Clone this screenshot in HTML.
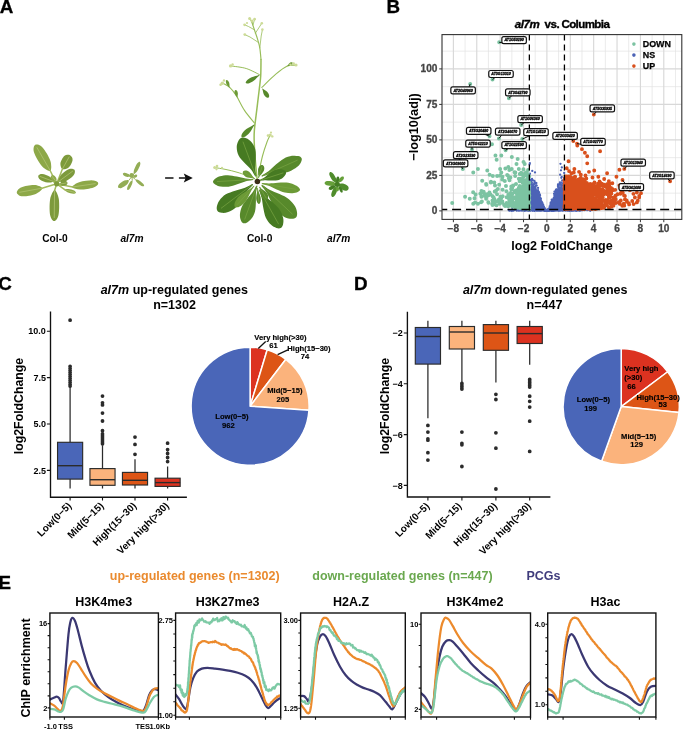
<!DOCTYPE html>
<html lang="en"><head><meta charset="utf-8"><title>Figure</title>
<style>
html,body{margin:0;padding:0;background:#fff}
svg{display:block}
svg text{font-family:'Liberation Sans',Arial,Helvetica,sans-serif;font-weight:bold}
</style></head><body>
<svg width="685" height="729" viewBox="0 0 685 729">
<rect width="685" height="729" fill="#fff"/>
<g stroke="#000" stroke-width="0.3"><text x="-0.3" y="12.7" font-size="18.8">A</text>
<text x="386.6" y="12.7" font-size="18.8">B</text>
<text x="-1.8" y="289.9" font-size="18.8">C</text>
<text x="353.9" y="290.2" font-size="18.8">D</text>
<text x="-1.6" y="588.9" font-size="18.8">E</text></g>
<g id="panelA">
<path d="M56.7 183.8L50.1 170.5M56.7 183.8L42 188.2M56.7 183.8L54.6 190.5M56.7 183.8L72.5 187M56.7 183.8L62.4 169M56.7 183.8L58.9 181.3M56.7 183.8L52.8 181.2M56.7 183.8L64.7 189.7M56.7 183.8L56 181.5M56.7 183.8L60 184" stroke="#a3ba5e" stroke-width="1.5" fill="none" stroke-linecap="round"/>
<path d="M50.88 170.05C50.94 169.45 51.33 167.96 51.24 166.42C51.15 164.87 51.07 162.92 50.33 160.77C49.59 158.62 48.12 155.75 46.82 153.52C45.52 151.3 43.89 148.86 42.53 147.41C41.18 145.95 39.92 145.25 38.71 144.8C37.51 144.35 36.14 144.22 35.3 144.7C34.46 145.18 33.88 146.43 33.66 147.7C33.44 148.97 33.41 150.41 33.99 152.31C34.56 154.21 35.84 156.85 37.1 159.1C38.37 161.34 40.1 164.06 41.58 165.78C43.07 167.51 44.71 168.56 46 169.42C47.29 170.29 48.51 170.84 49.32 170.95C50.14 171.05 50.62 170.2 50.88 170.05Z" fill="#8da848"/><path d="M50.1 170.5L36.78 147.28" stroke="#b4c777" stroke-width="0.7" fill="none"/>
<path d="M41.85 187.4C41.38 187.16 40.27 186.35 38.99 185.95C37.7 185.55 36.08 185.01 34.12 184.97C32.16 184.93 29.41 185.3 27.22 185.71C25.04 186.13 22.6 186.76 21.03 187.46C19.47 188.17 18.54 189.03 17.84 189.92C17.13 190.8 16.64 191.93 16.8 192.8C16.96 193.67 17.81 194.55 18.79 195.13C19.76 195.72 20.93 196.19 22.65 196.3C24.36 196.4 26.87 196.13 29.06 195.75C31.24 195.37 33.95 194.73 35.77 194C37.59 193.27 38.91 192.2 39.97 191.37C41.04 190.54 41.83 189.66 42.15 189C42.46 188.34 41.9 187.66 41.85 187.4Z" fill="#8da848"/><path d="M42 188.2L19.32 192.34" stroke="#b4c777" stroke-width="0.7" fill="none"/>
<path d="M53.83 190.49C53.52 190.99 52.58 192.1 51.97 193.52C51.36 194.93 50.57 196.7 50.17 198.98C49.77 201.27 49.6 204.57 49.58 207.21C49.56 209.86 49.7 212.86 50.06 214.84C50.41 216.83 51.04 218.11 51.73 219.14C52.42 220.16 53.37 220.99 54.2 221C55.03 221.01 56 220.21 56.72 219.2C57.44 218.2 58.09 216.93 58.5 214.96C58.91 212.98 59.13 209.98 59.18 207.34C59.23 204.69 59.15 201.39 58.81 199.1C58.47 196.8 57.73 195.02 57.15 193.58C56.58 192.15 55.92 191.03 55.37 190.51C54.81 189.99 54.09 190.49 53.83 190.49Z" fill="#7d9a3c"/><path d="M54.6 190.5L54.24 217.95" stroke="#b4c777" stroke-width="0.7" fill="none"/>
<path d="M72.6 187.65C73.06 187.84 74.12 188.49 75.39 188.81C76.67 189.13 78.26 189.56 80.24 189.59C82.21 189.61 85.01 189.31 87.23 188.97C89.46 188.62 91.97 188.1 93.59 187.53C95.21 186.96 96.2 186.26 96.97 185.54C97.74 184.82 98.3 183.9 98.2 183.2C98.1 182.5 97.29 181.79 96.35 181.32C95.4 180.85 94.25 180.47 92.53 180.39C90.81 180.31 88.26 180.54 86.04 180.85C83.81 181.17 81.04 181.69 79.16 182.29C77.27 182.88 75.87 183.75 74.75 184.43C73.62 185.11 72.76 185.81 72.4 186.35C72.05 186.89 72.56 187.43 72.6 187.65Z" fill="#8da848"/><path d="M72.5 187L95.63 183.58" stroke="#b4c777" stroke-width="0.7" fill="none"/>
<path d="M63.13 169.41C63.54 169.34 64.7 169.32 65.62 168.99C66.54 168.66 67.72 168.26 68.64 167.42C69.57 166.58 70.52 165.15 71.18 163.94C71.83 162.74 72.42 161.29 72.56 160.19C72.69 159.09 72.41 158.18 72 157.35C71.59 156.51 70.89 155.64 70.1 155.2C69.31 154.76 68.2 154.62 67.28 154.71C66.35 154.8 65.43 155.04 64.56 155.73C63.7 156.42 62.78 157.69 62.09 158.88C61.41 160.06 60.7 161.63 60.47 162.86C60.24 164.08 60.52 165.3 60.72 166.25C60.92 167.21 61.27 168.07 61.67 168.59C62.07 169.12 62.88 169.27 63.13 169.41Z" fill="#7d9a3c"/><path d="M62.4 169L69.33 156.58" stroke="#b4c777" stroke-width="0.7" fill="none"/>
<path d="M59.31 181.85C59.73 181.88 60.8 182.13 61.84 182.02C62.88 181.91 64.2 181.79 65.56 181.2C66.93 180.6 68.69 179.44 70.03 178.44C71.38 177.43 72.82 176.17 73.63 175.15C74.44 174.12 74.75 173.18 74.89 172.29C75.04 171.4 74.94 170.4 74.5 169.8C74.06 169.2 73.13 168.81 72.24 168.69C71.34 168.57 70.35 168.58 69.13 169.05C67.92 169.52 66.29 170.53 64.93 171.51C63.57 172.5 61.95 173.84 60.97 174.96C60 176.09 59.5 177.32 59.08 178.28C58.67 179.24 58.45 180.15 58.49 180.75C58.53 181.34 59.17 181.67 59.31 181.85Z" fill="#7d9a3c"/><path d="M58.9 181.3L72.94 170.95" stroke="#b4c777" stroke-width="0.7" fill="none"/>
<path d="M52.99 180.69C52.82 180.4 52.52 179.58 51.99 178.94C51.46 178.29 50.8 177.47 49.81 176.82C48.81 176.17 47.27 175.5 46.01 175.04C44.75 174.59 43.28 174.17 42.24 174.08C41.21 173.98 40.44 174.18 39.79 174.47C39.13 174.75 38.51 175.25 38.3 175.8C38.09 176.35 38.24 177.13 38.55 177.78C38.86 178.43 39.31 179.08 40.16 179.68C41 180.29 42.39 180.94 43.64 181.42C44.89 181.89 46.49 182.39 47.67 182.56C48.85 182.72 49.89 182.52 50.71 182.38C51.53 182.24 52.23 181.99 52.61 181.71C52.99 181.43 52.93 180.86 52.99 180.69Z" fill="#7d9a3c"/><path d="M52.8 181.2L39.75 176.34" stroke="#b4c777" stroke-width="0.7" fill="none"/>
<path d="M64.62 189.99C64.77 190.16 65.09 190.63 65.55 191C66.01 191.37 66.58 191.84 67.38 192.22C68.18 192.59 69.38 192.97 70.35 193.24C71.33 193.5 72.45 193.74 73.21 193.79C73.98 193.85 74.52 193.73 74.96 193.57C75.41 193.4 75.81 193.12 75.9 192.8C75.99 192.48 75.79 192.03 75.49 191.66C75.19 191.29 74.79 190.92 74.11 190.57C73.42 190.22 72.34 189.85 71.37 189.57C70.4 189.3 69.17 189.01 68.29 188.92C67.41 188.83 66.68 188.94 66.09 189.02C65.51 189.1 65.03 189.25 64.78 189.41C64.54 189.57 64.65 189.9 64.62 189.99Z" fill="#8da848"/><path d="M64.7 189.7L74.78 192.49" stroke="#b4c777" stroke-width="0.7" fill="none"/>
<path d="M56.29 181.28C56.34 181.09 56.53 180.6 56.54 180.15C56.56 179.7 56.59 179.13 56.4 178.58C56.2 178.02 55.76 177.34 55.36 176.82C54.97 176.3 54.46 175.77 54.02 175.49C53.58 175.21 53.15 175.14 52.73 175.14C52.31 175.14 51.82 175.26 51.5 175.5C51.18 175.74 50.93 176.18 50.81 176.58C50.69 176.98 50.64 177.41 50.78 177.91C50.93 178.41 51.3 179.06 51.69 179.58C52.07 180.1 52.61 180.72 53.08 181.06C53.56 181.41 54.12 181.54 54.56 181.65C54.99 181.76 55.42 181.78 55.71 181.72C56 181.66 56.2 181.35 56.29 181.28Z" fill="#8da848"/><path d="M56 181.5L51.95 176.1" stroke="#b4c777" stroke-width="0.7" fill="none"/>
<path d="M60.06 184.36C60.21 184.49 60.55 184.88 60.95 185.11C61.34 185.33 61.84 185.62 62.43 185.71C63.02 185.79 63.84 185.72 64.49 185.61C65.14 185.5 65.86 185.3 66.32 185.04C66.78 184.78 67.04 184.43 67.24 184.05C67.44 183.68 67.56 183.19 67.5 182.8C67.44 182.41 67.16 181.98 66.86 181.69C66.56 181.4 66.2 181.15 65.68 181.04C65.16 180.94 64.41 180.97 63.76 181.07C63.11 181.17 62.31 181.36 61.77 181.62C61.24 181.88 60.86 182.32 60.55 182.65C60.25 182.99 60.02 183.35 59.94 183.64C59.86 183.92 60.04 184.24 60.06 184.36Z" fill="#7d9a3c"/><path d="M60 184L66.75 182.92" stroke="#b4c777" stroke-width="0.7" fill="none"/>
<circle cx="56.7" cy="183.8" r="2.6" fill="#7d9a3c"/>
<path d="M131.9 176.5L134 173.8" stroke="#a3ba5e" stroke-width="1" fill="none"/>
<path d="M134.27 173.93C134.48 173.79 135.02 173.51 135.5 173.06C135.98 172.6 136.59 172.04 137.15 171.21C137.72 170.39 138.39 169.12 138.89 168.08C139.39 167.05 139.9 165.85 140.14 165.01C140.38 164.17 140.39 163.56 140.34 163.05C140.28 162.53 140.09 162.04 139.8 161.9C139.51 161.76 139.01 161.91 138.57 162.18C138.12 162.46 137.66 162.84 137.14 163.55C136.63 164.26 136 165.4 135.49 166.43C134.98 167.45 134.4 168.77 134.09 169.72C133.79 170.68 133.72 171.5 133.66 172.16C133.6 172.82 133.63 173.37 133.73 173.67C133.83 173.96 134.18 173.89 134.27 173.93Z" fill="#93ad55"/>
<path d="M131.9 176.5L128.6 180.6" stroke="#a3ba5e" stroke-width="1" fill="none"/>
<path d="M128.38 180.26C128.11 180.24 127.46 180.07 126.81 180.13C126.15 180.18 125.32 180.24 124.43 180.58C123.54 180.93 122.38 181.61 121.48 182.2C120.59 182.8 119.62 183.55 119.05 184.16C118.49 184.77 118.24 185.34 118.1 185.88C117.96 186.42 117.96 187.03 118.2 187.4C118.44 187.77 119 188.02 119.55 188.1C120.1 188.19 120.72 188.19 121.51 187.92C122.3 187.65 123.37 187.06 124.28 186.48C125.18 185.89 126.27 185.1 126.94 184.43C127.62 183.75 128 183.01 128.31 182.43C128.63 181.85 128.81 181.3 128.82 180.94C128.83 180.58 128.45 180.37 128.38 180.26Z" fill="#93ad55"/>
<path d="M131.9 176.5L135.6 179.6" stroke="#a3ba5e" stroke-width="1" fill="none"/>
<path d="M135.44 179.8C135.52 179.99 135.64 180.47 135.92 180.93C136.19 181.38 136.52 181.96 137.08 182.55C137.64 183.13 138.52 183.87 139.25 184.43C139.98 184.99 140.84 185.58 141.47 185.9C142.09 186.22 142.57 186.33 142.99 186.36C143.41 186.39 143.83 186.32 144 186.1C144.17 185.88 144.14 185.46 144 185.06C143.86 184.66 143.64 184.22 143.17 183.7C142.7 183.17 141.91 182.49 141.19 181.92C140.46 181.35 139.53 180.68 138.82 180.29C138.12 179.9 137.48 179.72 136.96 179.57C136.45 179.42 136.01 179.36 135.76 179.4C135.5 179.44 135.5 179.73 135.44 179.8Z" fill="#93ad55"/>
<path d="M131.9 176.5L132.3 180.5" stroke="#a3ba5e" stroke-width="1" fill="none"/>
<path d="M132.09 180.39C131.92 180.51 131.49 180.73 131.1 181.09C130.71 181.45 130.22 181.89 129.75 182.55C129.29 183.21 128.74 184.22 128.32 185.05C127.91 185.88 127.49 186.83 127.28 187.51C127.08 188.18 127.06 188.66 127.09 189.08C127.13 189.49 127.27 189.88 127.5 190C127.73 190.12 128.13 190 128.48 189.78C128.84 189.56 129.22 189.26 129.64 188.69C130.05 188.13 130.57 187.22 131 186.4C131.42 185.58 131.9 184.53 132.16 183.77C132.42 183 132.48 182.34 132.54 181.81C132.6 181.29 132.59 180.84 132.51 180.61C132.44 180.37 132.16 180.43 132.09 180.39Z" fill="#93ad55"/>
<path d="M131.9 176.5L130 176.2" stroke="#a3ba5e" stroke-width="1" fill="none"/>
<path d="M130.09 175.94C130.01 175.8 129.87 175.39 129.61 175.07C129.35 174.75 129.03 174.34 128.54 174.02C128.06 173.7 127.3 173.38 126.69 173.16C126.07 172.94 125.35 172.74 124.84 172.7C124.33 172.66 123.96 172.77 123.63 172.92C123.31 173.07 123 173.32 122.9 173.6C122.8 173.88 122.87 174.27 123.02 174.59C123.17 174.92 123.39 175.24 123.8 175.54C124.22 175.84 124.89 176.15 125.5 176.38C126.12 176.61 126.9 176.85 127.48 176.92C128.06 176.99 128.57 176.89 128.97 176.81C129.38 176.73 129.72 176.6 129.91 176.46C130.09 176.31 130.06 176.03 130.09 175.94Z" fill="#93ad55"/>
<path d="M131.9 176.5L133.5 177.5" stroke="#a3ba5e" stroke-width="1" fill="none"/>
<path d="M133.62 177.67C133.73 177.7 134.01 177.81 134.26 177.83C134.52 177.85 134.85 177.87 135.17 177.77C135.49 177.66 135.89 177.42 136.19 177.2C136.49 176.98 136.81 176.69 136.98 176.45C137.14 176.2 137.18 175.95 137.19 175.71C137.19 175.47 137.13 175.19 137 175C136.87 174.81 136.62 174.67 136.39 174.59C136.16 174.52 135.91 174.48 135.62 174.55C135.34 174.63 134.96 174.84 134.66 175.05C134.35 175.26 133.99 175.56 133.79 175.83C133.59 176.1 133.5 176.42 133.44 176.67C133.37 176.92 133.35 177.16 133.38 177.33C133.41 177.5 133.58 177.61 133.62 177.67Z" fill="#93ad55"/>
<circle cx="131.7" cy="175.4" r="2.3" fill="#93ad55"/>
<path d="M165.1 177.95H173.5M178.9 177.95H186.5" stroke="#111" stroke-width="1.5" fill="none"/>
<path d="M192.8 177.95L183.8 173.6L185.6 177.95L183.8 182.5Z" fill="#111"/>
<g fill="none" stroke="#97bd58" stroke-linecap="round">
<path d="M257.2 180C256.88 176.67 255.8 166.4 255.3 160C254.8 153.6 254.35 146.6 254.2 141.6C254.05 136.6 253.95 135.47 254.4 130C254.85 124.53 256.08 115.63 256.9 108.8C257.72 101.97 258.67 94.48 259.3 89C259.93 83.52 260.42 80.83 260.7 75.9C260.98 70.97 260.95 62.15 261 59.4" stroke-width="1.5"/>
<path d="M261 59.4C260.8 57.48 260.35 51.2 259.8 47.9C259.25 44.6 258.6 42.62 257.7 39.6C256.8 36.58 255.37 32.68 254.4 29.8C253.43 26.92 252.32 23.55 251.9 22.3" stroke-width="1.15"/>
<path d="M254.4 123C252.75 120.9 247.52 114.97 244.5 110.4C241.48 105.83 238.77 99.43 236.3 95.6C233.83 91.77 231.9 89.45 229.7 87.4C227.5 85.35 224.2 83.98 223.1 83.3" stroke-width="1.1"/>
<path d="M261.8 87.4C264.13 85.2 271.55 77.77 275.8 74.2C280.05 70.63 284 67.5 287.3 66C290.6 64.5 294.22 65.33 295.6 65.2" stroke-width="1.1"/>
<path d="M260.2 75C257.87 73.92 251.02 70 246.2 68.5C241.38 67 233.78 66.42 231.3 66" stroke-width="1.0"/>
<path d="M258.5 174.5C259.17 171.42 261.08 161.42 262.5 156C263.92 150.58 265.75 145.42 267 142C268.25 138.58 269.5 136.58 270 135.5" stroke-width="1.1"/>
<path d="M252.5 177.6C250.08 176.75 242.42 173.85 238 172.5C233.58 171.15 229.83 170.32 226 169.5C222.17 168.68 216.83 167.92 215 167.6" stroke-width="1.0"/>
<path d="M259.8 47.9L261.2 36L262.4 29.8M257.7 42L250 37L244.8 34.6M254.4 29.8L248.5 26.5L244.6 24.8M255.5 33L260 26L261.8 23.2M251.9 22.3L249.6 18.6M253 25L254.6 19.2" stroke-width="0.8"/>
</g>
<path d="M254.12 124.61C253.73 124.84 252.8 125.44 251.78 125.99C250.77 126.55 249.18 127.23 248.03 127.94C246.88 128.64 245.83 129.37 244.88 130.24C243.93 131.12 242.92 132.31 242.34 133.19C241.76 134.07 241.53 134.89 241.41 135.53C241.28 136.16 241.32 136.71 241.6 137C241.88 137.29 242.42 137.35 243.06 137.25C243.7 137.16 244.53 136.96 245.44 136.42C246.34 135.87 247.57 134.91 248.48 134C249.39 133.08 250.16 132.06 250.91 130.94C251.67 129.81 252.41 128.26 253.01 127.27C253.6 126.28 254.29 125.43 254.48 124.99C254.67 124.55 254.18 124.67 254.12 124.61Z" fill="#57892b"/>
<path d="M259.19 75.11C258.81 75.22 257.89 75.54 256.9 75.81C255.92 76.07 254.43 76.33 253.3 76.7C252.17 77.06 251.11 77.46 250.11 78.01C249.11 78.55 247.98 79.35 247.29 79.97C246.6 80.59 246.22 81.23 245.97 81.74C245.72 82.24 245.63 82.71 245.8 83C245.97 83.29 246.42 83.45 246.98 83.49C247.54 83.54 248.28 83.53 249.17 83.26C250.05 82.98 251.31 82.41 252.29 81.83C253.27 81.25 254.15 80.54 255.04 79.75C255.93 78.97 256.92 77.82 257.65 77.1C258.37 76.39 259.15 75.82 259.41 75.49C259.67 75.16 259.23 75.17 259.19 75.11Z" fill="#57892b"/>
<path d="M262.22 88.72C262.3 89 262.53 89.66 262.71 90.37C262.9 91.09 263.04 92.21 263.31 93.02C263.57 93.83 263.87 94.58 264.31 95.25C264.74 95.92 265.4 96.64 265.93 97.05C266.45 97.47 267.01 97.63 267.46 97.72C267.9 97.82 268.32 97.79 268.6 97.6C268.88 97.41 269.05 97.02 269.12 96.58C269.2 96.13 269.24 95.54 269.04 94.91C268.84 94.27 268.4 93.4 267.93 92.75C267.46 92.1 266.87 91.56 266.21 91.02C265.54 90.48 264.55 89.95 263.95 89.53C263.34 89.1 262.87 88.61 262.58 88.48C262.29 88.34 262.28 88.68 262.22 88.72Z" fill="#57892b"/>
<path d="M237.46 97.46C237.47 97.26 237.49 96.77 237.56 96.25C237.63 95.73 237.82 94.95 237.86 94.35C237.9 93.75 237.89 93.18 237.78 92.63C237.66 92.07 237.41 91.43 237.16 91.03C236.92 90.62 236.58 90.37 236.31 90.2C236.03 90.03 235.74 89.94 235.5 90C235.26 90.06 235.04 90.27 234.87 90.55C234.71 90.83 234.52 91.2 234.49 91.67C234.45 92.14 234.52 92.83 234.66 93.37C234.81 93.92 235.07 94.43 235.37 94.95C235.68 95.47 236.21 96.07 236.5 96.5C236.8 96.93 236.99 97.38 237.14 97.54C237.3 97.7 237.4 97.48 237.46 97.46Z" fill="#6c9a36"/>
<path d="M229.64 87.75C229.62 87.53 229.55 87 229.53 86.45C229.5 85.89 229.55 85.05 229.48 84.41C229.41 83.76 229.31 83.16 229.1 82.58C228.89 82 228.55 81.35 228.24 80.94C227.94 80.53 227.58 80.3 227.29 80.14C227 79.99 226.71 79.92 226.5 80C226.29 80.08 226.12 80.33 226.01 80.64C225.9 80.95 225.79 81.36 225.84 81.87C225.88 82.37 226.07 83.09 226.3 83.66C226.53 84.23 226.86 84.74 227.24 85.27C227.62 85.79 228.22 86.38 228.57 86.81C228.93 87.24 229.18 87.7 229.36 87.85C229.54 88.01 229.59 87.76 229.64 87.75Z" fill="#6c9a36"/>
<path d="M287.37 66.31C287.53 66.26 287.92 66.13 288.33 66.02C288.75 65.92 289.4 65.84 289.87 65.69C290.34 65.53 290.77 65.36 291.16 65.11C291.55 64.86 291.96 64.47 292.2 64.17C292.44 63.86 292.53 63.53 292.58 63.27C292.63 63.01 292.61 62.76 292.5 62.6C292.39 62.44 292.16 62.33 291.9 62.29C291.64 62.24 291.3 62.21 290.93 62.33C290.56 62.44 290.05 62.7 289.68 62.97C289.31 63.25 288.99 63.59 288.68 63.98C288.38 64.36 288.07 64.94 287.83 65.3C287.59 65.65 287.3 65.92 287.23 66.09C287.15 66.26 287.35 66.27 287.37 66.31Z" fill="#6c9a36"/>
<circle cx="262.4" cy="29.6" r="1.3" fill="#cddb96"/>
<circle cx="244.8" cy="34.6" r="1.4" fill="#cddb96"/>
<circle cx="244.6" cy="24.8" r="1.4" fill="#cddb96"/>
<circle cx="261.8" cy="23.2" r="1.3" fill="#cddb96"/>
<circle cx="249.6" cy="18.6" r="1.5" fill="#cddb96"/>
<circle cx="254.6" cy="19.2" r="1.4" fill="#cddb96"/>
<circle cx="252" cy="21" r="1.4" fill="#cddb96"/>
<circle cx="247" cy="23" r="1.1" fill="#cddb96"/>
<circle cx="222.3" cy="83.2" r="1.7" fill="#cddb96"/>
<circle cx="220.6" cy="84.8" r="1.3" fill="#cddb96"/>
<circle cx="224" cy="80.5" r="1.2" fill="#cddb96"/>
<circle cx="296" cy="65" r="1.6" fill="#cddb96"/>
<circle cx="293.6" cy="63.6" r="1.3" fill="#cddb96"/>
<circle cx="290.5" cy="64.8" r="1.2" fill="#cddb96"/>
<circle cx="230.6" cy="65.9" r="1.7" fill="#cddb96"/>
<circle cx="232.6" cy="64.4" r="1.2" fill="#cddb96"/>
<circle cx="270.2" cy="135" r="1.6" fill="#cddb96"/>
<circle cx="272.3" cy="136.4" r="1.2" fill="#cddb96"/>
<circle cx="268" cy="135.6" r="1.3" fill="#cddb96"/>
<circle cx="271" cy="132.6" r="1.1" fill="#cddb96"/>
<circle cx="214.7" cy="167.5" r="1.5" fill="#cddb96"/>
<circle cx="217" cy="166" r="1.3" fill="#cddb96"/>
<circle cx="216.5" cy="169.3" r="1.1" fill="#cddb96"/>
<circle cx="222" cy="167.8" r="1.1" fill="#cddb96"/>
<path d="M256.47 175.75C256.26 174.52 255.35 171.23 255.23 168.38C255.11 165.52 255.74 161.79 255.75 158.6C255.75 155.4 255.99 151.97 255.27 149.2C254.55 146.42 252.92 143.76 251.41 141.93C249.9 140.1 247.87 138.9 246.22 138.21C244.56 137.52 242.83 137.3 241.5 137.8C240.17 138.3 239.01 139.6 238.21 141.21C237.42 142.81 236.67 145.05 236.74 147.42C236.8 149.79 237.32 152.87 238.6 155.44C239.88 158.01 242.31 160.44 244.41 162.84C246.52 165.25 249.44 167.64 251.23 169.87C253.01 172.11 254.26 175.27 255.13 176.25C256.01 177.23 256.24 175.83 256.47 175.75Z" fill="#467a22"/><path d="M255.8 176L242.93 141.62" stroke="#7aa544" stroke-width="0.7" fill="none"/>
<path d="M262.23 176.51C263.49 176.15 266.89 174.89 269.81 174.35C272.74 173.81 276.52 173.75 279.78 173.27C283.05 172.78 286.54 172.44 289.41 171.42C292.28 170.39 295.06 168.64 296.99 167.11C298.92 165.58 300.22 163.72 300.99 162.25C301.76 160.78 302.06 159.32 301.6 158.3C301.14 157.28 299.86 156.52 298.25 156.12C296.64 155.71 294.38 155.44 291.96 155.86C289.53 156.28 286.37 157.18 283.7 158.64C281.02 160.09 278.44 162.47 275.9 164.57C273.36 166.68 270.8 169.46 268.44 171.28C266.09 173.1 262.81 174.62 261.77 175.49C260.74 176.36 262.15 176.34 262.23 176.51Z" fill="#57892b"/><path d="M262 176L297.64 160.07" stroke="#7aa544" stroke-width="0.7" fill="none"/>
<path d="M252.97 179.04C251.76 178.96 248.42 178.96 245.72 178.54C243.02 178.12 239.75 177.07 236.78 176.52C233.8 175.96 230.68 175.22 227.87 175.19C225.06 175.16 222.08 175.71 219.91 176.33C217.74 176.96 215.99 178.02 214.84 178.93C213.69 179.84 212.95 180.88 213 181.8C213.05 182.72 213.91 183.67 215.16 184.44C216.41 185.21 218.26 186.07 220.49 186.44C222.72 186.81 225.74 187.02 228.53 186.67C231.32 186.31 234.33 185.22 237.22 184.32C240.12 183.43 243.25 182.02 245.88 181.29C248.51 180.56 251.84 180.33 253.03 179.96C254.21 179.58 252.98 179.19 252.97 179.04Z" fill="#57892b"/><path d="M253 179.5L217 181.57" stroke="#7aa544" stroke-width="0.7" fill="none"/>
<path d="M259.63 180.9C260.47 180.78 262.73 180.24 264.65 180.17C266.58 180.1 269.04 180.49 271.19 180.5C273.34 180.51 275.63 180.66 277.53 180.23C279.44 179.8 281.32 178.83 282.64 177.93C283.96 177.03 284.88 175.81 285.44 174.82C286 173.84 286.26 172.8 286 172C285.74 171.2 284.94 170.5 283.91 170.03C282.88 169.55 281.42 169.1 279.82 169.13C278.22 169.17 276.13 169.47 274.33 170.23C272.52 170.99 270.75 172.44 269.01 173.7C267.27 174.96 265.49 176.7 263.89 177.77C262.28 178.84 260.08 179.58 259.37 180.1C258.66 180.62 259.59 180.77 259.63 180.9Z" fill="#467a22"/><path d="M259.5 180.5L283.35 172.85" stroke="#7aa544" stroke-width="0.7" fill="none"/>
<path d="M261.93 183.89C263.05 184.22 266.19 184.93 268.64 185.85C271.09 186.78 273.95 188.35 276.63 189.45C279.31 190.55 282.09 191.84 284.72 192.46C287.35 193.08 290.26 193.24 292.42 193.17C294.58 193.1 296.43 192.57 297.7 192.04C298.96 191.51 299.87 190.79 300 190C300.13 189.21 299.52 188.23 298.5 187.31C297.49 186.39 295.92 185.28 293.9 184.49C291.88 183.71 289.09 182.89 286.4 182.6C283.71 182.31 280.67 182.6 277.77 182.75C274.88 182.9 271.66 183.43 269.04 183.49C266.42 183.55 263.25 183.04 262.07 183.11C260.88 183.17 261.96 183.76 261.93 183.89Z" fill="#6c9a36"/><path d="M262 183.5L296.2 189.35" stroke="#7aa544" stroke-width="0.7" fill="none"/>
<path d="M252.1 183.97C250.92 184.59 247.84 186.58 245 187.69C242.17 188.8 238.31 189.52 235.11 190.63C231.92 191.74 228.44 192.72 225.82 194.35C223.2 195.99 220.91 198.41 219.42 200.44C217.92 202.47 217.18 204.76 216.86 206.52C216.54 208.28 216.7 209.95 217.5 211C218.3 212.05 219.86 212.66 221.64 212.83C223.42 213 225.83 212.91 228.18 212.02C230.54 211.13 233.5 209.58 235.78 207.51C238.06 205.43 239.95 202.35 241.89 199.57C243.82 196.8 245.56 193.27 247.4 190.85C249.23 188.42 252.11 186.17 252.9 185.03C253.68 183.88 252.23 184.15 252.1 183.97Z" fill="#467a22"/><path d="M252.5 184.5L221 208.35" stroke="#7aa544" stroke-width="0.7" fill="none"/>
<path d="M261.53 186C262.4 187.12 265.04 189.99 266.72 192.75C268.41 195.5 269.88 199.38 271.64 202.51C273.39 205.64 275.07 209.08 277.25 211.53C279.44 213.98 282.38 215.96 284.75 217.19C287.13 218.41 289.63 218.82 291.5 218.87C293.38 218.92 295.07 218.49 296 217.5C296.93 216.51 297.26 214.8 297.1 212.93C296.93 211.06 296.37 208.59 295.01 206.29C293.64 204 291.48 201.18 288.91 199.15C286.33 197.12 282.79 195.65 279.56 194.09C276.33 192.53 272.37 191.29 269.52 189.77C266.67 188.26 263.8 185.63 262.47 185C261.14 184.37 261.69 185.83 261.53 186Z" fill="#57892b"/><path d="M262 185.5L292.6 214.3" stroke="#7aa544" stroke-width="0.7" fill="none"/>
<path d="M256.27 185.81C255.69 186.86 254.35 189.88 252.79 192.12C251.23 194.36 248.75 196.83 246.93 199.26C245.1 201.68 243.01 204.15 241.85 206.68C240.69 209.2 240.11 212.15 239.94 214.4C239.77 216.66 240.26 218.73 240.82 220.19C241.38 221.66 242.25 222.82 243.3 223.2C244.35 223.58 245.76 223.25 247.13 222.49C248.5 221.72 250.21 220.44 251.52 218.61C252.83 216.77 254.28 214.14 255.01 211.45C255.74 208.77 255.72 205.53 255.87 202.5C256.03 199.47 255.71 195.99 255.95 193.27C256.19 190.55 257.27 187.43 257.33 186.19C257.38 184.95 256.45 185.87 256.27 185.81Z" fill="#57892b"/><path d="M256.8 186L244.65 219.48" stroke="#7aa544" stroke-width="0.7" fill="none"/>
<path d="M258.94 190.31C259.39 191.56 260.94 194.85 261.66 197.78C262.38 200.7 262.6 204.58 263.27 207.86C263.95 211.14 264.47 214.68 265.73 217.47C266.99 220.26 269.05 222.85 270.82 224.6C272.6 226.35 274.72 227.41 276.39 227.98C278.05 228.54 279.68 228.63 280.8 228C281.92 227.37 282.7 225.94 283.08 224.22C283.47 222.51 283.67 220.15 283.11 217.72C282.54 215.29 281.41 212.18 279.68 209.65C277.96 207.12 275.21 204.83 272.77 202.54C270.32 200.25 267.13 198.04 265.01 195.9C262.89 193.76 261.07 190.62 260.06 189.69C259.05 188.76 259.13 190.21 258.94 190.31Z" fill="#467a22"/><path d="M259.5 190L278.67 224.2" stroke="#7aa544" stroke-width="0.7" fill="none"/>
<path d="M253.75 185.77C253.09 186.33 251.41 187.98 249.82 189.1C248.24 190.21 246.05 191.28 244.26 192.46C242.46 193.64 240.5 194.79 239.07 196.17C237.63 197.54 236.42 199.31 235.65 200.71C234.87 202.11 234.55 203.53 234.44 204.58C234.33 205.63 234.5 206.54 235 207C235.5 207.46 236.43 207.53 237.46 207.32C238.49 207.11 239.88 206.64 241.19 205.73C242.51 204.82 244.15 203.44 245.37 201.87C246.6 200.31 247.55 198.24 248.54 196.34C249.54 194.44 250.38 192.15 251.34 190.46C252.29 188.78 253.85 187.01 254.25 186.23C254.65 185.45 253.83 185.85 253.75 185.77Z" fill="#6c9a36"/><path d="M254 186L236.9 204.9" stroke="#7aa544" stroke-width="0.7" fill="none"/>
<path d="M259.28 187.13C259.43 187.55 259.96 188.65 260.18 189.65C260.4 190.65 260.41 192.01 260.6 193.14C260.8 194.27 260.93 195.49 261.36 196.42C261.8 197.35 262.54 198.18 263.2 198.72C263.85 199.26 264.65 199.55 265.29 199.68C265.92 199.81 266.55 199.77 267 199.5C267.45 199.23 267.78 198.69 267.96 198.07C268.15 197.45 268.27 196.61 268.1 195.78C267.93 194.95 267.55 193.9 266.94 193.08C266.32 192.26 265.3 191.57 264.4 190.86C263.49 190.16 262.3 189.51 261.52 188.85C260.74 188.18 260.1 187.15 259.72 186.87C259.35 186.58 259.35 187.09 259.28 187.13Z" fill="#57892b"/><path d="M259.5 187L266.25 198.25" stroke="#7aa544" stroke-width="0.7" fill="none"/>
<path d="M257.32 188.02C257.31 188.5 257.36 189.84 257.23 190.93C257.11 192.02 256.75 193.34 256.58 194.54C256.4 195.74 256.16 197 256.19 198.13C256.22 199.26 256.48 200.44 256.76 201.3C257.04 202.17 257.48 202.85 257.85 203.3C258.22 203.75 258.64 204.03 259 204C259.36 203.97 259.72 203.61 260 203.1C260.28 202.59 260.59 201.83 260.7 200.94C260.81 200.04 260.85 198.82 260.67 197.71C260.49 196.6 260.02 195.4 259.62 194.26C259.23 193.11 258.63 191.88 258.31 190.83C257.98 189.78 257.84 188.45 257.68 187.98C257.51 187.51 257.38 188.01 257.32 188.02Z" fill="#57892b"/><path d="M257.5 188L258.85 202.4" stroke="#7aa544" stroke-width="0.7" fill="none"/>
<path d="M255.13 178.8C254.81 178.5 253.86 177.79 253.22 177.04C252.58 176.29 251.96 175.14 251.28 174.27C250.6 173.4 249.94 172.42 249.15 171.81C248.36 171.2 247.36 170.8 246.56 170.61C245.76 170.42 244.96 170.51 244.36 170.65C243.77 170.8 243.25 171.09 243 171.5C242.75 171.91 242.71 172.5 242.84 173.1C242.96 173.69 243.24 174.46 243.76 175.09C244.28 175.72 245.08 176.45 245.97 176.89C246.86 177.33 248.04 177.5 249.12 177.73C250.2 177.96 251.5 178.01 252.46 178.26C253.42 178.51 254.43 179.11 254.87 179.2C255.32 179.29 255.08 178.86 255.13 178.8Z" fill="#6c9a36"/><path d="M255 179L244.2 172.25" stroke="#7aa544" stroke-width="0.7" fill="none"/>
<path d="M258.73 178.07C258.93 177.7 259.35 176.65 259.91 175.87C260.46 175.09 261.39 174.24 262.05 173.4C262.71 172.56 263.47 171.7 263.85 170.82C264.22 169.94 264.33 168.91 264.3 168.12C264.27 167.32 263.98 166.59 263.68 166.07C263.38 165.55 262.96 165.14 262.5 165C262.04 164.86 261.46 164.97 260.92 165.23C260.38 165.49 259.73 165.93 259.26 166.56C258.79 167.2 258.3 168.12 258.11 169.06C257.93 170 258.08 171.13 258.15 172.2C258.22 173.27 258.51 174.49 258.53 175.45C258.55 176.4 258.24 177.49 258.27 177.93C258.3 178.37 258.65 178.05 258.73 178.07Z" fill="#57892b"/><path d="M258.5 178L262.1 166.3" stroke="#7aa544" stroke-width="0.7" fill="none"/>
<circle cx="257.4" cy="181.5" r="2.8" fill="#3a2e18"/>
<path d="M336.5 182.32C336.51 182.07 336.65 181.47 336.58 180.85C336.52 180.23 336.45 179.44 336.13 178.58C335.8 177.72 335.16 176.58 334.61 175.69C334.06 174.8 333.37 173.83 332.81 173.25C332.25 172.67 331.74 172.4 331.25 172.22C330.77 172.05 330.23 172 329.9 172.2C329.57 172.4 329.37 172.9 329.3 173.41C329.24 173.93 329.25 174.51 329.51 175.27C329.77 176.03 330.32 177.09 330.86 177.98C331.4 178.88 332.13 179.96 332.75 180.65C333.36 181.33 334.03 181.75 334.56 182.09C335.08 182.43 335.58 182.65 335.9 182.68C336.22 182.72 336.4 182.38 336.5 182.32Z" fill="#4f8c2c"/>
<path d="M338.7 182.39C338.86 182.37 339.29 182.4 339.68 182.29C340.07 182.18 340.56 182.05 341.04 181.74C341.52 181.42 342.1 180.87 342.54 180.4C342.98 179.93 343.43 179.35 343.67 178.91C343.9 178.46 343.95 178.08 343.94 177.73C343.93 177.38 343.81 177 343.6 176.8C343.39 176.6 343 176.51 342.65 176.52C342.3 176.53 341.92 176.6 341.49 176.85C341.06 177.11 340.52 177.6 340.07 178.06C339.62 178.53 339.1 179.14 338.82 179.64C338.53 180.13 338.43 180.63 338.34 181.03C338.26 181.43 338.24 181.79 338.3 182.01C338.36 182.24 338.63 182.32 338.7 182.39Z" fill="#66a03a"/>
<path d="M338.97 185.04C339.04 185.29 339.1 186 339.36 186.56C339.61 187.12 339.92 187.84 340.51 188.4C341.09 188.96 342.05 189.55 342.85 189.95C343.65 190.34 344.61 190.7 345.32 190.79C346.03 190.87 346.6 190.7 347.11 190.45C347.63 190.21 348.16 189.78 348.4 189.3C348.64 188.82 348.68 188.14 348.58 187.58C348.48 187.02 348.29 186.46 347.8 185.93C347.32 185.4 346.46 184.84 345.67 184.42C344.88 184.01 343.84 183.57 343.05 183.43C342.25 183.29 341.48 183.46 340.88 183.58C340.28 183.7 339.74 183.91 339.43 184.16C339.11 184.4 339.05 184.89 338.97 185.04Z" fill="#4f8c2c"/>
<path d="M335.64 183.62C335.47 183.45 335.11 182.95 334.63 182.6C334.15 182.25 333.54 181.81 332.73 181.54C331.93 181.28 330.74 181.09 329.79 181.01C328.83 180.92 327.74 180.9 327.01 181.02C326.28 181.14 325.79 181.41 325.38 181.72C324.98 182.04 324.64 182.49 324.6 182.9C324.56 183.31 324.8 183.82 325.14 184.21C325.47 184.59 325.89 184.96 326.59 185.22C327.29 185.48 328.36 185.68 329.31 185.78C330.26 185.89 331.46 185.94 332.31 185.84C333.15 185.74 333.83 185.42 334.37 185.18C334.91 184.94 335.35 184.64 335.56 184.38C335.77 184.12 335.63 183.75 335.64 183.62Z" fill="#66a03a"/>
<path d="M335.47 185.54C335.31 185.5 334.9 185.31 334.49 185.27C334.07 185.23 333.54 185.17 332.97 185.3C332.4 185.43 331.64 185.76 331.06 186.06C330.47 186.36 329.83 186.75 329.45 187.1C329.07 187.45 328.9 187.81 328.79 188.16C328.68 188.51 328.66 188.92 328.8 189.2C328.94 189.48 329.28 189.71 329.63 189.83C329.97 189.96 330.36 190.03 330.87 189.94C331.37 189.84 332.07 189.57 332.66 189.28C333.26 188.99 333.97 188.58 334.42 188.2C334.87 187.82 335.14 187.37 335.35 187.01C335.57 186.65 335.71 186.3 335.73 186.06C335.75 185.81 335.51 185.63 335.47 185.54Z" fill="#437d24"/>
<path d="M336.07 186.66C335.88 186.78 335.33 186.99 334.88 187.35C334.44 187.72 333.87 188.18 333.4 188.87C332.93 189.56 332.42 190.63 332.06 191.51C331.7 192.39 331.36 193.41 331.25 194.14C331.14 194.86 331.24 195.39 331.4 195.85C331.55 196.32 331.85 196.75 332.2 196.9C332.55 197.05 333.07 196.95 333.51 196.73C333.95 196.52 334.39 196.21 334.83 195.62C335.26 195.03 335.75 194.07 336.12 193.2C336.49 192.33 336.89 191.21 337.05 190.39C337.21 189.57 337.13 188.84 337.08 188.27C337.02 187.69 336.89 187.2 336.73 186.94C336.56 186.67 336.18 186.71 336.07 186.66Z" fill="#4f8c2c"/>
<path d="M339.19 186.49C339.16 186.63 339.01 186.96 338.98 187.32C338.94 187.68 338.9 188.13 339 188.64C339.1 189.15 339.36 189.83 339.6 190.37C339.84 190.9 340.15 191.49 340.43 191.85C340.71 192.21 340.99 192.39 341.27 192.52C341.55 192.64 341.88 192.7 342.1 192.6C342.32 192.5 342.51 192.23 342.61 191.94C342.7 191.65 342.76 191.32 342.69 190.87C342.62 190.42 342.4 189.79 342.17 189.25C341.94 188.71 341.61 188.06 341.31 187.63C341.01 187.21 340.65 186.94 340.36 186.72C340.08 186.5 339.8 186.35 339.61 186.31C339.41 186.27 339.26 186.46 339.19 186.49Z" fill="#437d24"/>
<path d="M337.24 183.04C337.35 182.95 337.68 182.77 337.92 182.5C338.15 182.23 338.46 181.89 338.66 181.43C338.87 180.96 339.04 180.26 339.14 179.7C339.23 179.13 339.3 178.48 339.26 178.04C339.22 177.6 339.07 177.29 338.9 177.03C338.72 176.77 338.46 176.55 338.2 176.5C337.94 176.45 337.62 176.57 337.36 176.75C337.1 176.93 336.86 177.16 336.66 177.56C336.47 177.96 336.29 178.59 336.18 179.15C336.08 179.72 335.99 180.43 336.01 180.93C336.03 181.44 336.2 181.87 336.32 182.2C336.45 182.54 336.61 182.82 336.76 182.96C336.92 183.1 337.16 183.03 337.24 183.04Z" fill="#437d24"/>
<path d="M337.76 186.45C337.65 186.52 337.33 186.64 337.11 186.84C336.88 187.04 336.58 187.28 336.4 187.64C336.21 187.99 336.06 188.52 335.98 188.96C335.9 189.39 335.85 189.89 335.91 190.24C335.96 190.59 336.11 190.84 336.3 191.05C336.48 191.26 336.75 191.45 337 191.5C337.25 191.55 337.58 191.48 337.82 191.35C338.07 191.23 338.31 191.06 338.49 190.76C338.68 190.46 338.83 189.98 338.92 189.54C339.01 189.11 339.08 188.56 339.04 188.16C339.01 187.77 338.83 187.43 338.69 187.16C338.56 186.89 338.39 186.66 338.24 186.55C338.08 186.43 337.84 186.47 337.76 186.45Z" fill="#66a03a"/>
<circle cx="337.3" cy="184.3" r="2.6" fill="#437d24"/>
<text x="55" y="241.5" font-size="10.2" text-anchor="middle">Col-0</text>
<text x="132" y="241.5" font-size="10.2" text-anchor="middle" font-style="italic">al7m</text>
<text x="259.7" y="241.5" font-size="10.2" text-anchor="middle">Col-0</text>
<text x="338.7" y="241.5" font-size="10.2" text-anchor="middle" font-style="italic">al7m</text>
</g>
<g id="panelB">
<g font-size="11.6" stroke="#000" stroke-width="0.35" letter-spacing="-0.45"><text x="514.7" y="28" font-style="italic">al7m</text><text x="544.4" y="28">vs.</text><text x="561.4" y="28" letter-spacing="-0.62">Columbia</text></g>
<clipPath id="cb"><rect x="442" y="34.6" width="239.8" height="184.8"/></clipPath>
<g clip-path="url(#cb)">
<path d="M441.69 34.6V219.4M465.07 34.6V219.4M488.45 34.6V219.4M511.83 34.6V219.4M535.21 34.6V219.4M558.59 34.6V219.4M581.97 34.6V219.4M605.35 34.6V219.4M628.73 34.6V219.4M652.11 34.6V219.4M675.49 34.6V219.4M442 193.15H681.8M442 157.65H681.8M442 122.15H681.8M442 86.65H681.8M442 51.15H681.8" stroke="#e3e3e3" stroke-width="0.7" fill="none"/>
<path d="M453.38 34.6V219.4M476.76 34.6V219.4M500.14 34.6V219.4M523.52 34.6V219.4M546.9 34.6V219.4M570.28 34.6V219.4M593.66 34.6V219.4M617.04 34.6V219.4M640.42 34.6V219.4M663.8 34.6V219.4M442 210.9H681.8M442 175.4H681.8M442 139.9H681.8M442 104.4H681.8M442 68.9H681.8" stroke="#d8d8d8" stroke-width="1.15" fill="none"/>
<path d="M534.52 199.48h0M553.26 203.22h0M538.33 197h0M529.55 194.75h0M545.49 210.84h0M544.76 209.7h0M560.32 195.85h0M529.39 190.04h0M539.65 209.9h0M531.03 189.6h0M540.03 204.63h0M543.25 206.15h0M537.84 197.06h0M542.47 204.64h0M557.72 195.24h0M551.73 209.04h0M562.28 191.53h0M530.95 208.56h0M539.12 205.84h0M542.76 209.15h0M535.99 200.06h0M553.23 199.9h0M540.43 199.2h0M563.16 201.14h0M529.76 195.68h0M559.76 207.07h0M539.67 198.84h0M530.25 210.54h0M543.64 208.98h0M537.37 191.96h0M559.6 183.93h0M564.04 197.74h0M555.73 209.56h0M563.36 194.2h0M556.27 193.83h0M531.67 197h0M534.22 209.04h0M563.14 201.7h0M557.62 209.06h0M533.98 205.69h0M533.81 184.18h0M553.63 199.11h0M530.53 196.26h0M531.49 189.35h0M555.69 202.13h0M561.19 204.08h0M538.82 204.25h0M538.13 193.6h0M544.7 210.78h0M555.57 210.57h0M545 210.38h0M533.62 196.73h0M563.99 206.21h0M544.95 210.49h0M532.78 196.89h0M531.66 208.77h0M552.05 204.97h0M534.4 191.51h0M533.34 195.41h0M561.27 191.55h0M558.97 203.22h0M556.22 202.6h0M558.29 194.14h0M553.02 201.72h0M535.1 191.02h0M558.37 208.86h0M555.25 200.26h0M559.28 202.54h0M553.74 198.05h0M553.6 204.39h0M529.69 201.77h0M558.34 209.35h0M529.82 204.3h0M536.28 191.3h0M540.4 199.32h0M548.71 210.45h0M537.47 208.9h0M535.19 206.62h0M537.15 200.42h0M533.59 198.55h0M562.88 194.91h0M555.68 194.63h0M563.22 205.84h0M542.57 207.69h0M536.74 210.53h0M563.49 208.05h0M558.51 206.46h0M544.46 209.16h0M540.54 200.65h0M551.18 203.75h0M555.86 201.6h0M549.12 210.38h0M557.1 207.46h0M530.51 193.98h0M557.09 200.41h0M554.68 199.44h0M557.1 192.57h0M561.83 194.77h0M535.77 203.56h0M554.2 201.37h0M559.41 201.99h0M561.07 182.66h0M554.65 210.13h0M542.54 203.92h0M564.09 188h0M550.64 202.83h0M535.73 200.34h0M529.95 199.11h0M538.63 201.66h0M555.35 193.23h0M556.87 195.71h0M563.84 191.97h0M529.65 199.58h0M558.02 192.2h0M533.68 206.31h0M551.92 204.77h0M534.22 193.49h0M563.93 205.25h0M562.06 202.55h0M559.35 196.27h0M539.29 197.16h0M543.63 208.67h0M534.76 209.09h0M560.2 200.29h0M532.21 209.1h0M560.11 205.81h0M531.45 196.41h0M534.67 189.01h0M542.57 210.3h0M558.26 203.9h0M539.96 209.8h0M560.98 207.79h0M556.5 197.09h0M563.8 200.18h0M538.09 194.36h0M537.37 203.89h0M540.33 200.8h0M559.32 194.7h0M545.11 209.86h0M560.46 209.36h0M550.87 205.88h0M533.56 195.09h0M539.82 203.7h0M537.76 198.5h0M561.31 189.3h0M560.65 191.38h0M563.99 198.68h0M557.34 207.78h0M556.64 206.86h0M529.69 204.47h0M561.96 209.57h0M563.46 208.65h0M539.54 202.31h0M538.71 198.55h0M562.43 205.01h0M556.11 193.1h0M544 207.37h0M558.69 189.35h0M544.94 209.07h0M552.68 207.4h0M558.69 187.76h0M552.53 210.89h0M562.49 205.25h0M535.61 189.32h0M555.48 203.74h0M531.26 199.23h0M531.2 204.09h0M535.79 202.68h0M536.87 191.14h0M548.74 210.42h0M544.34 210.14h0M537.15 204.99h0M533.15 206.56h0M529.95 194.26h0M551.1 210.21h0M553.16 200.88h0M539.7 209.15h0M530.21 199.44h0M562.48 203.53h0M536.77 190.61h0M559.92 204.06h0M551.47 206.74h0M559.95 194.6h0M556.28 208.21h0M558.69 191.15h0M560.15 209.12h0M561.02 190.47h0M541.89 209.66h0M559.29 204.83h0M562.44 208.06h0M530.47 198.5h0M534.68 210.23h0M563.79 203.7h0M556.74 189.7h0M541.44 205.11h0M554.78 205.72h0M533.1 190.56h0M536.61 196.41h0M558.27 191.24h0M536.27 191.19h0M557.5 203.93h0M563.36 196.73h0M534.08 208.3h0M556.97 196.64h0M538.28 206.83h0M564.08 190.6h0M554 203.04h0M531.65 199.55h0M539.38 206.09h0M562.41 202.96h0M544.71 210.03h0M564.19 206.23h0M563.33 192.95h0M540.8 199.36h0M553.4 210.27h0M555.63 195.66h0M532.79 199.96h0M538.26 207.5h0M533.18 201.98h0M559.68 204.41h0M555.01 209.45h0M534.94 209.86h0M539.25 209.58h0M554.46 202.74h0M564.31 201.33h0M530.12 206.81h0M556.39 195.84h0M562.75 198.67h0M531.8 197.95h0M531.87 191.96h0M539.81 194.58h0M559.45 206.52h0M535.39 200.99h0M550.53 207.45h0M554.31 194.98h0M558.82 198.11h0M552.99 209.05h0M562.08 202.34h0M529.68 200.73h0M552.39 199.91h0M552.33 207.89h0M544.58 208.53h0M539.21 207.23h0M556.46 191.88h0M536.73 209.69h0M562.97 190.42h0M531.07 193.54h0M540.56 208.91h0M535.79 201.11h0M562.95 202.68h0M556.44 210.54h0M536.89 196.31h0M541.2 207.05h0M563.44 204.24h0M530.63 193.96h0M536.87 210.07h0M549.11 209.68h0M532.66 195.16h0M540.13 201.55h0M530.82 204.6h0M544.33 208.59h0M564.18 196.24h0M532.87 188.52h0M533.58 201.93h0M537.04 200.93h0M536.74 207.45h0M542.68 207.78h0M561.07 185.26h0M543.56 210.61h0M558.03 186.63h0M559.36 196.4h0M533.8 201.96h0M561.91 196.46h0M538.8 196.73h0M549.37 209.15h0M529.61 206.81h0M554.25 203.07h0M535.42 198.1h0M562.59 202.66h0M555.64 198.7h0M562.52 197.68h0M556.55 196.23h0M539.28 208.23h0M543.55 210.35h0M536.02 200.15h0M563.03 205.61h0M556.9 205.77h0M537.82 195.48h0M557.33 197.61h0M551.94 204.72h0M544.81 208.39h0M557.31 202.45h0M549.76 206.2h0M564.37 186.36h0M537.19 195.11h0M536.91 195.32h0M532.82 192.56h0M542.31 208.84h0M537.99 200.76h0M554.96 203.17h0M543.95 206.86h0M540.58 198.84h0M558.25 192.86h0M534.64 196.33h0M562.97 199.9h0M553.08 208.91h0M537.42 204.95h0M540.02 210.75h0M562.15 201.43h0M561.86 208.4h0M532.68 185.5h0M536.96 197.6h0M533.51 204.73h0M542.65 205.38h0M559.1 206.74h0M537.55 210.72h0M538.02 193.91h0M555.77 208.97h0M529.76 202.11h0M538.85 195.74h0M537.45 208.06h0M533.44 197.65h0M560.17 197.99h0M560.93 195.91h0M539.64 202.76h0M533.64 197.55h0M552.56 200.36h0M532.3 200.93h0M529.47 205.59h0M563.77 191.66h0M550.3 206.96h0M557.82 191.48h0M533.44 199.3h0M539.42 198.32h0M563.42 207.26h0M544.48 208.02h0M540.6 200.66h0M550.51 209.66h0M561.39 196.58h0M537.73 199.24h0M560.99 208.17h0M541.77 202.02h0M540.3 202.1h0M538.21 208.35h0M531.33 200.7h0M556.18 206.49h0M530.74 192.26h0M530.07 194.37h0M543.52 209.36h0M555.29 199.63h0M541.69 208.48h0M531.33 196.6h0M530.48 203.28h0M560.68 191.1h0M533.57 202.73h0M533.1 188.42h0M556.95 197.59h0M550.35 208.63h0M529.47 202.95h0M532.24 207.41h0M561.56 193.32h0M551.81 210.76h0M563.31 203.63h0M551.59 208.35h0M534.41 209.03h0M531.82 201.94h0M536.02 200.63h0M530.99 190.28h0M533.84 187.51h0M541.2 203.03h0M534.91 208.62h0M560.35 209.78h0M539.07 196.67h0M533.31 187.84h0M563.4 204.23h0M537.28 201.59h0M536.03 193.52h0M559.12 205.94h0M538.14 206.85h0M545.02 210.89h0M556.49 203.73h0M559.67 199.99h0M549.91 209.72h0M557.4 202.25h0M550.91 205.16h0M531.34 195.52h0M549.73 208.54h0M548.69 209.45h0M532.3 195.69h0M550.61 208.16h0M536.07 208.28h0M550.5 205.91h0M551.65 208.24h0M563.6 201.99h0M551.9 200.59h0M533.06 198.78h0M531.81 195.28h0M553.62 208.77h0M558.74 198.13h0M534.2 188.7h0M554.23 200.41h0M543.52 208.83h0M533.77 188.48h0M535.52 194.65h0M531.02 196.41h0M555.97 193.53h0M551.24 209.23h0M559.93 194.76h0M563.62 202.34h0M555.26 198.77h0M545.21 210.47h0M541.71 208.29h0M535.2 207.03h0M559.93 194.09h0M563.57 204.69h0M556.44 206.39h0M532.39 198.46h0M539.6 209.32h0M550.51 210.29h0M529.48 191.79h0M550.39 207.62h0M562.87 198.43h0M553.26 206.58h0M532.68 200.03h0M534.55 197.01h0M537.79 193.66h0M563.64 183.09h0M560.88 196.67h0M535.07 210.12h0M563.98 210.24h0M558.74 193.43h0M543.41 205.3h0M537.79 210.63h0M534.18 203.24h0M539.56 208.37h0M535.63 203.17h0M554.72 206.96h0M539.6 206.18h0M562.13 209.1h0M539.87 197.35h0M530.32 201.29h0M562.03 193.49h0M534.08 199.6h0M535.35 209.45h0M540.11 198.27h0M530.1 195.76h0M541.61 202.26h0M557.81 208.24h0M550.51 204.34h0M541.92 205.99h0M558.84 208.89h0M538.23 194.83h0M537.88 205.55h0M557.9 191.76h0M529.96 210.3h0M543.93 210.11h0M545.24 209.6h0M557.98 210.58h0M539.08 205.18h0M555.7 195.27h0M534.78 203.4h0M530.05 189.54h0M564.27 207.17h0M534.21 190.76h0M532.9 198.56h0M558.66 210.86h0M534.33 200.14h0M535.59 188.27h0M542.92 209.29h0M554.62 203.22h0M563.86 199.97h0M558.51 206.57h0M562.28 188.19h0M561.2 191.64h0M555.47 191.11h0M531.66 189.77h0M550.29 210.3h0M555.59 198.79h0M560.1 195.55h0M561.87 189.99h0M560.3 202.18h0M541.04 208.37h0M560.99 203.7h0M533.39 188.75h0M563.49 190.12h0M561.94 204.75h0M544.54 209.18h0M554.53 202.16h0M543.34 208.81h0M560.31 201.81h0M529.8 201.76h0M559.22 189.02h0M534.77 197.79h0M550.04 208.17h0M561.38 194.07h0M557.86 208.51h0M563.23 209.42h0M557.58 201.91h0M557.06 196.77h0M532.62 209.74h0M543.26 208.05h0M562.83 197.58h0M551.81 208.93h0M557.18 192.28h0M561.15 202.67h0M538.12 203.65h0M557.83 191.14h0M530.46 191.45h0M561.55 195.08h0M560.67 196.24h0M559 202.44h0M536.54 205.4h0M536.81 206.85h0M534.21 190.73h0M561.2 193.1h0M532.68 198.39h0M531.79 194.93h0M534.42 199.59h0M563.29 204.13h0M541.39 206.17h0M559.41 202.21h0M538.38 199.13h0M538.84 193.1h0M552.49 201.78h0M540.68 209.88h0M554.79 191.42h0M553.8 201.53h0M553.94 206.6h0M559.41 188.02h0M533.74 190.43h0M536.31 191.05h0M537.48 206.78h0M554.09 207.68h0M532.8 193.36h0M551.18 208.25h0M562.94 185.68h0M538.86 199.79h0M538.57 204.99h0M538.52 210.63h0M554.87 197.53h0M555.62 197.72h0M560.96 201.51h0M558.03 198.72h0M554.05 193.61h0M555.17 196.59h0M560.96 200.1h0M563.15 188.15h0M539.32 202.79h0M530.86 188.33h0M548.48 209.98h0M563.79 193.79h0M553.02 200.4h0M536.08 203.42h0M548.47 209.97h0M532 189.82h0M533.52 193.22h0M550.05 206.93h0M544.76 209.62h0M539.1 208.05h0M563.75 199.2h0M554.57 208.09h0M554.35 197.47h0M540.5 207.34h0M564.22 196.18h0M558.38 200.65h0M549.76 206.64h0M541.32 201.35h0M558.46 197.42h0M532.45 188.79h0M531.06 193.58h0M549.86 210.23h0M544.83 209.93h0M531.03 186.97h0M540.41 208.39h0M540.87 206.6h0M558.58 184.55h0M537.79 194.59h0M534.76 207.65h0M556.59 189.55h0M532.14 194.16h0M536.88 195.27h0M561.54 202.11h0M563.34 190.39h0M560.51 207.35h0M552.09 210.31h0M538 207.47h0M564.3 202.96h0M531 198.97h0M545.49 210.61h0M550.31 209.61h0M562.88 200.56h0M538.17 202.79h0M531.76 205.88h0M544.54 210.31h0M560.75 209.46h0M535.9 195.44h0M556.59 189.87h0M541.03 205h0M562.51 208.25h0M563.18 197.54h0M564.17 194.01h0M544.94 209.52h0M550.1 207.81h0M562.15 200.95h0M556.94 201h0M537.44 210.01h0M533.01 207.73h0M561.82 204.27h0M553.84 198.95h0M541.6 203.56h0M553.85 202.72h0M556 196.58h0M533.33 190.55h0M544.17 209h0M553.74 209.92h0M560.04 195.01h0M549.47 210.39h0M562.97 198.95h0M532.22 202.88h0M561.39 208.23h0M531.26 196.27h0M540.72 203.76h0M559.78 193.04h0M564.11 196.43h0M537.3 204.04h0M562.23 191.1h0M554.56 209.38h0M555.46 208.89h0M563.27 205.57h0M530.69 200.44h0M536.41 185.32h0M555.85 208.74h0M559.85 201.54h0M544.56 209.78h0M530.19 196.95h0M551.04 210.2h0M541.14 204.64h0M561.75 199.86h0M552.7 206.38h0M560.92 192.74h0M541.39 209.25h0M536.2 198.51h0M555.94 189.69h0M530.62 205.32h0M560.65 199.27h0M539.14 209.26h0M534.88 210.83h0M556.71 194.43h0M532.07 188.34h0M540.96 200.78h0M541.8 208.65h0M561.96 200.64h0M535.97 194.92h0M552.41 206.93h0M543.06 204.75h0M538.1 205.4h0M562.68 206.98h0M531.96 195.28h0M540.45 201.37h0M536.01 200.47h0M531.44 196.17h0M552.98 208.58h0M538.34 196.52h0M530.46 198.52h0M538.51 195.12h0M550.5 206.53h0M543.56 208.67h0M534.45 210.53h0M535.45 204.91h0M538.42 210.4h0M530.67 201.08h0M542.46 206.51h0M532.13 192.89h0M561.37 200.07h0M558.82 190.24h0M560.01 184.46h0M529.91 198.91h0M558.32 203.67h0M539.74 198.61h0M543.02 206.06h0M558.85 200.96h0M530.6 207.85h0M533.08 203.88h0M536.26 190.39h0M562.57 205.63h0M559.89 189h0M542.74 205.61h0M539.51 199.49h0M542.43 203.19h0M532.18 198.75h0M560.59 196.85h0M553.8 198.02h0M562.71 191.02h0M532.36 186.31h0M558.3 187.6h0M560.63 202.24h0M530.44 191.9h0M536.02 198.65h0M536.81 206.24h0M532.8 180.05h0M561.44 202.68h0M533.18 196.72h0M559.89 187.84h0M557.9 198.21h0M559.96 210.8h0M564.28 191.19h0M557.94 185.98h0M529.45 204.78h0M538.29 208.76h0M531.54 189.36h0M554.09 206.66h0M535.49 204.83h0M537.57 195.52h0M559.74 192.91h0M532.17 186.99h0M534.42 196.84h0M558.61 189.58h0M533.12 206.17h0M555.75 194.8h0M563.6 193.04h0M550.62 204.96h0M558.84 194.56h0M562.45 183.43h0M534.97 194.27h0M561.08 193.93h0M534.98 204.65h0M531.9 182.34h0M564.24 209.46h0M533.84 188.69h0M539.81 210.5h0M537.27 204.77h0M551.38 206.05h0M532.72 196.07h0M554.43 196.56h0M559.03 203.23h0M538.47 196.06h0M537.46 202.62h0M551.21 210.47h0M554.76 207.1h0M548.95 209.11h0M554.04 204.19h0M551.02 203.47h0M562.8 201.41h0M532.43 185.36h0M531.52 199.86h0M552.22 205.05h0M562.54 204.46h0M544.83 209.17h0M530.31 190.88h0M537.63 196.59h0M555.24 196.49h0M563.17 204.24h0M533.03 198.43h0M550.32 210.45h0M561.53 199.82h0M531.69 201.51h0M543.57 210.47h0M531.25 190.8h0M538.79 201.47h0M549.74 209.06h0M559.69 209.89h0M530.1 189.25h0M563.04 210.57h0M533.81 192.61h0M555.24 206.61h0M563.27 189.85h0M533.4 184.97h0M542.49 209.79h0M537.35 194.85h0M559.85 195.6h0M537.1 205.98h0M561.3 210.3h0M531.03 199.03h0M560.79 198.21h0M536.19 190.11h0M558.72 206.89h0M539.68 208.03h0M535.01 197.2h0M558.19 204.04h0M553.88 202.95h0M559.13 204.02h0M532.33 206.52h0M558.41 196.14h0M545.36 209.92h0M557.56 197.7h0M560.65 208.82h0M557.44 200.52h0M556.37 193.86h0M552.96 199.43h0M549.45 209.28h0M540.98 205.96h0M534.8 198.41h0M555.81 200.17h0M563 197.43h0M541.07 206.09h0M554.9 203.38h0M554.29 202.97h0M532.59 195.55h0M554.79 204.04h0M558.78 198.05h0M551.1 210.79h0M554.99 208.07h0M548.57 210.88h0M535.46 195.59h0M563.47 205.27h0M542.24 206.86h0M531.5 198.12h0M540.48 202.42h0M559.63 187.22h0M557.84 206.91h0M551.38 210.23h0M539.03 203.94h0M564.38 200.56h0M562.67 204.96h0M541.78 209.17h0M529.97 192.6h0M531.93 201.84h0M563.6 203.45h0M536.91 210.76h0M552.45 208.27h0M534.03 195.57h0M559.16 200.55h0M529.92 194.18h0M551.77 199.65h0M556.52 196.57h0M531.95 206.03h0M554.24 199.38h0M553.27 208.61h0M557.91 198.13h0M531.08 190.78h0M561.91 197.91h0M533.22 197.64h0M557.46 204.34h0M555.73 202.95h0M561.72 191.6h0M557.74 196.4h0M557.29 199.86h0M538.76 195.5h0M564.15 180.61h0M538.41 199.47h0M553.13 209.78h0M531.37 196.36h0M543.7 207.92h0M530.04 197.45h0M538.52 200.87h0M549.68 208.96h0M560.17 197.54h0M535.81 198.07h0M542.02 206.25h0M530.42 195.64h0M556.21 206.31h0M553.13 209.05h0M537.81 207.96h0M531.61 195.16h0M563.14 191.06h0M557.22 209.44h0M533.71 195.35h0M535.54 196.09h0M554.26 204.93h0M538.88 195.65h0M534.85 188.85h0M532.47 195.21h0M543.98 209.55h0M542.13 206.38h0M542.65 210.31h0M538.43 202.33h0M544.86 209.93h0M536.3 207.54h0M563.78 197.37h0M558.15 197.21h0M549.52 210.47h0M538.62 202.31h0M545.43 209.74h0M563.81 195.3h0M533.85 196.32h0M553.74 205.22h0M539.41 208.45h0M559.93 192.62h0M536.85 210.38h0M534.56 190.48h0M550.73 204.85h0M535.18 206.9h0M558.69 198.14h0M553.17 208.72h0M540.93 208.79h0M533.41 205.01h0M535.95 196.29h0M561.54 209.37h0M559.81 195.2h0M560.09 209.15h0M551.59 207.41h0M554.16 199.01h0M553.71 210.77h0M529.82 207.56h0M554.86 197.42h0M559.36 195.39h0M561.77 188.7h0M533.52 196.83h0M530.48 182.18h0M564.01 194.27h0M533.15 206.04h0M532.33 203.54h0M561.7 191.91h0M535.86 192.89h0M536.02 210.31h0M559.05 199.19h0M539.77 204.17h0M560.74 197.68h0M553.66 201.27h0M563.49 191.25h0M533.66 207.16h0M556.82 194.61h0M538.04 208.93h0M544.35 208.09h0M550.77 202.5h0M533.01 209.26h0M563.82 197.9h0M558.57 195.73h0M541.44 206.51h0M549.76 210.38h0M553.96 202.85h0M541.5 207.17h0M550.63 208.68h0M553.52 210.71h0M541.56 205.57h0M555.61 209.99h0M540.78 203.59h0M553.99 209.9h0M553.31 204.17h0M539.85 194.29h0M562.31 205.75h0M560.01 198.04h0M542.92 206.92h0M564 190.41h0M537.04 204.7h0M545.36 210.25h0M563.2 192.69h0M561.98 194.55h0M536.49 195.77h0M531.46 189.87h0M561.55 189.28h0M559.15 189.38h0M535.32 195.25h0M540.05 205.63h0M542.2 202.67h0M559.98 199.17h0M563.05 192.65h0M564.41 206.47h0M563.62 200.44h0M559.64 188.36h0M555.27 198.32h0M530.38 187.5h0M561.53 193.01h0M540.78 204.25h0M542.86 205.21h0M564.23 199.07h0M530.74 193.31h0M530 209.19h0M552.5 206.08h0M560.56 206.75h0M551.07 208.61h0M540.84 203.47h0M563.57 197.89h0M559.79 189.68h0M536.22 199.16h0M556.33 193.95h0M535.05 194.81h0M533.73 199.69h0M536.04 196.31h0M537.56 196.97h0M540.38 200.4h0M558.07 205.02h0M550.87 209.17h0M540.26 210.38h0M540.61 202.64h0M540.47 204.62h0M562.92 210.34h0M545.09 209.18h0M540.74 209.58h0M539.34 200.26h0M529.6 195.2h0M534.72 191.35h0M554.39 195.26h0M562.19 180.48h0M531.89 199.73h0M562.64 191.92h0M538.03 187.9h0M558.18 205.41h0M542.64 206.58h0M534.56 201.23h0M532.14 191.75h0M531.39 207.74h0M556.33 197.15h0M538.17 197.18h0M534.38 180.98h0M561.21 201.26h0M532.47 199.97h0M563.18 202.16h0M532.1 188.31h0M561.46 208.74h0M542.36 207.88h0M534.83 190.02h0M541.11 203.4h0M535.24 190.65h0M531.63 203.62h0M532.03 199.23h0M532.39 197.14h0M534.51 183.95h0M554.92 201.01h0M543.22 205.45h0M563.08 204.4h0M563.82 196.21h0M537.89 199.44h0M563.48 206.66h0M530.29 192.85h0M531.58 194.95h0M549 208.33h0M529.37 194.82h0M556.86 204.99h0M550.97 207.33h0M560.68 206h0M535.05 208.51h0M535.68 209.23h0M564.28 207.56h0M548.34 210.16h0M562.74 194.8h0M564.12 192.15h0M534.35 183.05h0M561.17 189.75h0M532.73 210.74h0M531.02 204.3h0M533.26 195.32h0M538.61 197.8h0M563.06 194h0M560.8 190.75h0M532.66 206.34h0M552.83 203.51h0M530.35 192.98h0M532.73 189.91h0M539.58 206.31h0M530.56 195.94h0M534.11 209.44h0M531.54 207.52h0M548.74 210.13h0M562.9 194.86h0M560.56 201.09h0M534.58 201.43h0M560.82 207.95h0M556.82 191.41h0M532.2 189.25h0M560.87 206.75h0M532.98 205.97h0M529.77 200.7h0M562.91 208.02h0M536.78 201h0M552.87 203.21h0M535.42 195.76h0M535.39 198.28h0M564.06 196.23h0M532.38 202.77h0M530.85 184.79h0M534.32 197.1h0M537.24 200.03h0M554.08 203.35h0M562.42 199.05h0M536.14 198.67h0M559.06 201.25h0M553.13 202.84h0M557.34 200.12h0M563.26 202.13h0M551.18 208.8h0M538.42 206.15h0M560.33 193.12h0M533.34 194.73h0M550.31 209.66h0M556.19 199.49h0M558.63 192.85h0M562.55 196.45h0M536 205.64h0M535.45 188.97h0M533.56 203.3h0M557.65 205.49h0M532.77 199.81h0M557.6 210.26h0M556.55 205.82h0M556.74 201.41h0M535.08 197.68h0M539.97 209.31h0M536.59 192.76h0M559.93 201.78h0M561.42 188.14h0M533.16 189.95h0M550.37 206.94h0M530.9 201.05h0M551.63 203.7h0M531.83 200.53h0M556.76 202.2h0M555.03 207.06h0M535.27 187.47h0M535.08 186.61h0M556.76 190.21h0M532.29 202.5h0M539.67 203.36h0M530.42 194.85h0M534.47 210.53h0M539.18 201.01h0M563.12 210.5h0M559.15 201.65h0M559.78 199.83h0M558.59 204.33h0M550.49 208.35h0M530.39 192.14h0M559.1 200.94h0M558.94 200.77h0M539.02 192.19h0M530.38 204.94h0M532.46 188.64h0M560.92 196.94h0M554.98 200.49h0M534.39 190.79h0M563.63 201.84h0M558.89 196.45h0M554.75 210.77h0M561.49 192.21h0M530.2 192.42h0M540.04 195.46h0M530.9 210.6h0M530.37 179.67h0M533.35 197.57h0M532.37 202.95h0M541.23 207.18h0M531.23 206.61h0M541.92 207.79h0M529.89 193.96h0M558.03 205.96h0M559.86 193.33h0M555.46 203.52h0M537.06 210.12h0M536.42 183.1h0M531.22 205.47h0M545.42 210.07h0M554.59 205.7h0M536.6 205.61h0M557.79 198.96h0M560.48 188.73h0M561.31 199.71h0M533.11 200.99h0M558.49 199.34h0M561.69 201.07h0M530.85 202.88h0M555.2 203.93h0M561.27 194.71h0M541.4 210.7h0M530.24 205.67h0M534.63 197.78h0M531.22 206.79h0M563.02 203.55h0M563.46 189.79h0M529.98 195.15h0M533.26 191.65h0M557.56 205.04h0M561.91 206.83h0M538.04 190.23h0M538.16 202.79h0M557.46 205.41h0M561.89 198.9h0M529.91 191.88h0M558.04 200.73h0M535.11 198.27h0M553.2 204.56h0M530.34 192.94h0M538.03 209.36h0M536.58 208.14h0M554.21 205.7h0M532.21 195.47h0M558.98 195.14h0M536.01 182.98h0M535.07 204.49h0M561.19 198.58h0M542.9 209.69h0M530.99 200.29h0M535.32 200.83h0M555.45 202.3h0M561.19 187.08h0M560.85 206.24h0M557.55 195.5h0M530.21 193.21h0M556.73 197.23h0M533.1 205.69h0M536.57 198.62h0M529.59 186.64h0M533.74 207.14h0M560.47 204.03h0M559.41 207.66h0M533.16 208.81h0M558.97 203.54h0M531.2 200.06h0M529.5 207.9h0M532.96 186.29h0M562.77 190.72h0M530.6 204.2h0M535.33 190.83h0M556.27 200.28h0M559.31 207h0M557.96 200.34h0M537.41 205.93h0M560.38 204.49h0M557.89 196.11h0M540.59 203.2h0M540.89 209.04h0M532.93 207.24h0M553.08 204.24h0M560.16 199.95h0M543.17 206.78h0M529.44 194.9h0M561.28 208.35h0M540.02 209.42h0M529.71 202.04h0M534.48 204.22h0M557.59 203.7h0M538.12 204.68h0M531.71 204.98h0M559.16 193.44h0M538.6 203.02h0M553.82 201.56h0M548.57 210.55h0M551.7 199.86h0M537.18 200.17h0M533.71 193.41h0M560.38 190.38h0M544.33 210.74h0M557.69 210.49h0M537.58 194.34h0M553.5 208.81h0M555.67 207.03h0M560.18 208.36h0M554.34 199.82h0M540.13 201.81h0M552.84 207.83h0M563.91 194.14h0M532.78 193.29h0M532.66 188.07h0M530.68 191.06h0M531.16 206.51h0M557.02 197.36h0M537.08 198.4h0M549.59 210.27h0M556.34 206.88h0M562.31 210.72h0M534.62 190.65h0M557.89 207.49h0M538.72 206.7h0M543.37 208.34h0M529.54 188.47h0M535.96 198.08h0M538.5 202.83h0M541.78 210.38h0M559.72 197.81h0M531.52 187.61h0M558.18 199.51h0M535.2 186.45h0M535.63 190.08h0M557.69 192.39h0M543.6 206.94h0M531.15 198.07h0M558.09 189.58h0M557.46 192.42h0M538.09 199.14h0M560.71 201.04h0M562.41 190.93h0M562.48 206.87h0M563.29 190.29h0M544.78 209.57h0M555.48 196.01h0M533.22 191.51h0M560.92 206.93h0M558.94 205.87h0M538.31 194.71h0M532.25 205.11h0M543.63 208.01h0M531.5 198.13h0M563.59 208.13h0M542.01 209.75h0M531.42 198.9h0M559.69 201.28h0M529.6 203.99h0M555.51 202.3h0M530.55 189.86h0M548.74 209.59h0M564.25 195.53h0M529.51 210.37h0M540.1 209.94h0M555.18 201.13h0M557.84 193.68h0M532.69 184.03h0M533.17 194.17h0M561.42 192.59h0M533.62 199.16h0M532.33 189.86h0M559.77 200.95h0M531.58 200.93h0M562.65 193.84h0M541.97 206.35h0M532.07 191.28h0M539 201.85h0M538.55 194.6h0M529.69 192.53h0M554.48 191.62h0M554.2 206.59h0M542.88 208.61h0M552.06 206.68h0M560.98 192.16h0M561.91 204.2h0M563.88 195.56h0M557.63 189.42h0M530.98 206.8h0M537.02 197.45h0M542.45 209.18h0M534.44 190.88h0M530.79 200.67h0M540.88 198.5h0M539.12 204.51h0M561.19 197.12h0M550.64 203.19h0M563.87 200.36h0M561.89 201.2h0M557.87 198.23h0M538.7 193.5h0M531.38 203.67h0M561.61 194.23h0M531.62 206.83h0M564.19 190.61h0M562.5 191.34h0M563.34 207.34h0M537.59 195.27h0M532.79 195.31h0M540.48 202.03h0M559.86 198.78h0M534.81 190.12h0M552.75 206.32h0M551.04 210.55h0M533.69 197.87h0M532.34 208.44h0M563.75 185.42h0M558.91 210.16h0M532.09 200.69h0M562.2 203.76h0M558.39 200.61h0M560.4 187.96h0M535.28 192.96h0M544.48 209.77h0M537.03 197h0M535.41 188.71h0M564.1 194.92h0M533.61 198.79h0M534.8 207.51h0M560.28 192.46h0M557.03 204.24h0M550.76 205.3h0M548.65 210.08h0M563.32 206.43h0M535.8 210.37h0M564.12 188.85h0M533.96 204.93h0M537.52 204.81h0M542.57 210.28h0M537.28 195.06h0M537.23 192.88h0M550.55 206.3h0M552.74 207.74h0M534.74 210.56h0M557.72 196.24h0M536.66 195.6h0M554.62 201.14h0M534.27 198.33h0M531.74 199.59h0M530.59 207h0M560.9 193.97h0M534.73 210.78h0M558 184.3h0M560.49 191.12h0M562.79 200.11h0M530.96 189.99h0M533.88 197.58h0M551.44 203.94h0M553.31 210.14h0M553.79 209.69h0M550.14 206.35h0M554.95 209.56h0M530.89 209.04h0M541.71 208.01h0M534.22 210.84h0M532.46 196.4h0M539.99 197.66h0M533.56 203.06h0M556.77 209.17h0M531.23 187h0M556.42 196.55h0M564.08 209.92h0M562.17 208.44h0M558.27 206.62h0M563.33 188.9h0M534.99 209.12h0M556.65 193.24h0M564.19 198.71h0M537.35 193.84h0M559.77 198.28h0M537.79 199.03h0M533.49 201.1h0M539.81 204.85h0M532.5 193.11h0M531.88 187.52h0M558.39 197.66h0M530.86 203.47h0M536.09 192h0M553.78 204.04h0M558.01 205.15h0M563.26 203.2h0M535.16 205.23h0M558.31 208.29h0M556.74 194.32h0M561.85 204.23h0M533.12 191.67h0M538.91 200.82h0M543.64 210.65h0M544.46 210.68h0M560.86 190.19h0M557.35 190.46h0M559.69 196.04h0M534.6 203.43h0M540.13 204.29h0M532.05 188.67h0M537.22 201.66h0M552.5 202.26h0M539.22 209.08h0M532.88 197.99h0M543.64 208.5h0M538.8 204.66h0M555.8 206.02h0M529.45 180.77h0M533.12 201.53h0M532.14 209.99h0M553.51 200.64h0M553.45 210.77h0M529.79 206.59h0M552.69 208.82h0M529.63 199.22h0M562.63 190.34h0M534.28 203.4h0M560.7 202.6h0M529.68 198.26h0M532.72 192.51h0M534.21 200.27h0M552.36 209.62h0M530.11 201.29h0M543.05 206.29h0M552.64 205.56h0M542.41 204.91h0M560.09 202.8h0M535.72 192.71h0M530.36 194.86h0M540.68 207.31h0M534.22 206.2h0M563.35 203.94h0M537.04 210.57h0M559.94 195.03h0M530.32 195.78h0M532.07 202.62h0M535.07 198.04h0M533.38 194.81h0M561.77 196.86h0M553.13 210.73h0M554.45 206.25h0M562.9 194.57h0M552.55 201.47h0M553.35 208.48h0M563.7 194.81h0M552.46 203.15h0M535.63 205.3h0M542.44 208.22h0M536.73 185.55h0M535.77 196.45h0M550.91 209.76h0M531.99 190.99h0M537.53 201.74h0M531.08 204.64h0M530.26 202.55h0M551.39 209.84h0M543.23 210.52h0M563.68 198.24h0M555.92 200.27h0M563.45 206.16h0M530.89 201.94h0M557.56 196.92h0M530.93 206.79h0M537.83 193.9h0M531.2 180.43h0M561.2 195.3h0M562.17 199.38h0M533.66 210.72h0M558.87 185.26h0M529.63 164.42h0M564.05 178.09h0M561.3 177.81h0M563.81 185.06h0M531.69 184.26h0M563.42 185.32h0M560.96 170.3h0M535 172.43h0M559.88 182.3h0M529.97 173.76h0M531.38 180.49h0M532.28 170.89h0M529.66 174.26h0M561.82 167.47h0M560.15 174.71h0M561.72 176.92h0M530.54 180.55h0M530.29 183.74h0M532.03 178.94h0M560.47 163.87h0M564.2 172.98h0M564.28 184.32h0M529.85 163.22h0M564.09 185.34h0M534.54 181.38h0M571.42 209.73h0M572.93 210.78h0M568.61 209.74h0M511.34 210.85h0M508.61 209.81h0M572.66 210.19h0M576.16 209.71h0M566.67 210.43h0M574.23 209.19h0M569.41 210.18h0M517.22 209.64h0M576.98 209.15h0M526.22 209.18h0M578.76 209.32h0M579.29 210.45h0M566.52 209.45h0M568.12 210.61h0M573.89 209.6h0M580.83 210.06h0M524.2 209.14h0M577.95 210.52h0M528.98 210.8h0M567.6 210.54h0M572 210.38h0M564.58 210.15h0M572.59 209.58h0M527.18 209.67h0M567.07 210.59h0M527.37 209.55h0M567.12 209.69h0M527.83 209.87h0M588.16 209.79h0M579.77 210h0M526.82 210h0M569.63 210.45h0M518.4 209.52h0M565.29 210.08h0M522.53 210.58h0M525.35 210.71h0M590.18 210.73h0M580.94 210.32h0M516.82 210.72h0M578.48 209.92h0M522.52 209.7h0M585.77 209.28h0M573.7 209.2h0M521.66 209.21h0M572.53 210.7h0M568.6 209.7h0M575.36 210.12h0M581.13 209.34h0M521.49 210.55h0M569.52 210.9h0M571.67 209.06h0M566.64 209.79h0M519.45 210.59h0M575.1 210.66h0M517.16 209.22h0M573.3 210.54h0M518.15 210.08h0M576.49 210.75h0M567.32 210.46h0M520.71 210.22h0M588.39 209.35h0M569.84 210.28h0M524.37 210.78h0M574.37 210.34h0M512.29 209.17h0M520.24 209.53h0M568.53 209.06h0M582.84 209.8h0M514.74 209.96h0M513.43 210.71h0M574.64 209.71h0M572.87 210.7h0M575.48 210.23h0M518.75 210.7h0M571.32 210.76h0M576.23 210.89h0M567.15 209.16h0M575.71 209.51h0M526.15 210.24h0M569.85 210.25h0M519.05 209.81h0M573.6 210.48h0M573.67 210.31h0M565.07 210.28h0M564.88 210.28h0M579.94 209.51h0M582.74 210.01h0M527.12 209.43h0M572.32 209.74h0M578.05 210.24h0M522.99 209.93h0M587.14 210.19h0M529 210.61h0M566.3 210.32h0M569.16 209.46h0M565.61 210.29h0M576.7 210.38h0M565.34 210.49h0M572.92 209.84h0M568.93 209.99h0M575.25 209.84h0M525.53 209.66h0M567.97 209.73h0M527.73 209.64h0M565.54 210.53h0M570.04 209.19h0M527.57 209.7h0M565.64 210.11h0M575.98 210.61h0M582.16 210.02h0M527.1 210.42h0M527 210.19h0M576.61 210.23h0M527.91 210.44h0M572.8 210.13h0M569.44 209.78h0M572.84 209.15h0M573.47 210.54h0M525.17 209.39h0M524.23 210.78h0M584.2 210.17h0M509.72 210.51h0M522.41 209.88h0M520.53 210.32h0M526.24 210h0M575.85 209.95h0M576.12 209.2h0M573.44 209.72h0M568.07 210.06h0M526.46 209.73h0M568.38 209.09h0M528.12 210.71h0M568.72 210.26h0M523.91 210.55h0M579.84 210.86h0M574.04 209.97h0M523.25 209.21h0M584.93 209.68h0M570.34 210.68h0M526.42 210.42h0M576.69 210.51h0M521.76 209.59h0M569.61 209.43h0M519.07 210.16h0M581.52 209.19h0M509.15 210.48h0M571.15 210.34h0M582.57 209.28h0M511.76 210.88h0M572.49 209.21h0M568.01 209.92h0M527.82 210.63h0M577.37 210.39h0M527.49 209.41h0M575.26 209.88h0M568.86 210.69h0M568.91 210.62h0M548.62 210.51h0M546.06 210.8h0M545.58 210.49h0M545.53 210.66h0M545.62 210.08h0M544.69 210.33h0M547.77 210.88h0M548.76 210.04h0M545.41 210.83h0M544.4 209.91h0M544.22 210.21h0M547.4 210.15h0M546.6 210.39h0M546.69 210.04h0M544.57 210.59h0M546.86 210.43h0M547.55 210.45h0M549.63 210.66h0M549.36 210.88h0M548.73 210.78h0M545.66 210.42h0M549.3 210.75h0M546.95 210h0M546.83 210.08h0M549.82 209.99h0M545.44 210.53h0M547.19 210.05h0M549.71 209.94h0M548.54 210.21h0M548.14 209.91h0M548.65 210.71h0M545.3 210.44h0M549.61 210.54h0M548.73 210.57h0M548.12 209.91h0M549.76 210.25h0M547.46 210.71h0M548.95 210.66h0M544.72 209.92h0M547.03 210.38h0M545.09 209.85h0M547.99 209.92h0M546.26 210.35h0M546.97 210.8h0M544.09 210.22h0M546.07 209.94h0M548.44 210.14h0M547.34 210.63h0M547.38 210.14h0M545.48 210.37h0M544.38 210.14h0M546.51 210.65h0M548.13 209.99h0M545.25 210.89h0M547.39 209.82h0M544.49 209.99h0M547.52 210.1h0M544.05 210.45h0M544.23 209.82h0M549.75 210.09h0M547.45 210.02h0M544.74 209.78h0M546.24 210.41h0M544.05 210.81h0M549.39 210.68h0M546.92 210.08h0M548.24 210.4h0M548.02 209.95h0M545.17 210.46h0M547.35 210.11h0M547.3 210.86h0M545.4 210.49h0M549.04 210.2h0M545.56 210.26h0M545.71 209.8h0M548.04 209.9h0M546.26 210.75h0M548.59 210.69h0M548.96 210.03h0M549.03 210.25h0M547.74 210.87h0M545.61 210.76h0M544.35 210.29h0M544.34 210.34h0M544.89 210.69h0M548.66 209.78h0M547.67 210.2h0M545.02 210.42h0M549.18 210.82h0M546.19 210.62h0M545.28 210.73h0M548.26 210.52h0M549.74 210.53h0M548.11 210.49h0M548.48 210.83h0M549.73 210.62h0M548.3 210.53h0M544.08 210.29h0M544.71 210.01h0M545.23 210.84h0M547.13 210.23h0M547.73 210.09h0M544.27 209.87h0M548.7 210.05h0M544.01 210.57h0M545.18 209.9h0M545.55 210.45h0M545.2 210.07h0M544.68 210.37h0M548.38 210.49h0M545.3 210.32h0M545.09 210.07h0M548.73 210.63h0M544.27 210.48h0M544.04 209.94h0M549.55 210.23h0M547.04 210.23h0M546.09 210.29h0M547.57 209.94h0M545.71 210.73h0" stroke="#4c63b6" stroke-width="2.3" stroke-linecap="round" fill="none"/>
<path d="M528.9 196.9h0M511.73 169.05h0M521.44 205.16h0M502.65 196.3h0M508.8 178.28h0M512.26 202.01h0M523.29 177h0M494.13 204.23h0M521.93 200.68h0M481.09 202.21h0M515.25 207.33h0M525.35 207.61h0M494.58 204.18h0M502.58 189.68h0M474.51 198.22h0M490.93 181.85h0M512.26 187.86h0M488.3 202.24h0M522.99 203.36h0M522.56 198.27h0M522.03 187.01h0M517.3 196.54h0M525.48 200.69h0M528.75 190.02h0M519.11 206.4h0M526.21 186.12h0M525.66 184.26h0M521.25 172.63h0M528.1 206.08h0M475.16 202.52h0M511.13 188.95h0M525.5 207.63h0M523.74 175.5h0M519.65 181.36h0M522.67 196.49h0M524.18 190.57h0M525.51 192h0M521.56 201.8h0M512.21 206.42h0M527.07 206.68h0M524.15 193.61h0M526.11 202.66h0M521.15 195.88h0M514.79 203.04h0M521.97 207.45h0M522.29 207.36h0M515.88 192.53h0M507.2 174.89h0M528.54 201.79h0M484.13 195.81h0M528.37 191.22h0M505.91 204.19h0M510.51 195.32h0M527.9 175.93h0M526.77 207.38h0M522.04 179.88h0M526.6 182.57h0M527.41 196.92h0M523.79 197.23h0M502.21 179.38h0M523.15 192.09h0M529.22 176.41h0M529.05 194.25h0M497.05 194.18h0M485.45 194.23h0M519.47 189.77h0M527.69 191.91h0M517.15 207.43h0M520.98 202.09h0M527.93 198.59h0M504.14 205.06h0M513.87 197.37h0M523.62 208.36h0M525.64 206.63h0M517.41 198.3h0M525.54 200.65h0M480.32 193.65h0M492.41 203.87h0M529.11 182.8h0M524.23 195.01h0M524.45 195.19h0M527.74 192.75h0M524.79 199.28h0M518.87 191.15h0M527.15 193.21h0M489.03 193.68h0M525.25 205.81h0M518.36 194.67h0M522.63 188.94h0M525.28 204.7h0M528.71 192.41h0M521.06 187.96h0M518.48 203.13h0M497.65 201.17h0M522.66 194.08h0M521.3 179.3h0M523.78 203.97h0M511.12 195.62h0M522.98 207.77h0M514.95 190.93h0M527.1 193.98h0M523.78 189.02h0M515.7 204.58h0M525.38 189.65h0M513.38 206.25h0M502.36 201.52h0M519.65 207.15h0M522.41 189.58h0M519.52 207.3h0M527.19 202.64h0M523.46 169.31h0M526.1 205.42h0M525.56 186.9h0M526.21 183.58h0M528.24 199.85h0M473.14 192.35h0M524.93 199.42h0M528.74 193.69h0M520.34 188.67h0M508.11 203.17h0M518.6 195.14h0M528.34 190.21h0M518.08 189.59h0M509.79 199.37h0M520.09 196.68h0M498.92 199.94h0M524.43 204.36h0M525.28 206.69h0M492.51 204.99h0M516.97 193.69h0M527.94 201.44h0M522.71 182.99h0M529.28 195.57h0M513.1 197.49h0M520.63 187.72h0M495 185.51h0M520.99 192.12h0M507.99 204.55h0M522.27 199.43h0M518.27 196.83h0M526.93 199.99h0M517.14 201.15h0M481.88 201.52h0M521.07 207.68h0M514.49 172.25h0M528.97 191.78h0M519.32 195.46h0M517.86 200.9h0M527.17 207.97h0M496.11 190.6h0M523.6 187.76h0M525.23 204.74h0M519.7 185.88h0M525.53 183.73h0M528.59 192.99h0M519.24 195.65h0M528.27 203.65h0M522.11 202.96h0M522.29 208.18h0M524.4 195.38h0M523.94 207.02h0M482.2 180.79h0M510.49 193.16h0M525.78 195.18h0M520.47 203.12h0M517.98 203.22h0M520.03 192.85h0M517.34 191.13h0M516.88 190.4h0M516.98 191.56h0M524.92 207h0M527.31 203.41h0M521.76 192.03h0M511.29 186.4h0M510.72 199.19h0M516.62 202.04h0M529.21 209.01h0M508.1 206.32h0M524.39 204.21h0M492.47 200.62h0M520.16 195.51h0M528.09 169.95h0M522.03 194.82h0M527.49 201.96h0M528.69 205.19h0M528 196.24h0M510.56 203.75h0M512.38 196.78h0M511.45 189.51h0M518.2 192.22h0M529.12 186.25h0M528.17 195.36h0M525.16 201.67h0M516.03 183.99h0M526.73 181.27h0M528.9 204.66h0M516.09 193.04h0M521.79 207.89h0M510.08 198.1h0M528.39 204.95h0M529.15 192.18h0M519.42 191.37h0M521.16 204.63h0M526.23 192.67h0M483.66 191.64h0M508.58 205.92h0M526.84 203.49h0M516.65 196.81h0M518.59 200.41h0M521.23 199.68h0M515.99 190.43h0M510.03 193.22h0M525.47 198.04h0M529.17 208.77h0M524.54 198.36h0M523.16 186.57h0M527.79 174.1h0M527.18 178.73h0M492.82 176.01h0M519.9 187.22h0M509.2 199.76h0M518.86 206.57h0M520.14 179.91h0M499.14 184.67h0M522.74 190.53h0M523.95 205.4h0M513.32 185.53h0M523.82 174.8h0M525.24 204.55h0M526.15 208.09h0M528.35 206.82h0M528.31 196.41h0M518.6 195.88h0M524.13 206.57h0M523.43 208.4h0M528.82 204.2h0M525 201.69h0M519.82 174.11h0M486.49 196.48h0M521.25 205.94h0M494.73 191.45h0M505.53 204.67h0M526.09 188.67h0M512.33 186.52h0M523.79 192.16h0M497.12 175.97h0M523.48 202.44h0M510.38 197.44h0M500.21 175.5h0M528.37 194.01h0M520.77 206.07h0M528.11 193.25h0M516.15 203.87h0M515.31 191.03h0M528.02 195.64h0M527.08 186.98h0M524.25 188.92h0M498.94 199.45h0M522.84 201.37h0M526.8 204.23h0M527.54 202.32h0M520.76 204.84h0M518.81 191.85h0M515.58 206.14h0M527.81 201.68h0M523.76 191.39h0M527 206.32h0M508.33 194.73h0M519.87 198.35h0M501.99 202.44h0M516.32 201.76h0M518.96 207.64h0M507.84 175.56h0M519.34 201.32h0M521.86 173.51h0M523.66 189.84h0M529.28 205.78h0M493.63 197.53h0M525.6 175.03h0M525.73 206.46h0M510.22 194.95h0M528.09 200.75h0M523.64 192.48h0M490.44 194.53h0M488.47 202.84h0M527.71 186.13h0M528.83 188.47h0M519.72 207.94h0M505.11 206.09h0M525.14 191.38h0M518.63 199.81h0M528.49 201.19h0M512.4 193.38h0M526.99 204.63h0M525.94 192.03h0M494.44 199.16h0M523.82 175.37h0M522.2 196.13h0M500.4 197.11h0M487.95 194.03h0M523.54 196.31h0M525 200.11h0M519.33 188.59h0M526.53 205.75h0M515.67 202.93h0M525.22 196.31h0M526.82 188.02h0M508.97 202.89h0M528.07 198.22h0M526.34 196.77h0M521.5 193.25h0M510.34 177.49h0M528.54 202.87h0M516.53 199.43h0M528.87 206.1h0M492.66 196.32h0M524.7 184.05h0M520.89 192.6h0M524.15 196.29h0M527.51 187.86h0M518.76 203.12h0M528.19 184.57h0M506.69 197.19h0M516.44 201.49h0M520.06 202.53h0M518.86 187.78h0M486.27 184.76h0M514.43 203.51h0M507.58 206.03h0M525.35 204.49h0M512.03 200.57h0M496.5 205.3h0M527.35 190.54h0M529.21 199.99h0M506.42 191.34h0M523.47 189.96h0M526.92 200.29h0M511.44 197.3h0M523.41 205.9h0M506.64 202.97h0M520.84 194h0M500.61 197.4h0M528.33 197.83h0M528.13 207.52h0M523.81 205.22h0M515.32 198.39h0M526.55 198.59h0M526.93 204.52h0M529.31 182.81h0M528.38 200.53h0M524 207.27h0M527.93 199.79h0M527.89 193.84h0M517.94 203.37h0M512.61 205.17h0M528.91 188h0M522.89 200.44h0M481.45 196.27h0M513.28 197.41h0M527.02 187.6h0M518.81 178.64h0M520.01 178.75h0M521.11 173.21h0M527.08 184.93h0M522.36 193.53h0M520.39 173.47h0M520.63 207.5h0M525.86 190.16h0M528.68 208.89h0M502.35 202.6h0M523.94 204.05h0M524.29 196.05h0M528.79 193.87h0M499.69 203.83h0M500.53 196.75h0M522.1 195.89h0M520.81 193.84h0M523.93 180.28h0M489.49 192.49h0M524.83 200.76h0M505.34 168.48h0M522.66 182.78h0M509.42 199.01h0M528.34 196.88h0M527.26 207.69h0M526.47 196.97h0M528.79 206.64h0M526.74 196.06h0M515.15 176.09h0M512.26 201.13h0M524.94 184.82h0M519.03 201.94h0M509.33 169.96h0M527.86 174.6h0M525.8 203.42h0M527.14 201.99h0M492.21 204.36h0M527.13 183.65h0M528.97 191.28h0M521.1 174.35h0M452.21 203.09h0M465.07 196.7h0M469.75 198.83h0M473.25 203.8h0M477.93 203.8h0M475.59 194.57h0M481.44 196.7h0M486.11 198.83h0M488.45 195.28h0M491.96 144.16h0M495.46 155.52h0M496.63 159.78h0M501.31 155.52h0M511.83 156.94h0M517.67 159.07h0M516.51 164.04h0M523.52 161.91h0M524.69 164.04h0M473.25 172.56h0M477.93 169.01h0M487.28 170.43h0M489.62 174.69h0M500.14 169.01h0M501.31 172.56h0M502.48 176.82h0M508.32 166.88h0M515.34 172.56h0M518.84 169.01h0M521.18 173.98h0M525.86 172.56h0M486.11 183.92h0M490.79 182.5h0M494.29 182.5h0M481.44 191.02h0M483.77 192.44h0M509.49 180.37h0M504.82 181.08h0M497.8 188.89h0M505.98 186.05h0M501.31 198.12h0M495.46 200.96h0M493.13 203.8h0M499.2 42.3h0M492.5 79.6h0M470.2 84h0M508.9 98.2h0M521.2 125h0M489.5 136.2h0M498.9 138.4h0M522.3 139.1h0M472 149.6h0M505.6 150.3h0M459.8 160.7h0M462.8 168.9h0" stroke="#7cc3a2" stroke-width="4" stroke-linecap="round" fill="none"/>
<path d="M573.08 186.57h0M588.54 199.54h0M567.52 183.15h0M600.03 208.41h0M575.72 191.74h0M582.03 192.93h0M582.4 197.48h0M615.24 189.83h0M570.31 208.73h0M566.39 196.54h0M564.86 189.76h0M581.86 198.98h0M573.67 179.21h0M591.1 187.85h0M564.77 195.83h0M565.18 186.06h0M571.7 188.8h0M567.68 196.35h0M569.62 201.18h0M567.06 199.54h0M569.09 208.21h0M579.88 187.05h0M596.17 193.37h0M613.75 197.37h0M565.76 190.38h0M564.8 190.29h0M595.77 200.44h0M579.8 197.21h0M579.12 180.26h0M570.27 198.96h0M571.09 186.14h0M565.28 182.37h0M575.77 188.86h0M591.35 207.55h0M574.62 196.97h0M602.46 189.38h0M572.91 188.35h0M589.32 201.55h0M582.34 184.86h0M566.67 205.72h0M564.99 198.95h0M579.96 207.18h0M566.72 195.02h0M570.13 198.92h0M598.5 203.18h0M591.12 192.94h0M607.69 201.96h0M571.68 207.83h0M572.06 179.19h0M597.42 202.95h0M565.44 180.64h0M565.04 198.38h0M590.51 186.47h0M591.12 194.29h0M596.82 208.05h0M594.66 208.42h0M578.34 191.21h0M575.84 183.02h0M568.15 204.24h0M566.46 195.92h0M602.6 185.87h0M575.31 201.07h0M564.6 186.28h0M565.05 208.94h0M608.88 197.86h0M608.85 207.51h0M582.84 196.2h0M573.21 186.75h0M582.25 194.89h0M570.7 199.26h0M587.17 202.77h0M572 185.15h0M568.18 188.76h0M584.86 196.36h0M584.78 185.42h0M573.34 188.06h0M578.91 189.51h0M576.85 207.62h0M601.88 199.21h0M567.48 199.28h0M575.41 204.6h0M568.59 206.94h0M579.3 181.15h0M581.25 187.47h0M579.45 203.19h0M565.47 208.24h0M577.52 185.18h0M581.71 208.55h0M603.97 207.77h0M580.15 206.91h0M583.33 209.05h0M569.42 197.7h0M575.32 191.37h0M595.25 200.89h0M568.97 198.12h0M585.82 204.64h0M589.26 199.27h0M590.12 205.14h0M573.63 196.11h0M564.69 189.05h0M579.27 185.42h0M566.59 201.92h0M588.16 208.06h0M571.19 206.14h0M573.2 197.59h0M579.81 195.29h0M594.39 205.68h0M568.77 201.11h0M568.72 194.07h0M572.02 203.36h0M571.51 189h0M569.82 205.51h0M578.53 192.16h0M572.9 193.52h0M608.34 191.67h0M567.96 189.2h0M564.79 198.02h0M567.3 205.19h0M573.72 191.93h0M584.55 192.9h0M580.21 195.39h0M600.99 199.76h0M586.04 208.2h0M572.45 194.75h0M571.16 190.33h0M565.23 199.64h0M575.6 183.89h0M589.29 205.6h0M599.28 201.35h0M573.17 186.93h0M588.79 189.77h0M591.98 204.19h0M576.78 192.82h0M571.6 185.4h0M568.85 188.39h0M564.63 189.41h0M565.33 200.09h0M571.81 205.89h0M571.54 192.68h0M578.99 187.55h0M581.59 205.23h0M567.09 189.16h0M565.4 179.36h0M572.15 192.33h0M578.86 198.69h0M566.44 201.42h0M597.63 196.47h0M572.43 194.79h0M567.23 206.52h0M570.66 185.29h0M574.9 208.26h0M570.93 189.35h0M619.86 203.92h0M577.74 196.31h0M605.99 192.06h0M612.14 201.24h0M629.12 204.38h0M570.28 183.34h0M564.77 208.34h0M567.85 201.92h0M566.53 204.38h0M624.28 188.22h0M606.07 201.03h0M564.58 208.94h0M571.86 189.7h0M573.05 199.48h0M583.61 208.2h0M573.69 203.37h0M571.85 182.74h0M570.12 203.41h0M589.3 204.5h0M571.33 195.52h0M571.63 199.98h0M577.76 208.96h0M592.07 203.54h0M591.72 204.45h0M574.67 189.92h0M564.96 205.87h0M564.89 206.21h0M566.65 182.65h0M572.92 191.05h0M575.47 196.18h0M568.57 204.92h0M572.79 207.97h0M573.69 192.04h0M611.61 206.64h0M578.85 196.91h0M578.48 201.17h0M572.08 206.74h0M584.12 202.19h0M592.24 196.59h0M587.33 195.04h0M578.43 181.34h0M576.96 204.46h0M578.48 188.65h0M584.36 194.69h0M583.05 191.56h0M597.31 192.35h0M568.62 198.48h0M588.86 202.86h0M590.83 208.11h0M573.26 188.48h0M568.05 206.93h0M575.61 202.28h0M585.52 203.65h0M569.57 198.48h0M574.03 194.44h0M604.85 205.46h0M576.22 194.81h0M569.43 199.97h0M579.4 194.04h0M571.78 205.61h0M569.25 190.58h0M572.74 178.27h0M571.95 192.14h0M568.93 197.19h0M583.56 191.99h0M585.97 200.82h0M581.68 204.8h0M582.35 185.53h0M577.74 182.83h0M577.4 201.96h0M569.68 186.22h0M594.29 204.88h0M614.18 203.07h0M605.87 200.88h0M573.9 190.13h0M577.99 191.24h0M564.84 179.31h0M574.99 194.72h0M578.78 185.21h0M571.72 186.35h0M567.41 192.16h0M569.44 205.18h0M579.32 206.2h0M577.9 187.52h0M597.29 194.33h0M573.88 194.26h0M617.51 194.32h0M589.83 207.28h0M567 181.07h0M567.77 185.35h0M583.81 185.03h0M589.84 196.32h0M576.89 192.9h0M591.21 205.73h0M603.67 190.71h0M568.56 197.11h0M573.58 189.43h0M581.22 196.41h0M564.77 201.23h0M572.63 199.83h0M598.27 201.96h0M578.3 192.51h0M587.58 191.67h0M570.49 187.06h0M566.33 194.3h0M588.83 193.6h0M577.76 181.41h0M592.96 201.22h0M593.69 200.77h0M571.41 204.15h0M598.19 188.36h0M581.72 207.7h0M576.66 199.86h0M605.81 200.21h0M567.43 185.06h0M567.48 193.64h0M598.95 190.19h0M570.78 198.26h0M608.09 193.46h0M584.25 182.18h0M578.83 188.49h0M599.5 199.69h0M565.02 181.62h0M568.28 201.81h0M600.36 182.59h0M583.28 193.05h0M577.22 185.57h0M566.82 193.37h0M590.38 202.63h0M565.46 208.46h0M578.93 199.43h0M582.91 185.59h0M573 188.34h0M592.19 208.41h0M598.52 195.44h0M588.4 194.31h0M576.92 198.22h0M566.45 202.19h0M566.27 192.02h0M575.43 191.19h0M583.88 208.98h0M569.89 198.91h0M565.52 198.03h0M581.23 195.59h0M582.37 206.82h0M573.93 204.17h0M576.29 197.22h0M615.11 200.14h0M566 193.92h0M572.42 201.21h0M571.47 191.21h0M605.87 199.95h0M566.61 176.52h0M573.05 189.02h0M574.1 190.74h0M588.19 198.65h0M590.99 195.6h0M565.08 208.13h0M610.46 196.38h0M634.91 197.51h0M574.2 180.51h0M587.7 206.92h0M598.13 194.01h0M572.19 200.99h0M589.5 186.68h0M573.59 199.66h0M565.02 198.23h0M568.23 196.62h0M565.32 198.45h0M580.19 204.2h0M570.99 206.18h0M604.86 193.02h0M583.88 190.36h0M574.72 203.28h0M599.63 197.7h0M574.46 194.65h0M577.86 200.7h0M593.16 193.85h0M568.81 186.5h0M597.14 203.41h0M624.08 195.45h0M568.21 181.39h0M570.77 192.78h0M584.21 190.96h0M576.09 182.21h0M566.95 204.06h0M615.89 202.98h0M568.6 207.89h0M590.7 202.1h0M573.3 182.51h0M581.82 205.64h0M580.33 182.56h0M570.42 204h0M609.17 185.87h0M582.88 195.38h0M583.87 183.89h0M569.22 185.68h0M572.17 189.24h0M569.7 189.84h0M600.85 202.07h0M572.13 204.65h0M565.26 189.07h0M584.4 193.37h0M609.28 189.41h0M567.96 198.87h0M591.06 203.71h0M601.14 192.93h0M577.43 193.46h0M604.73 205.1h0M592.64 207.71h0M570.55 206.24h0M568.78 202.15h0M573.23 190.82h0M576.98 206.18h0M574.69 200.16h0M566.07 192.02h0M576.83 188.07h0M582.17 204.57h0M590.26 183.9h0M570.91 190.15h0M583.32 193.3h0M570.52 187.51h0M579.59 203.73h0M564.94 189.83h0M610.4 189.82h0M567.89 188.5h0M584.24 196.21h0M582.28 191.79h0M601.81 204.91h0M565 201.91h0M590.37 191.33h0M575.63 200.16h0M567.33 197.05h0M568.94 178.2h0M586.83 207.15h0M578.73 205.3h0M573.18 190.04h0M565.43 189.67h0M580.78 177.91h0M611.28 191.43h0M595.58 208.75h0M587.58 187.37h0M566.67 193.25h0M575.28 202.4h0M575.72 186.24h0M565.3 203.15h0M597.26 196.81h0M571.72 189.36h0M598.07 183.74h0M572.16 191.38h0M577.95 189.29h0M576.89 188.96h0M567.68 206.87h0M566.56 192.45h0M574.32 204.35h0M590.62 193.28h0M571.04 183.9h0M566.17 196.92h0M569.72 196.32h0M566.47 199.94h0M572.07 195.02h0M564.93 187.56h0M612.34 201.45h0M570.76 200.48h0M594.15 201.25h0M575.38 194.95h0M573.63 190.65h0M590.83 191.4h0M610.92 190.63h0M568.47 188.59h0M579.61 193.48h0M569.97 179.62h0M582.58 182.76h0M582.45 192.14h0M568.56 199.34h0M620.05 187.66h0M568.83 181.25h0M595.53 186.03h0M591.73 184.54h0M572.52 185.09h0M567.9 187.37h0M582.75 190.53h0M576.01 194.97h0M603.42 205.58h0M590.02 207.37h0M571.45 194.63h0M567.56 205.78h0M566.39 208.91h0M574.71 185.35h0M585.79 179.01h0M571.18 190h0M568.42 196.33h0M568.11 183.88h0M573.31 187.69h0M570.08 186.79h0M564.61 184.47h0M576.61 193.17h0M579.8 191h0M569.64 179.51h0M565.89 207.3h0M566.84 184.93h0M582.12 189.45h0M568.92 182.9h0M573.04 201.53h0M568.79 198.53h0M565.07 191.86h0M579.67 203.01h0M586.33 178.42h0M569.43 197.21h0M576.2 205.95h0M591.97 208.94h0M568.44 206.04h0M579.83 198.95h0M579.21 203.19h0M571.36 194.78h0M579.78 193.24h0M566.37 193.17h0M572.34 195.12h0M575.93 200.35h0M577.78 194.23h0M589.32 196.67h0M579.38 198.28h0M589.27 195.86h0M565.42 192.28h0M600.68 190.8h0M580.13 188.89h0M594.49 182.56h0M580.34 198.14h0M583.86 181.16h0M573.49 195.24h0M576.57 193.22h0M573.45 187.34h0M565.82 179.12h0M603.93 194.36h0M587.38 206.18h0M607.74 184.59h0M580.59 192.9h0M600.78 195.31h0M571.12 182.32h0M566.67 193.37h0M565.2 193.35h0M572.37 204.61h0M600.05 184.26h0M566.41 205.4h0M571.71 188.79h0M567.07 195.41h0M603.71 200.72h0M569.31 192.08h0M579.64 193.31h0M586.72 198.98h0M577.36 190.9h0M573.25 194.92h0M567.6 187.65h0M590.68 197.56h0M584.83 191.82h0M569.52 178.28h0M577.11 191.07h0M585.28 189.2h0M573.58 185.87h0M573.26 193.55h0M573.44 205.34h0M565.86 186.71h0M564.45 188.34h0M566.34 197.68h0M570.1 176.38h0M592.97 188.58h0M566.86 205.89h0M580.81 186.77h0M568.76 207.85h0M569.41 204.77h0M566.17 190.14h0M564.77 199.62h0M566.11 193.11h0M571.82 188.8h0M568.73 201.28h0M623.75 203.6h0M584.86 184.16h0M585.6 207.32h0M570.45 192.85h0M589.64 207.61h0M573.47 186.69h0M587.77 205.59h0M598.87 194.76h0M564.94 197.29h0M584.84 193.22h0M570.25 199.29h0M565.45 193.12h0M572.83 178.08h0M601.94 202.15h0M599.54 181.42h0M589.54 207.53h0M603.14 200.53h0M586.98 199.51h0M572.97 183.71h0M566.99 196.06h0M598.97 187.95h0M574.44 202.33h0M622.27 205.85h0M569.09 185.22h0M585.17 183.02h0M566.37 190.7h0M577.23 198.93h0M566.52 193.75h0M601.5 199.13h0M581.51 202.21h0M572.47 182.98h0M567.47 183.9h0M569.57 196.92h0M565.93 206.52h0M582.44 206.44h0M573.08 189.48h0M602.79 197.37h0M618.73 202.18h0M589.7 195.63h0M585.15 185.18h0M574.53 199.49h0M581.14 193.05h0M564.65 189.86h0M575.11 194.82h0M564.91 198.4h0M570.79 206.76h0M575.26 190.65h0M606.86 205.4h0M575.77 201.13h0M581.44 206.2h0M571.44 208.43h0M569.32 191.21h0M568.35 187.79h0M588.27 191.12h0M619.71 203.23h0M586.5 190.37h0M627.03 201.71h0M601.72 183.6h0M564.53 207.08h0M575.17 195.18h0M568.56 200.06h0M566.88 201.83h0M594.59 205.62h0M573.76 177.95h0M566.26 188.1h0M576.87 184.46h0M565.23 208.15h0M609.53 186.38h0M574.09 196.12h0M576.57 199.28h0M593.08 202.34h0M569.6 196.86h0M580.93 184.31h0M580.21 185.19h0M579.8 200.6h0M570.84 192.2h0M570.59 201.95h0M576.92 181.61h0M592.16 189.36h0M581.63 208.76h0M602.54 195.99h0M569.85 179.23h0M566.66 205.45h0M572.35 185.67h0M569.34 208.47h0M572.99 195.71h0M580.88 198.93h0M565.2 203.63h0M568.64 190.89h0M575.46 191.84h0M568.3 192.07h0M579.32 190.36h0M566.93 208.68h0M572.1 193.76h0M589.89 196.61h0M578.49 192.13h0M568.98 185.67h0M565 202.32h0M576.27 188.86h0M596.26 191.88h0M572.5 188.29h0M585.1 195.36h0M586.62 184.01h0M595.15 191.97h0M583.38 203.61h0M570.01 197.8h0M570.18 187.61h0M572.14 195.4h0M583.55 190.32h0M565.75 197.16h0M599.57 203.09h0M588.53 208.66h0M565.03 180.93h0M588.76 205.54h0M567.47 183.11h0M572.04 205.62h0M566.9 197.23h0M570.59 202.32h0M568.95 190.55h0M572.31 185.94h0M578.76 199.61h0M564.47 207.09h0M590.66 199.6h0M586.62 197.17h0M583.01 198.32h0M578.6 179.48h0M570.76 205.82h0M574.84 199.12h0M576.8 204.74h0M580.65 186.85h0M609.07 201.72h0M572.17 200.43h0M568.9 207.23h0M585.73 189.79h0M574.6 190.09h0M592.48 192.23h0M572.84 199.08h0M586.15 191.75h0M566.04 188.99h0M564.77 206.65h0M596.96 190.67h0M566.17 187.46h0M564.75 193.84h0M576.33 191.04h0M591.78 194.76h0M566.84 180.27h0M565.53 206.27h0M577.18 195.65h0M572.43 208.85h0M568.03 205.37h0M572.07 195.39h0M626.96 187.31h0M566.18 184.79h0M564.72 185.78h0M583.62 195.59h0M570.94 204.05h0M600.81 206.72h0M573.06 195.94h0M587.07 187.75h0M570.69 197.77h0M570.24 196h0M599.16 191.81h0M597.95 186.31h0M605.76 191.51h0M582.53 191.6h0M601.61 185.36h0M583.8 185.82h0M622.77 192.59h0M569.25 206.08h0M572.34 188.23h0M592.03 201.23h0M599.97 190.7h0M593.68 189.38h0M613.02 204.74h0M615.43 195.8h0M586.4 194.47h0M568.32 189.92h0M593.71 190.86h0M578.99 198.58h0M581.38 204.97h0M608.66 191.58h0M578.92 190.23h0M584.39 204.93h0M610.3 189.44h0M586.52 192.14h0M592.68 200.65h0M565.33 182.95h0M594.02 185.37h0M579.45 199.55h0M594.08 203.97h0M568.39 192.7h0M568.9 205.68h0M598.46 186.42h0M586.22 207.2h0M585.52 185.77h0M589.48 193.03h0M615.67 199.2h0M576.16 196.73h0M566.99 179.93h0M575.57 182.33h0M578.26 197.79h0M572.34 195.93h0M567.08 194.62h0M568.46 198.91h0M573.44 185.29h0M565.09 208.69h0M567.17 196.59h0M608.23 201.3h0M612.06 200.03h0M578.81 182.15h0M573.72 178.52h0M571.53 185.8h0M573.3 201.58h0M586.03 195.71h0M566.28 190.63h0M565.77 201.74h0M574.2 208.59h0M574.41 181.64h0M577.15 181.1h0M599 204.98h0M569.99 207.23h0M574.26 187.63h0M589.41 205.63h0M564.98 200.28h0M587.58 199.02h0M569.56 184.97h0M601.6 189.9h0M583.09 193.97h0M564.66 203.44h0M570.43 187.08h0M568.63 208.16h0M577.13 205.16h0M581.68 195.38h0M564.87 190.42h0M574.02 205.75h0M572.51 199.49h0M569.21 200.09h0M583.39 208.4h0M567.11 199.7h0M575.06 194.67h0M586.71 193.54h0M605.73 203.71h0M566.3 185.2h0M580.05 196.48h0M612.28 188.84h0M567.1 191.45h0M568.6 191.81h0M626.59 200.33h0M601.29 206.55h0M567.49 202.43h0M574.81 195.77h0M578.51 190.91h0M573.21 198.03h0M576.45 180.09h0M571.99 203.71h0M589.68 194.28h0M569.09 199.15h0M569.08 194.73h0M607.32 194.32h0M566.11 197.48h0M581.54 195.61h0M565.57 198.56h0M568.43 190.48h0M574.27 179.93h0M586.08 200.16h0M570.42 206.53h0M566.14 199.75h0M592.07 190.18h0M568.6 196h0M569.77 194.2h0M568.85 190.26h0M591.94 200.67h0M572.8 200.91h0M570.13 205.44h0M576.74 183.52h0M572.39 196.1h0M580.97 188.55h0M568.52 201.46h0M586.01 197.22h0M591.73 196.96h0M567.5 199.58h0M571.24 207.93h0M578.71 194.02h0M571.64 199.33h0M568.79 202.41h0M576.76 200.34h0M564.47 205.84h0M583.68 206.8h0M586.67 188.22h0M565.62 200.65h0M584.23 187.93h0M578.74 200.55h0M567.57 206.8h0M584.61 187.94h0M566.71 193.68h0M567.36 189.48h0M597.28 185.59h0M587.48 186.86h0M568.85 180.44h0M607.28 188.66h0M577.81 204.01h0M579.6 188.62h0M566.73 188.12h0M584.39 191.43h0M588.06 205.67h0M605.02 186.48h0M569.71 191.7h0M585.86 198.59h0M572.33 181.33h0M565.12 179.94h0M569.21 204.56h0M589.56 208.82h0M568.28 200.13h0M583.09 179.14h0M568.22 200.87h0M578.76 206.1h0M573.13 195.37h0M591.88 192.4h0M565.34 185.28h0M579.12 201.64h0M582.96 196.25h0M568.57 190.6h0M586.71 187.31h0M580.95 185.8h0M567.35 197.31h0M569.46 190.45h0M611.04 187.98h0M580.48 208.35h0M595.14 198.66h0M572.01 186.14h0M613.51 205.64h0M570.07 192.64h0M581.36 192.67h0M572.76 182.41h0M589.18 202.84h0M564.53 186.29h0M565.14 183.34h0M587.25 191.87h0M585.3 191.56h0M609.13 198.05h0M577.9 190.74h0M565.11 203.12h0M588.03 206.07h0M592.48 199.43h0M592.61 193.85h0M582.97 198.79h0M565.2 206.09h0M579.46 179.7h0M568.41 208.27h0M637.74 200.82h0M596.9 204.83h0M569.09 206.25h0M568.42 176.39h0M582.79 182.53h0M568.72 199.3h0M567.69 193.93h0M592.75 199.68h0M565.46 192.98h0M573.57 203.74h0M564.47 180.81h0M566.28 205.29h0M579.01 180.03h0M564.9 183.08h0M576.87 195.88h0M565.22 196.36h0M574.32 186.23h0M613.48 190.11h0M590.84 204.57h0M591.05 207.06h0M582.06 180.77h0M581.52 193.88h0M571.5 198.64h0M576.54 187.92h0M569.66 196.92h0M574.07 187.05h0M580.28 178.8h0M577.18 207.26h0M569.44 198.49h0M577.44 183.04h0M580.48 185.1h0M611.34 193.51h0M568.09 186.93h0M583.97 190.47h0M566.77 196.73h0M601.95 185.59h0M567.57 202.22h0M573.19 191.31h0M567.76 180.88h0M620.46 193.82h0M581.01 207.93h0M624.94 199.4h0M568.07 208.51h0M576.2 201.38h0M570 200.08h0M589.29 188.13h0M564.49 207.67h0M566.63 181.92h0M586.81 183h0M568.11 196.19h0M577.23 189.25h0M565.62 181.27h0M614.24 198.62h0M574.7 201.72h0M564.63 193.64h0M573.2 203.42h0M582.42 201.61h0M575.38 198.01h0M564.71 198.57h0M565.91 184.58h0M565.02 200.85h0M579.17 189.03h0M586.32 189.13h0M577.11 200.83h0M578.29 207.41h0M575.24 203.53h0M575.66 185.01h0M593.28 205.14h0M565.27 204.63h0M587.21 200.58h0M600.74 201.24h0M612.68 202.15h0M570.27 192.53h0M579.74 208.59h0M572.98 199.17h0M592.85 197.87h0M567.93 202.02h0M584.69 188.22h0M584.17 195.96h0M590.92 202.54h0M580.75 196.62h0M568.86 186.27h0M578.7 190.48h0M578.84 183.57h0M591.21 192.67h0M584.52 201.17h0M574.82 185.95h0M567.56 186.18h0M568.15 185.31h0M568.28 186.42h0M577.49 188.24h0M583.45 194.78h0M569.57 186.5h0M573.17 189.29h0M573.35 198.94h0M589.97 205.16h0M579.43 203.7h0M568.68 184.43h0M566.1 197.28h0M584.16 200.87h0M569.51 199.53h0M577.39 196.17h0M575.58 195.94h0M593.04 208.12h0M576.17 199.24h0M587.36 201h0M583.28 200.06h0M585.93 193.43h0M575.94 205.19h0M572.72 202.23h0M581.76 197.79h0M568.22 201.31h0M564.68 192.4h0M576.95 194.97h0M597.28 207.19h0M566.7 204.89h0M581.66 190.11h0M573.82 199.18h0M598.74 200.29h0M601.61 195.74h0M565.41 205.55h0M567.29 189.74h0M575.5 194.06h0M589.67 202.57h0M612.09 202.94h0M576.54 204.53h0M569.84 203.37h0M564.95 205.67h0M569.49 207.88h0M582.71 187.26h0M565.35 198.44h0M607.49 183.84h0M568.51 207.5h0M587.01 203.43h0M565.57 187.09h0M581.64 201h0M565.74 201.9h0M568.15 195.78h0M567.75 191.4h0M567.81 205.21h0M566.11 207.51h0M575.32 193.45h0M566.69 185.88h0M586.05 189.95h0M568.08 189.91h0M566.17 204.36h0M570.36 180.05h0M593.3 192.14h0M567.83 203.14h0M596.75 208.45h0M582.62 186.43h0M583.62 201.12h0M601.91 203.74h0M602.06 207.94h0M595.54 194.93h0M576.98 202.31h0M579.32 201.67h0M567.7 196.42h0M568.26 185.42h0M596.43 188.18h0M575.31 202.43h0M570.95 207.87h0M565.59 189.39h0M575.15 176.7h0M569.04 201.17h0M570.96 201.11h0M569.27 184.84h0M573.62 193.66h0M575.16 192.7h0M579.82 204.04h0M570.71 188.86h0M565.56 189.34h0M574.73 195.52h0M572.13 202.73h0M566.28 181.15h0M577.44 182.21h0M569.95 183.67h0M564.92 189.56h0M568.64 188.73h0M576.16 182.85h0M568.18 196.27h0M569.67 206.12h0M614.47 198.39h0M578.34 202h0M585.89 203.79h0M573.06 189.54h0M565.41 193.66h0M565.16 180.52h0M580.26 196.53h0M570.41 193.25h0M571.6 203.01h0M565.25 186.85h0M572.65 201.03h0M568.77 206.51h0M576.79 208.15h0M602.33 192.97h0M585.9 197.94h0M585.06 203.82h0M580.55 199.27h0M567.73 193.39h0M586.51 205.18h0M570.77 205.78h0M574.49 187.6h0M584.64 208.87h0M572.64 191.88h0M577.08 195.57h0M566.75 202.03h0M581.65 185.86h0M604.72 193.45h0M594.83 200.15h0M583.85 188.13h0M565.18 201.35h0M573.08 196.38h0M575 202.28h0M565.12 208.68h0M576.16 181.14h0M593.06 192.94h0M566.55 189.81h0M564.73 188.91h0M564.89 186.24h0M569.35 193.49h0M624.25 205.67h0M582 186.77h0M587.95 200.07h0M587.79 200.39h0M574.06 198.93h0M578.03 187.03h0M578.08 199.48h0M595.3 208.94h0M579.25 191.88h0M564.61 207.03h0M565.98 206.53h0M564.75 194.7h0M578.7 184.94h0M610.84 206.78h0M568.06 202.25h0M580.83 197.7h0M572.21 194.79h0M570.05 204.46h0M585.84 189.37h0M565.04 196.89h0M580.39 204.91h0M569.26 199.75h0M573.98 198.6h0M633.57 204.09h0M594.19 200.99h0M592.88 193.35h0M594.91 188.89h0M589.39 197.53h0M581.13 198.03h0M574.42 189.09h0M596.09 194.35h0M565.32 200.35h0M574.05 202.43h0M589.4 194.81h0M596.79 200.85h0M565.2 185.88h0M589.35 189.76h0M566.43 193.36h0M577.09 185.69h0M571.9 193.47h0M574.81 185.73h0M590.84 206.95h0M565.32 206.73h0M574.15 191.25h0M565.36 191.34h0M583.96 195.21h0M608.9 196.56h0M624.9 196.06h0M579.6 184.21h0M576.2 194.83h0M570.45 183.48h0M565.11 202.87h0M585 197.67h0M597.11 205.64h0M568.84 202.6h0M597.71 189.06h0M567.12 198.24h0M570.51 196.55h0M566.69 195.42h0M581.11 188.01h0M586.92 203.29h0M601.26 192.39h0M587.94 199.75h0M570.77 197.06h0M569.99 188.72h0M566.45 186.51h0M588.09 203.07h0M580.97 199.34h0M568.04 191.63h0M596.92 202.29h0M620.97 192.73h0M572.18 204.44h0M578.69 201.5h0M589.52 197.3h0M564.95 180.12h0M577.11 201.41h0M573.29 186.17h0M566.24 194.27h0M569.42 190.83h0M583.36 194.06h0M573.46 203.57h0M565.42 198.07h0M566.96 198.96h0M566.67 207.1h0M607.53 184.8h0M570.11 205.66h0M584.64 205.77h0M581.1 192.41h0M571.14 189.46h0M574.81 177.9h0M580.39 188.51h0M603.79 193.55h0M574.74 196.32h0M573.6 187.94h0M574.72 198.82h0M592.99 187.4h0M593.99 194.11h0M566.33 204.1h0M565.18 180.64h0M569.32 199.96h0M570.67 200.71h0M588.09 195.72h0M571.92 193.35h0M577.72 208.71h0M599.72 189.01h0M586.47 189.62h0M604.26 184.58h0M568.36 191.29h0M625.63 189.39h0M565.58 195.73h0M593.62 199.64h0M578.33 199.8h0M602.51 184.25h0M565.19 183.25h0M574.48 197.4h0M572.25 180.76h0M569.58 205.4h0M583.75 192.42h0M593.19 184.05h0M581.88 200.73h0M565.82 206.6h0M567.26 185.02h0M572.96 195.67h0M570.25 185.2h0M566.54 206.52h0M570.3 186.35h0M575.64 188.99h0M639.13 197.4h0M576.21 185.76h0M583.85 200.93h0M565.42 198.22h0M609.28 183.53h0M565.57 176.46h0M569.36 195.77h0M569.36 204.87h0M590.79 188.15h0M620.79 200.46h0M565.04 186.12h0M569.3 207.35h0M588.16 184.26h0M574.77 177.03h0M577.13 187.99h0M573.89 198.48h0M589.75 205.68h0M569.33 197.02h0M598.84 191.54h0M569.17 190.73h0M571.09 181.63h0M599.92 198.79h0M565.29 191.27h0M582.49 195.24h0M580.28 208.41h0M589.98 203.93h0M573.49 189.9h0M588.98 196.19h0M572.9 186.53h0M580.24 194.51h0M585.43 195.29h0M568.32 208.82h0M570.06 206.44h0M602.05 201.71h0M591.46 194.09h0M593.06 188.1h0M579.34 207.42h0M565.53 200.99h0M578.7 183.07h0M565.77 185.2h0M575.58 199.04h0M566.99 202.08h0M566.96 185.78h0M581.32 181.05h0M578.98 189.01h0M572.7 196.36h0M577.27 189.02h0M572.19 206.76h0M574.48 203.7h0M571.7 197.24h0M610.12 203.32h0M568.72 200.5h0M604.56 206.38h0M576 187.98h0M567.12 189.42h0M567.75 186.57h0M577.29 145.58h0M581.97 149.13h0M584.89 152.68h0M600.09 151.26h0M587.23 156.23h0M568.53 161.2h0M587.23 163.33h0M574.37 169.01h0M579.05 171.85h0M580.8 174.69h0M588.98 171.85h0M594.24 170.43h0M607.1 173.27h0M619.38 169.72h0M616.46 176.82h0M641 193.15h0M639.25 195.99h0M636.91 192.44h0M633.41 193.86h0M629.9 190.31h0M626.39 188.18h0M622.88 186.76h0M619.38 185.34h0M636.91 202.38h0M632.24 200.96h0M566.77 168.3h0M569.11 171.14h0M571.45 173.27h0M573.79 172.56h0M585.48 175.4h0M592.49 177.53h0M598.34 176.82h0M604.18 178.95h0M608.86 181.08h0M612.36 183.21h0M628.73 203.09h0M624.05 204.51h0M573.3 141h0M577 143.6h0M593.8 114.6h0M624.3 168.9h0M622.5 180h0M670.1 181.2h0" stroke="#d9501c" stroke-width="3.9" stroke-linecap="round" fill="none"/>
<path d="M529.37 34.6V219.4M564.43 34.6V219.4" stroke="#000" stroke-width="1.3" stroke-dasharray="6 4" fill="none"/>
<path d="M442 209.5H681.8" stroke="#000" stroke-width="1.5" stroke-dasharray="9 4.87" stroke-dashoffset="3.75" fill="none"/>
</g>
<rect x="442" y="34.6" width="239.8" height="184.8" fill="none" stroke="#333" stroke-width="1.1"/>
<text x="453.38" y="232.4" font-size="10.1" text-anchor="middle" fill="#444" stroke="#444" stroke-width="0.3">−8</text>
<text x="476.76" y="232.4" font-size="10.1" text-anchor="middle" fill="#444" stroke="#444" stroke-width="0.3">−6</text>
<text x="500.14" y="232.4" font-size="10.1" text-anchor="middle" fill="#444" stroke="#444" stroke-width="0.3">−4</text>
<text x="523.52" y="232.4" font-size="10.1" text-anchor="middle" fill="#444" stroke="#444" stroke-width="0.3">−2</text>
<text x="546.9" y="232.4" font-size="10.1" text-anchor="middle" fill="#444" stroke="#444" stroke-width="0.3">0</text>
<text x="570.28" y="232.4" font-size="10.1" text-anchor="middle" fill="#444" stroke="#444" stroke-width="0.3">2</text>
<text x="593.66" y="232.4" font-size="10.1" text-anchor="middle" fill="#444" stroke="#444" stroke-width="0.3">4</text>
<text x="617.04" y="232.4" font-size="10.1" text-anchor="middle" fill="#444" stroke="#444" stroke-width="0.3">6</text>
<text x="640.42" y="232.4" font-size="10.1" text-anchor="middle" fill="#444" stroke="#444" stroke-width="0.3">8</text>
<text x="663.8" y="232.4" font-size="10.1" text-anchor="middle" fill="#444" stroke="#444" stroke-width="0.3">10</text>
<text x="437.4" y="214.4" font-size="10.1" text-anchor="end" fill="#444" stroke="#444" stroke-width="0.3">0</text>
<text x="437.4" y="178.9" font-size="10.1" text-anchor="end" fill="#444" stroke="#444" stroke-width="0.3">25</text>
<text x="437.4" y="143.4" font-size="10.1" text-anchor="end" fill="#444" stroke="#444" stroke-width="0.3">50</text>
<text x="437.4" y="107.9" font-size="10.1" text-anchor="end" fill="#444" stroke="#444" stroke-width="0.3">75</text>
<text x="437.4" y="72.4" font-size="10.1" text-anchor="end" fill="#444" stroke="#444" stroke-width="0.3">100</text>
<path d="M453.38 219.4v2.8M476.76 219.4v2.8M500.14 219.4v2.8M523.52 219.4v2.8M546.9 219.4v2.8M570.28 219.4v2.8M593.66 219.4v2.8M617.04 219.4v2.8M640.42 219.4v2.8M663.8 219.4v2.8M442 210.9h-2.8M442 175.4h-2.8M442 139.9h-2.8M442 104.4h-2.8M442 68.9h-2.8" stroke="#333" stroke-width="1" fill="none"/>
<text x="562" y="249.8" font-size="12.5" text-anchor="middle">log2 FoldChange</text>
<text x="0" y="0" font-size="12.7" text-anchor="middle" transform="translate(418.4 127) rotate(-90)">−log10(adj)</text>
<circle cx="633.9" cy="44.1" r="1.8" fill="#7cc3a2"/>
<text x="642.8" y="47.3" font-size="8.9" stroke="#000" stroke-width="0.25">DOWN</text>
<circle cx="633.9" cy="55.1" r="1.8" fill="#4c63b6"/>
<text x="642.8" y="58.3" font-size="8.9" stroke="#000" stroke-width="0.25">NS</text>
<circle cx="633.9" cy="66.1" r="1.8" fill="#d9501c"/>
<text x="642.8" y="69.3" font-size="8.9" stroke="#000" stroke-width="0.25">UP</text>
<path d="M499.2 42.3L508.1 43.6" stroke="#111" stroke-width="1"/>
<rect x="501.85" y="36.6" width="24.5" height="7" rx="1.9" fill="#fff" stroke="#111" stroke-width="1.2"/>
<text x="514.1" y="41.4" font-size="3.6" text-anchor="middle" font-style="italic" stroke="#000" stroke-width="0.3">AT1G50290</text>
<path d="M492.5 79.6L495 77.5" stroke="#111" stroke-width="1"/>
<rect x="488.75" y="70.5" width="24.5" height="7" rx="1.9" fill="#fff" stroke="#111" stroke-width="1.2"/>
<text x="501" y="75.3" font-size="3.6" text-anchor="middle" font-style="italic" stroke="#000" stroke-width="0.3">AT3G13310</text>
<path d="M470.2 84L469.1 86.9" stroke="#111" stroke-width="1"/>
<rect x="450.85" y="86.9" width="24.5" height="7" rx="1.9" fill="#fff" stroke="#111" stroke-width="1.2"/>
<text x="463.1" y="91.7" font-size="3.6" text-anchor="middle" font-style="italic" stroke="#000" stroke-width="0.3">AT2G40960</text>
<path d="M508.9 98.2L511.8 95.8" stroke="#111" stroke-width="1"/>
<rect x="505.55" y="88.8" width="24.5" height="7" rx="1.9" fill="#fff" stroke="#111" stroke-width="1.2"/>
<text x="517.8" y="93.6" font-size="3.6" text-anchor="middle" font-style="italic" stroke="#000" stroke-width="0.3">AT3G42790</text>
<path d="M521.2 125L524.1 122.6" stroke="#111" stroke-width="1"/>
<rect x="517.85" y="115.6" width="24.5" height="7" rx="1.9" fill="#fff" stroke="#111" stroke-width="1.2"/>
<text x="530.1" y="120.4" font-size="3.6" text-anchor="middle" font-style="italic" stroke="#000" stroke-width="0.3">AT1G06360</text>
<path d="M489.5 136.2L484.7 134.3" stroke="#111" stroke-width="1"/>
<rect x="466.45" y="127.3" width="24.5" height="7" rx="1.9" fill="#fff" stroke="#111" stroke-width="1.2"/>
<text x="478.7" y="132.1" font-size="3.6" text-anchor="middle" font-style="italic" stroke="#000" stroke-width="0.3">AT5G20480</text>
<path d="M498.9 138.4L501.7 135.2" stroke="#111" stroke-width="1"/>
<rect x="495.45" y="128.2" width="24.5" height="7" rx="1.9" fill="#fff" stroke="#111" stroke-width="1.2"/>
<text x="507.7" y="133" font-size="3.6" text-anchor="middle" font-style="italic" stroke="#000" stroke-width="0.3">AT2G46070</text>
<path d="M522.3 139.1L530 135.6" stroke="#111" stroke-width="1"/>
<rect x="523.75" y="128.6" width="24.5" height="7" rx="1.9" fill="#fff" stroke="#111" stroke-width="1.2"/>
<text x="536" y="133.4" font-size="3.6" text-anchor="middle" font-style="italic" stroke="#000" stroke-width="0.3">AT1G14510</text>
<path d="M573.3 141L571.1 139.3" stroke="#111" stroke-width="1"/>
<rect x="552.85" y="132.3" width="24.5" height="7" rx="1.9" fill="#fff" stroke="#111" stroke-width="1.2"/>
<text x="565.1" y="137.1" font-size="3.6" text-anchor="middle" font-style="italic" stroke="#000" stroke-width="0.3">AT2G33420</text>
<path d="M472 149.6L472 147.1" stroke="#111" stroke-width="1"/>
<rect x="465.75" y="140.1" width="24.5" height="7" rx="1.9" fill="#fff" stroke="#111" stroke-width="1.2"/>
<text x="478" y="144.9" font-size="3.6" text-anchor="middle" font-style="italic" stroke="#000" stroke-width="0.3">AT5G62210</text>
<path d="M505.6 150.3L508.1 148.6" stroke="#111" stroke-width="1"/>
<rect x="501.85" y="141.6" width="24.5" height="7" rx="1.9" fill="#fff" stroke="#111" stroke-width="1.2"/>
<text x="514.1" y="146.4" font-size="3.6" text-anchor="middle" font-style="italic" stroke="#000" stroke-width="0.3">AT1G22590</text>
<path d="M577 143.6L587 145.3" stroke="#111" stroke-width="1"/>
<rect x="580.75" y="138.3" width="24.5" height="7" rx="1.9" fill="#fff" stroke="#111" stroke-width="1.2"/>
<text x="593" y="143.1" font-size="3.6" text-anchor="middle" font-style="italic" stroke="#000" stroke-width="0.3">AT1G02770</text>
<path d="M459.8 160.7L459.7 158.7" stroke="#111" stroke-width="1"/>
<rect x="453.45" y="151.7" width="24.5" height="7" rx="1.9" fill="#fff" stroke="#111" stroke-width="1.2"/>
<text x="465.7" y="156.5" font-size="3.6" text-anchor="middle" font-style="italic" stroke="#000" stroke-width="0.3">AT2G23590</text>
<path d="M462.8 168.9L461.6 166.9" stroke="#111" stroke-width="1"/>
<rect x="443.35" y="159.9" width="24.5" height="7" rx="1.9" fill="#fff" stroke="#111" stroke-width="1.2"/>
<text x="455.6" y="164.7" font-size="3.6" text-anchor="middle" font-style="italic" stroke="#000" stroke-width="0.3">AT3G09600</text>
<path d="M593.8 114.6L596.3 111.8" stroke="#111" stroke-width="1"/>
<rect x="590.05" y="104.8" width="24.5" height="7" rx="1.9" fill="#fff" stroke="#111" stroke-width="1.2"/>
<text x="602.3" y="109.6" font-size="3.6" text-anchor="middle" font-style="italic" stroke="#000" stroke-width="0.3">AT5G35935</text>
<path d="M624.3 168.9L627.2 166.1" stroke="#111" stroke-width="1"/>
<rect x="620.95" y="159.1" width="24.5" height="7" rx="1.9" fill="#fff" stroke="#111" stroke-width="1.2"/>
<text x="633.2" y="163.9" font-size="3.6" text-anchor="middle" font-style="italic" stroke="#000" stroke-width="0.3">AT1G13940</text>
<path d="M622.5 180L625.3 183.7" stroke="#111" stroke-width="1"/>
<rect x="619.05" y="183.7" width="24.5" height="7" rx="1.9" fill="#fff" stroke="#111" stroke-width="1.2"/>
<text x="631.3" y="188.5" font-size="3.6" text-anchor="middle" font-style="italic" stroke="#000" stroke-width="0.3">AT5G61600</text>
<path d="M670.1 181.2L667.9 178.8" stroke="#111" stroke-width="1"/>
<rect x="649.65" y="171.8" width="24.5" height="7" rx="1.9" fill="#fff" stroke="#111" stroke-width="1.2"/>
<text x="661.9" y="176.6" font-size="3.6" text-anchor="middle" font-style="italic" stroke="#000" stroke-width="0.3">AT2G14690</text>
</g>
<g id="panelC">
<text x="174.3" y="294" font-size="12.5" text-anchor="middle"><tspan font-style="italic">al7m</tspan> up-regulated genes</text>
<text x="174.5" y="308.7" font-size="12.5" text-anchor="middle">n=1302</text>
<path d="M50.5 311.5V497.2H186.9" fill="none" stroke="#111" stroke-width="1.35"/>
<text x="45.9" y="334.38" font-size="9" text-anchor="end">10.0</text>
<text x="45.9" y="380.75" font-size="9" text-anchor="end">7.5</text>
<text x="45.9" y="427.12" font-size="9" text-anchor="end">5.0</text>
<text x="45.9" y="473.5" font-size="9" text-anchor="end">2.5</text>
<path d="M50.5 331.27h-3.6M50.5 377.65h-3.6M50.5 424.02h-3.6M50.5 470.4h-3.6M70.1 497.2v3.4M102.5 497.2v3.4M135 497.2v3.4M167.6 497.2v3.4" stroke="#111" stroke-width="1.1" fill="none"/>
<text x="0" y="0" font-size="12.3" text-anchor="middle" transform="translate(23.3 406) rotate(-90)">log2FoldChange</text>
<path d="M70.1 387V442.3M70.1 479.1V488.5" stroke="#2b2b2b" stroke-width="1.25" fill="none"/>
<rect x="57.55" y="442.3" width="25.1" height="36.8" fill="#4a66b8" stroke="#2b2b2b" stroke-width="1.15"/>
<path d="M57.55 465.7H82.65" stroke="#2b2b2b" stroke-width="1.4"/>
<path d="M70.1 320.2h0M70.1 366.5h0M70.1 368.5h0M70.1 370.5h0M70.1 372.5h0M70.1 374.5h0M70.1 376.5h0M70.1 378.5h0M70.1 380.5h0M70.1 382.5h0M70.1 384.5h0M70.1 386h0" stroke="#2b2b2b" stroke-width="3.8" stroke-linecap="round" fill="none"/>
<path d="M102.5 445.3V468.6M102.5 485.3V488.5" stroke="#2b2b2b" stroke-width="1.25" fill="none"/>
<rect x="89.95" y="468.6" width="25.1" height="16.7" fill="#fbb37c" stroke="#2b2b2b" stroke-width="1.15"/>
<path d="M89.95 479.7H115.05" stroke="#2b2b2b" stroke-width="1.4"/>
<path d="M102.5 396.1h0M102.5 402.8h0M102.5 404.9h0M102.5 413.1h0M102.5 421h0M102.5 430.7h0M102.5 434h0M102.5 436h0M102.5 438h0M102.5 440h0M102.5 442h0M102.5 443.8h0" stroke="#2b2b2b" stroke-width="3.8" stroke-linecap="round" fill="none"/>
<path d="M135 459.3V472.4M135 485V488.5" stroke="#2b2b2b" stroke-width="1.25" fill="none"/>
<rect x="122.45" y="472.4" width="25.1" height="12.6" fill="#dd5516" stroke="#2b2b2b" stroke-width="1.15"/>
<path d="M122.45 480.3H147.55" stroke="#2b2b2b" stroke-width="1.4"/>
<path d="M135 437.1h0M135 444.4h0M135 454.3h0" stroke="#2b2b2b" stroke-width="3.8" stroke-linecap="round" fill="none"/>
<path d="M167.6 466.6V478.2M167.6 486.4V488.5" stroke="#2b2b2b" stroke-width="1.25" fill="none"/>
<rect x="155.05" y="478.2" width="25.1" height="8.2" fill="#dc3220" stroke="#2b2b2b" stroke-width="1.15"/>
<path d="M155.05 482.6H180.15" stroke="#2b2b2b" stroke-width="1.4"/>
<path d="M167.6 443.2h0M167.6 449.6h0M167.6 453.4h0M167.6 457.5h0M167.6 461.6h0" stroke="#2b2b2b" stroke-width="3.8" stroke-linecap="round" fill="none"/>
<text x="0" y="0" font-size="10" text-anchor="end" transform="translate(72.1 506.3) rotate(-45)">Low(0−5)</text>
<text x="0" y="0" font-size="10" text-anchor="end" transform="translate(104.3 506.3) rotate(-45)">Mid(5−15)</text>
<text x="0" y="0" font-size="10" text-anchor="end" transform="translate(137 506.3) rotate(-45)">High(15−30)</text>
<text x="0" y="0" font-size="10" text-anchor="end" transform="translate(169.6 506.3) rotate(-45)">Very high(&gt;30)</text>
<path d="M250.1 406.2L250.1 347.2A59 59 0 0 1 267.22 349.74Z" fill="#dc3220" stroke="#fff" stroke-width="1.5" stroke-linejoin="round"/>
<path d="M250.1 406.2L267.22 349.74A59 59 0 0 1 285.88 359.28Z" fill="#dd5516" stroke="#fff" stroke-width="1.5" stroke-linejoin="round"/>
<path d="M250.1 406.2L285.88 359.28A59 59 0 0 1 308.96 410.33Z" fill="#fbb37c" stroke="#fff" stroke-width="1.5" stroke-linejoin="round"/>
<path d="M250.1 406.2L308.96 410.33A59 59 0 1 1 250.1 347.2Z" fill="#4a66b8" stroke="#fff" stroke-width="1.5" stroke-linejoin="round"/>
<path d="M265.7 341.5L258.3 348.5M287.9 349.9L277.6 354.6" stroke="#111" stroke-width="1.3" fill="none"/>
<text x="280.4" y="339.5" font-size="7.6" text-anchor="middle" stroke="#000" stroke-width="0.15">Very high(&gt;30)</text>
<text x="273.4" y="347.5" font-size="7.6" text-anchor="middle" stroke="#000" stroke-width="0.15">61</text>
<text x="309" y="351" font-size="7.6" text-anchor="middle" stroke="#000" stroke-width="0.15">High(15−30)</text>
<text x="305" y="359.4" font-size="7.6" text-anchor="middle" stroke="#000" stroke-width="0.15">74</text>
<text x="284.9" y="392.6" font-size="7.6" text-anchor="middle" stroke="#000" stroke-width="0.15">Mid(5−15)</text>
<text x="282.8" y="401.5" font-size="7.6" text-anchor="middle" stroke="#000" stroke-width="0.15">205</text>
<text x="231.9" y="418.7" font-size="7.6" text-anchor="middle" stroke="#000" stroke-width="0.15">Low(0−5)</text>
<text x="228.4" y="428.1" font-size="7.6" text-anchor="middle" stroke="#000" stroke-width="0.15">962</text>
</g>
<g id="panelD">
<text x="545.2" y="294" font-size="12.5" text-anchor="middle"><tspan font-style="italic">al7m</tspan> down-regulated genes</text>
<text x="544.5" y="308.7" font-size="12.5" text-anchor="middle">n=447</text>
<path d="M407.4 311.8V497H550.4" fill="none" stroke="#111" stroke-width="1.35"/>
<text x="402.8" y="336.1" font-size="9" text-anchor="end">−2</text>
<text x="402.8" y="386.9" font-size="9" text-anchor="end">−4</text>
<text x="402.8" y="437.7" font-size="9" text-anchor="end">−6</text>
<text x="402.8" y="488.5" font-size="9" text-anchor="end">−8</text>
<path d="M407.4 333h-3.6M407.4 383.8h-3.6M407.4 434.6h-3.6M407.4 485.4h-3.6M427.9 497v3.4M461.9 497v3.4M495.9 497v3.4M529.7 497v3.4" stroke="#111" stroke-width="1.1" fill="none"/>
<text x="0" y="0" font-size="12.3" text-anchor="middle" transform="translate(388.5 406) rotate(-90)">log2FoldChange</text>
<path d="M427.9 320.7V327.5M427.9 364.1V418.3" stroke="#2b2b2b" stroke-width="1.25" fill="none"/>
<rect x="415.3" y="327.5" width="25.2" height="36.6" fill="#4a66b8" stroke="#2b2b2b" stroke-width="1.15"/>
<path d="M415.3 336.5H440.5" stroke="#2b2b2b" stroke-width="1.4"/>
<path d="M427.9 425.4h0M427.9 432.1h0M427.9 439h0M427.9 440.2h0M427.9 452.7h0M427.9 460.1h0" stroke="#2b2b2b" stroke-width="3.8" stroke-linecap="round" fill="none"/>
<path d="M461.9 320.7V326.5M461.9 349V382.4" stroke="#2b2b2b" stroke-width="1.25" fill="none"/>
<rect x="449.3" y="326.5" width="25.2" height="22.5" fill="#fbb37c" stroke="#2b2b2b" stroke-width="1.15"/>
<path d="M449.3 332H474.5" stroke="#2b2b2b" stroke-width="1.4"/>
<path d="M461.9 383.5h0M461.9 385h0M461.9 386.5h0M461.9 388h0M461.9 389h0M461.9 432.1h0M461.9 443.5h0M461.9 444.8h0M461.9 466.5h0" stroke="#2b2b2b" stroke-width="3.8" stroke-linecap="round" fill="none"/>
<path d="M495.9 320.7V324.6M495.9 350.3V382.4" stroke="#2b2b2b" stroke-width="1.25" fill="none"/>
<rect x="483.3" y="324.6" width="25.2" height="25.7" fill="#dd5516" stroke="#2b2b2b" stroke-width="1.15"/>
<path d="M483.3 333H508.5" stroke="#2b2b2b" stroke-width="1.4"/>
<path d="M495.9 394.3h0M495.9 399.5h0M495.9 432.8h0M495.9 448.2h0M495.9 489h0" stroke="#2b2b2b" stroke-width="3.8" stroke-linecap="round" fill="none"/>
<path d="M529.7 320.7V326.5M529.7 343.5V364.7" stroke="#2b2b2b" stroke-width="1.25" fill="none"/>
<rect x="517.1" y="326.5" width="25.2" height="17" fill="#dc3220" stroke="#2b2b2b" stroke-width="1.15"/>
<path d="M517.1 333.6H542.3" stroke="#2b2b2b" stroke-width="1.4"/>
<path d="M529.7 379.5h0M529.7 381h0M529.7 382.5h0M529.7 384h0M529.7 385.5h0M529.7 387h0M529.7 396.2h0M529.7 401.3h0M529.7 407.1h0M529.7 421.2h0M529.7 451.4h0" stroke="#2b2b2b" stroke-width="3.8" stroke-linecap="round" fill="none"/>
<text x="0" y="0" font-size="10" text-anchor="end" transform="translate(430.1 506.6) rotate(-45)">Low(0−5)</text>
<text x="0" y="0" font-size="10" text-anchor="end" transform="translate(462.2 506.6) rotate(-45)">Mid(5−15)</text>
<text x="0" y="0" font-size="10" text-anchor="end" transform="translate(497.8 506.6) rotate(-45)">High(15−30)</text>
<text x="0" y="0" font-size="10" text-anchor="end" transform="translate(531.7 506.6) rotate(-45)">Very high(&gt;30)</text>
<path d="M621.2 406.6L621.2 348.5A58.1 58.1 0 0 1 667.69 371.76Z" fill="#dc3220" stroke="#fff" stroke-width="1.5" stroke-linejoin="round"/>
<path d="M621.2 406.6L667.69 371.76A58.1 58.1 0 0 1 679 412.51Z" fill="#dd5516" stroke="#fff" stroke-width="1.5" stroke-linejoin="round"/>
<path d="M621.2 406.6L679 412.51A58.1 58.1 0 0 1 601.58 461.29Z" fill="#fbb37c" stroke="#fff" stroke-width="1.5" stroke-linejoin="round"/>
<path d="M621.2 406.6L601.58 461.29A58.1 58.1 0 0 1 621.2 348.5Z" fill="#4a66b8" stroke="#fff" stroke-width="1.5" stroke-linejoin="round"/>
<text x="624.3" y="370.7" font-size="7.6" stroke="#000" stroke-width="0.15">Very high</text>
<text x="624.3" y="379.5" font-size="7.6" stroke="#000" stroke-width="0.15">(&gt;30)</text>
<text x="631.5" y="388.6" font-size="7.6" text-anchor="middle" stroke="#000" stroke-width="0.15">66</text>
<text x="658.2" y="399.5" font-size="7.6" text-anchor="middle" stroke="#000" stroke-width="0.15">High(15−30)</text>
<text x="662.8" y="406.7" font-size="7.6" text-anchor="middle" stroke="#000" stroke-width="0.15">53</text>
<text x="638.7" y="439" font-size="7.6" text-anchor="middle" stroke="#000" stroke-width="0.15">Mid(5−15)</text>
<text x="636.6" y="446.5" font-size="7.6" text-anchor="middle" stroke="#000" stroke-width="0.15">129</text>
<text x="593.4" y="401.6" font-size="7.6" text-anchor="middle" stroke="#000" stroke-width="0.15">Low(0−5)</text>
<text x="590.7" y="410.8" font-size="7.6" text-anchor="middle" stroke="#000" stroke-width="0.15">199</text>
</g>
<g id="panelE">
<text x="109.8" y="580.3" font-size="12.5" fill="#ea8a2e">up-regulated genes (n=1302)</text>
<text x="312.3" y="580.3" font-size="12.5" fill="#6aa84f">down-regulated genes (n=447)</text>
<text x="526.4" y="580.3" font-size="12.5" fill="#3f3c7c">PCGs</text>
<text x="0" y="0" font-size="12.5" text-anchor="middle" transform="translate(30.3 668) rotate(-90)">ChIP enrichment</text>
<text x="103.8" y="605.6" font-size="12.5" text-anchor="middle">H3K4me3</text>
<clipPath id="ce0"><rect x="49.9" y="613" width="108.5" height="104"/></clipPath>
<g clip-path="url(#ce0)" fill="none" stroke-width="2.25" stroke-linejoin="round" stroke-linecap="round">
<path d="M48.9 699.94C49.63 699.63 51.98 698.58 53.28 698.04C54.58 697.51 55.75 696.72 56.7 696.72C57.65 696.72 58.22 697.19 58.98 698.04C59.74 698.9 60.56 701.36 61.26 701.84C61.95 702.31 62.43 706.43 63.15 700.89C63.88 695.36 64.73 679.7 65.62 668.63C66.51 657.56 67.68 642.22 68.47 634.47C69.26 626.72 69.73 624.91 70.36 622.13C71 619.35 71.47 617.92 72.26 617.77C73.05 617.61 74.16 619.03 75.11 621.18C76.06 623.33 76.85 626.56 77.96 630.67C79.06 634.78 80.49 641.11 81.75 645.85C83.02 650.6 84.28 655.03 85.55 659.14C86.81 663.25 87.76 666.57 89.34 670.53C90.92 674.48 93.14 679.54 95.04 682.86C96.93 686.18 98.52 688.08 100.73 690.45C102.94 692.82 105.79 695.2 108.32 697.09C110.85 698.99 113.38 700.42 115.91 701.84C118.44 703.26 120.97 704.53 123.5 705.64C126.03 706.74 128.56 707.69 131.09 708.48C133.63 709.27 136.63 710 138.69 710.38C140.74 710.76 142.17 711.71 143.43 710.76C144.7 709.81 145.33 707.28 146.28 704.69C147.23 702.09 148.18 697.57 149.12 695.2C150.07 692.82 151.02 691.46 151.97 690.45C152.92 689.44 153.58 689.12 154.82 689.12C156.06 689.12 158.64 690.23 159.4 690.45" stroke="#3b3872"/>
<path d="M48.9 702.79C49.79 703.26 52.71 704.53 54.23 705.64C55.76 706.74 56.99 708.58 58.03 709.43C59.07 710.28 59.71 711.23 60.5 710.76C61.29 710.28 61.92 710.76 62.77 706.58C63.63 702.41 64.67 691.72 65.62 685.71C66.57 679.7 67.52 674.32 68.47 670.53C69.42 666.73 70.43 664.52 71.31 662.93C72.2 661.35 72.83 661.04 73.78 661.04C74.73 661.04 75.84 661.67 77.01 662.93C78.18 664.2 79.38 666.41 80.8 668.63C82.23 670.84 83.81 673.69 85.55 676.22C87.29 678.75 89.34 681.75 91.24 683.81C93.14 685.87 94.72 686.97 96.93 688.55C99.15 690.14 102 691.88 104.53 693.3C107.06 694.72 109.59 695.83 112.12 697.09C114.65 698.36 117.18 699.69 119.71 700.89C122.24 702.09 124.77 703.1 127.3 704.31C129.83 705.51 132.2 707 134.89 708.1C137.58 709.21 141.53 711.2 143.43 710.95C145.33 710.7 145.33 708.89 146.28 706.58C147.23 704.27 148.18 699.63 149.12 697.09C150.07 694.56 151.02 692.82 151.97 691.4C152.92 689.98 153.58 689.12 154.82 688.55C156.06 687.99 158.64 688.08 159.4 687.99" stroke="#ec8a2c"/>
<path d="M48.9 708.86C49.79 708.96 52.71 709.02 54.23 709.43C55.76 709.84 56.92 710.92 58.03 711.33C59.14 711.74 60.02 712.21 60.88 711.9C61.73 711.58 62.36 711.58 63.15 709.43C63.94 707.28 64.73 702 65.62 698.99C66.51 695.99 67.52 693.3 68.47 691.4C69.42 689.5 70.21 688.46 71.31 687.61C72.42 686.75 73.84 686.28 75.11 686.28C76.37 686.28 77.48 686.75 78.91 687.61C80.33 688.46 81.91 690.14 83.65 691.4C85.39 692.67 87.13 693.87 89.34 695.2C91.56 696.53 94.4 698.27 96.93 699.37C99.46 700.48 102 701.11 104.53 701.84C107.06 702.57 109.59 703.1 112.12 703.74C114.65 704.37 117.18 704.91 119.71 705.64C122.24 706.36 124.77 707.25 127.3 708.1C129.83 708.96 132.2 710 134.89 710.76C137.58 711.52 141.53 712.78 143.43 712.66C145.33 712.53 145.17 711.64 146.28 710C147.38 708.36 148.81 704.94 150.07 702.79C151.34 700.64 152.76 698.36 153.87 697.09C154.98 695.83 155.79 695.51 156.72 695.2C157.64 694.88 158.95 695.2 159.4 695.2" stroke="#7dcaa5"/>
</g>
<rect x="49.9" y="613" width="108.5" height="104" fill="none" stroke="#111" stroke-width="1.4"/>
<path d="M49.9 623.6h-2.3M49.9 635.64h-2.3M49.9 647.69h-2.3M49.9 659.73h-2.3M49.9 671.77h-2.3M49.9 683.81h-2.3M49.9 695.86h-2.3M49.9 707.9h-2.3M49.9 717v2.8M64.4 717v2.8M143.7 717v2.8M158.4 717v2.8" stroke="#111" stroke-width="1.1" fill="none"/>
<text x="47.3" y="626.3" font-size="7.5" text-anchor="end">16</text>
<text x="47.3" y="710.6" font-size="7.5" text-anchor="end">2</text>
<text x="227.6" y="605.6" font-size="12.5" text-anchor="middle">H3K27me3</text>
<clipPath id="ce1"><rect x="175.6" y="613" width="105.1" height="104"/></clipPath>
<g clip-path="url(#ce1)" fill="none" stroke-width="2.25" stroke-linejoin="round" stroke-linecap="round">
<path d="M174.6 693.3C175.33 694.25 177.62 696.94 178.98 698.99C180.34 701.05 181.67 703.96 182.77 705.64C183.88 707.31 184.83 709.21 185.62 709.05C186.41 708.89 186.73 708.26 187.52 704.69C188.31 701.11 189.42 692.03 190.36 687.61C191.31 683.18 192.1 680.81 193.21 678.12C194.32 675.43 195.58 673.06 197.01 671.47C198.43 669.89 200.01 669.23 201.75 668.63C203.49 668.03 205.23 667.87 207.45 667.87C209.66 667.87 212.51 668.34 215.04 668.63C217.57 668.91 220.1 669.2 222.63 669.58C225.16 669.96 227.69 670.37 230.22 670.91C232.75 671.44 235.28 671.98 237.81 672.8C240.34 673.63 243.19 674.64 245.4 675.84C247.62 677.04 249.2 678.05 251.09 680.01C252.99 681.98 255.05 684.76 256.79 687.61C258.53 690.45 260.11 694.25 261.53 697.09C262.96 699.94 264.22 702.85 265.33 704.69C266.44 706.52 267.23 707.94 268.18 708.1C269.12 708.26 269.91 706.68 271.02 705.64C272.13 704.59 273.55 702.95 274.82 701.84C276.08 700.73 277.47 699.72 278.61 698.99C279.76 698.27 281.19 697.73 281.7 697.47" stroke="#3b3872"/>
<polyline points="174.6,701.77 174.9,702.3 175.29,702.51 175.76,702.98 176.28,703.37 176.83,704.16 177.4,705.13 177.96,705.55 178.49,706.31 178.98,706.65 179.49,707.31 179.99,707.91 180.49,708.08 180.97,709.42 181.45,709.96 181.91,710.54 182.35,710.46 182.77,710.86 183.57,711.75 184.32,712.33 185,712.68 185.62,712.26 185.9,712.15 186.14,711.59 186.36,711.55 186.57,711.14 186.78,710.22 187,709.96 187.24,708.4 187.52,706.91 187.59,705.97 187.66,705.45 187.73,705.04 187.8,704.56 187.88,704.19 187.95,703.49 188.03,702.68 188.1,701.9 188.18,701.35 188.26,701.14 188.34,699.89 188.42,699.45 188.51,698.76 188.59,697.5 188.67,697.15 188.76,696.72 188.84,695.05 188.92,694.72 189.01,693.98 189.1,693 189.18,692.55 189.27,691.6 189.35,690.43 189.44,690.25 189.52,689.42 189.61,688.71 189.7,688.06 189.78,687.01 189.87,686.18 189.95,685.05 190.03,684.84 190.12,683.79 190.2,683.13 190.28,682.23 190.36,681.65 190.46,681.01 190.55,680.74 190.65,679.09 190.74,678.49 190.83,678.2 190.92,677.78 191.01,676.8 191.1,675.39 191.19,674.48 191.28,674.52 191.37,673.5 191.46,672.67 191.55,672.51 191.64,671.83 191.73,670.86 191.82,670.18 191.91,669.54 192,669.16 192.1,668.21 192.19,667.5 192.29,666.84 192.38,665.6 192.48,665.72 192.58,664.98 192.68,664.23 192.78,662.93 192.89,662.67 192.99,662.45 193.1,661.14 193.21,660.99 193.37,660.48 193.54,659.03 193.7,659.01 193.88,657.92 194.05,656.94 194.23,656.3 194.41,655.62 194.59,654.74 194.77,654.28 194.96,653.08 195.14,652.45 195.33,652.17 195.52,651.24 195.71,650.36 195.9,650.24 196.08,649.79 196.27,648.7 196.46,647.91 196.64,647.72 196.83,647.23 197.01,646.72 197.48,646.11 197.96,644.58 198.43,644.5 198.91,643.26 199.38,642.93 199.85,642.93 200.33,642.71 200.8,642.29 201.55,641.68 202.28,641.33 203.01,641.18 203.78,641.25 204.6,641.06 205.22,641.27 205.86,641.54 206.52,641.63 207.19,642.1 207.89,642.3 208.61,642.88 209.34,642.53 210.01,642.31 210.7,642.22 211.41,642.17 212.13,642.25 212.86,641.74 213.59,641.81 214.32,642.14 215.04,640.99 215.75,641.52 216.46,642.12 217.17,642.45 217.88,642.74 218.59,642.91 219.31,643.55 220.02,643.76 220.73,643.82 221.44,644.82 222.15,644.43 222.86,644.33 223.58,644.59 224.29,644.71 225,644.94 225.71,644.44 226.42,645.34 227.06,646.09 227.69,645.91 228.32,646.68 228.95,647.45 229.59,647.92 230.22,648.58 230.85,648.15 231.48,648.89 232.12,649.18 232.83,649.63 233.54,649.84 234.25,648.83 234.96,649.81 235.68,649.09 236.39,649.65 237.1,649.1 237.81,649.7 238.44,650.17 239.08,650.04 239.71,650.4 240.34,650.86 240.97,651 241.61,651.29 242.24,652.1 242.87,652.37 243.5,652.42 244.08,653.63 244.67,653 245.27,654 245.87,654.14 246.47,654.73 247.06,655.37 247.63,655.75 248.18,656.37 248.7,656.31 249.2,656.83 249.7,657.98 250.17,658.11 250.6,658.65 251.01,659.1 251.41,660.43 251.8,660.92 252.19,661.79 252.58,661.88 252.99,662.93 253.26,663.18 253.53,664.26 253.81,665.08 254.08,665.02 254.35,666.31 254.62,666.8 254.89,667.16 255.16,667.36 255.43,668.98 255.7,669.3 255.97,669.91 256.25,670.94 256.52,671.73 256.79,672.83 256.99,672.76 257.19,673.97 257.39,674.71 257.59,675.36 257.79,675.6 257.99,676.14 258.19,677.31 258.39,677.78 258.59,678.5 258.79,679.58 258.99,679.85 259.19,680.03 259.39,681.28 259.59,681.61 259.78,683.07 259.98,683.66 260.18,684.13 260.38,685 260.58,685.93 260.78,686.44 260.99,687.5 261.19,687.87 261.4,688.92 261.61,689.8 261.81,690.6 262.02,690.75 262.23,691.93 262.44,691.94 262.64,692.91 262.85,693.4 263.05,694.94 263.25,695.03 263.45,696.04 263.64,696.64 263.83,697.31 264.02,697.75 264.2,698.54 264.38,699.48 264.74,700.01 265.08,701.04 265.4,701.97 265.71,702.35 266.01,702.69 266.31,703.41 266.61,704.3 266.92,703.94 267.23,704.52 267.92,705.25 268.59,705.02 269.29,704.33 270.07,703.95 270.57,703.38 271.09,702.53 271.63,701.86 272.19,701.51 272.76,701.32 273.32,700.33 273.87,699.7 274.41,699.23 274.95,698.51 275.48,698.4 276.02,697.63 276.56,697.59 277.11,696.44 277.66,696.8 278.37,696.17 279.14,695.5 279.92,695.95 280.64,695.45 281.26,694.74 281.7,694.96" stroke="#ec8a2c"/>
<polyline points="174.6,684.1 175.09,683.52 175.79,684.93 176.61,685.14 177.47,685.38 178.29,685.47 178.98,687.03 179.36,686.84 179.71,687.2 180.04,685.33 180.35,688.97 180.64,690.09 180.93,689.21 181.22,689.73 181.52,692.75 181.82,689.66 182.3,692.72 182.77,695.56 183.25,693.09 183.72,695.39 184.2,697 184.67,695.08 184.99,695.7 185.3,696.05 185.62,694.23 185.94,694.9 186.25,694.93 186.57,694.82 186.89,692.96 187.2,691.33 187.52,688.5 187.57,688.72 187.63,689.51 187.69,688.25 187.74,686.8 187.8,686.29 187.85,689.21 187.91,687.13 187.96,686.03 188.02,682.22 188.08,684.77 188.13,683.97 188.19,684.49 188.24,682.56 188.3,681.37 188.36,681.23 188.41,678.06 188.47,680.26 188.52,678.81 188.58,677.02 188.63,678.25 188.69,677.95 188.75,673.98 188.8,673.9 188.86,674.05 188.91,673.13 188.97,671.74 189.03,670.35 189.08,672.6 189.14,670.71 189.19,667.68 189.25,666.71 189.3,668.91 189.36,667.39 189.42,667.41 189.47,665.6 189.53,663.14 189.58,663.47 189.64,660.29 189.7,660.92 189.75,660.84 189.81,660.66 189.86,658.68 189.92,658.55 189.97,658.42 190.03,657.64 190.09,657.21 190.14,656.12 190.2,654.95 190.25,655.42 190.31,654.08 190.36,652.63 190.45,651.91 190.54,651.63 190.63,650.63 190.71,650.02 190.8,649 190.89,648.32 190.97,647.18 191.05,645.24 191.14,646.09 191.22,645.91 191.31,644.51 191.39,643.12 191.47,642.99 191.56,640.84 191.64,639.18 191.73,640.4 191.81,638.71 191.9,639.67 191.99,637.18 192.07,634.98 192.16,635.9 192.25,637.85 192.34,635.29 192.43,633.7 192.53,633.7 192.62,634.39 192.71,633.79 192.81,632.92 192.91,633.67 193.01,632.38 193.11,631.15 193.21,631.26 193.47,631.17 193.74,629.48 194.02,628.63 194.31,625.74 194.6,625.94 194.9,626.17 195.2,624.58 195.5,625.41 195.81,624.46 196.11,624.32 196.41,622.78 196.71,625.08 197.01,623.36 197.63,621.06 198.24,620.67 198.85,622.62 199.47,619.33 200.12,620.28 200.8,620.26 201.43,619.31 202.09,618.33 202.77,619.95 203.46,620.48 204.16,621.62 204.86,621.64 205.55,621.21 206.23,622.35 206.9,622.43 207.58,622.5 208.26,622.72 208.94,622.71 209.61,623.79 210.29,622.04 210.88,622.22 211.46,622.43 212.03,620.42 212.6,620.81 213.19,618.62 213.78,619.36 214.4,620.13 215.04,619.85 215.71,619.14 216.42,619.03 217.14,618.02 217.88,621.45 218.62,620.39 219.35,621.17 220.06,619.35 220.73,620.05 221.44,618.27 222.1,620.53 222.73,620.3 223.36,617.09 224.01,618.56 224.71,619.01 225.47,616.59 226.07,616.62 226.7,617.55 227.36,618.22 228.04,617.74 228.74,619.49 229.44,620.06 230.13,620.81 230.82,621.23 231.48,622.36 232.12,622.34 232.79,620.2 233.45,621.31 234.08,621.08 234.71,621.38 235.33,622.68 235.95,623.09 236.56,623.88 237.18,622.14 237.81,622.8 238.44,624.31 239.08,624.43 239.71,624.6 240.34,625.13 240.97,624.73 241.61,626.48 242.24,626.47 242.87,626.39 243.5,626.21 244.08,627.09 244.67,624.98 245.27,627.13 245.87,628.58 246.47,627.52 247.06,629.69 247.63,630.14 248.18,629.16 248.7,630.81 249.2,631.31 249.65,632.63 250.08,633.33 250.48,633.23 250.85,632.98 251.21,634.27 251.57,634.97 251.91,636.45 252.26,636.77 252.62,636.61 252.99,636.92 253.19,638.43 253.39,638.63 253.59,638.85 253.79,640.44 253.99,640.7 254.19,641.94 254.39,643.02 254.59,642.78 254.79,646.2 254.99,644.3 255.19,646.44 255.39,646.21 255.59,647.95 255.79,645.26 255.99,647.64 256.19,649.41 256.39,650.55 256.59,653.06 256.79,651.87 256.95,653.46 257.1,653.6 257.26,654.45 257.42,654.7 257.58,654.74 257.74,656.1 257.9,655.24 258.05,658.2 258.21,656.75 258.37,658.74 258.53,661.33 258.69,659.75 258.84,660.73 259,662.6 259.16,662.22 259.32,662.13 259.48,663.93 259.64,664.98 259.79,665.83 259.95,665.08 260.11,668.29 260.27,668.91 260.43,667.97 260.58,668.89 260.76,668.94 260.93,671.51 261.11,670.17 261.29,672.29 261.47,671.9 261.64,672.45 261.82,674.61 262,675.97 262.18,675.39 262.36,675.47 262.54,677.67 262.72,677.54 262.89,678.61 263.07,680.51 263.24,680.8 263.41,679.82 263.58,683.24 263.75,681.6 263.91,682.97 264.07,682.12 264.23,683.25 264.38,682.08 264.7,686.62 265.01,687.14 265.3,685.44 265.59,685.91 265.86,686.48 266.13,689.85 266.4,688.76 266.67,689.63 266.95,689.79 267.23,690.33 267.92,689.91 268.59,691.07 269.29,689.38 270.07,690.38 270.65,690.45 271.27,690.18 271.91,688.98 272.57,687.77 273.23,688.27 273.87,687.13 274.5,688.66 275.12,687.35 275.75,685.95 276.38,685.1 277.02,684.43 277.66,683.83 278.52,684.08 279.45,684.49 280.36,684.54 281.15,684.47 281.7,685.89" stroke="#7dcaa5"/>
</g>
<rect x="175.6" y="613" width="105.1" height="104" fill="none" stroke="#111" stroke-width="1.4"/>
<path d="M175.6 620.4h-2.3M175.6 633.96h-2.3M175.6 647.51h-2.3M175.6 661.07h-2.3M175.6 674.63h-2.3M175.6 688.19h-2.3M175.6 701.74h-2.3M175.6 715.3h-2.3M175.6 717v2.8M189.4 717v2.8M265.5 717v2.8M280.7 717v2.8" stroke="#111" stroke-width="1.1" fill="none"/>
<text x="173" y="623.1" font-size="7.5" text-anchor="end">2.75</text>
<text x="173" y="718" font-size="7.5" text-anchor="end">1.00</text>
<text x="351" y="605.6" font-size="12.5" text-anchor="middle">H2A.Z</text>
<clipPath id="ce2"><rect x="300.6" y="613" width="104.7" height="104"/></clipPath>
<g clip-path="url(#ce2)" fill="none" stroke-width="2.25" stroke-linejoin="round" stroke-linecap="round">
<path d="M299.6 696.15C300.33 696.15 302.77 695.67 303.98 696.15C305.18 696.62 306.03 698.2 306.82 698.99C307.62 699.78 307.93 702.47 308.72 700.89C309.51 699.31 310.62 695.83 311.57 689.5C312.52 683.18 313.47 670.53 314.42 662.93C315.36 655.34 316.31 648.38 317.26 643.96C318.21 639.53 319.16 638.01 320.11 636.36C321.06 634.72 322.01 634.09 322.96 634.09C323.91 634.09 324.7 634.72 325.8 636.36C326.91 638.01 328.18 640.79 329.6 643.96C331.02 647.12 332.6 651.55 334.34 655.34C336.08 659.14 338.14 663.41 340.04 666.73C341.93 670.05 343.83 672.9 345.73 675.27C347.63 677.64 349.53 679.38 351.42 680.96C353.32 682.55 355.22 683.65 357.12 684.76C359.01 685.87 360.91 686.82 362.81 687.61C364.71 688.4 366.61 688.81 368.5 689.5C370.4 690.2 372.3 690.83 374.2 691.78C376.09 692.73 377.99 693.52 379.89 695.2C381.79 696.87 384 699.94 385.58 701.84C387.17 703.74 388.27 705.32 389.38 706.58C390.49 707.85 391.28 709.75 392.23 709.43C393.18 709.11 393.97 706.74 395.07 704.69C396.18 702.63 397.6 699.47 398.87 697.09C400.13 694.72 401.43 692.03 402.66 690.45C403.9 688.87 405.69 688.08 406.3 687.61" stroke="#3b3872"/>
<polyline points="299.6,702.71 299.86,703.13 300.2,703.89 300.61,703.9 301.06,704.64 301.55,705.36 302.06,706.02 302.57,706.71 303.07,707.29 303.54,707.97 303.98,708.49 304.49,709.27 304.99,709.74 305.49,710.65 305.97,711.51 306.45,712.07 306.91,712.61 307.35,713.16 307.77,713.15 308.23,713.31 308.66,713.28 309.06,713.04 309.45,712.6 309.83,711.69 310.22,710.23 310.62,708.48 310.7,708.11 310.77,707.55 310.85,707.12 310.92,706.72 311,706.01 311.07,705.64 311.14,705.21 311.22,704.36 311.29,703.83 311.37,703.18 311.44,702.73 311.52,701.93 311.59,701.33 311.67,700.46 311.74,699.84 311.82,699.13 311.89,698.2 311.97,697.83 312.04,697.02 312.12,695.96 312.19,695.48 312.27,694.61 312.34,693.89 312.42,693.1 312.49,692.1 312.57,691.44 312.64,690.84 312.72,689.8 312.79,688.95 312.87,688.11 312.94,687.32 313.02,686.69 313.09,686.05 313.17,685.11 313.24,684.29 313.32,683.73 313.39,682.63 313.47,681.84 313.53,681.33 313.59,680.67 313.65,679.83 313.71,679.14 313.78,678.61 313.84,677.91 313.9,677.04 313.96,676.45 314.02,675.69 314.09,675.08 314.15,674.29 314.21,673.56 314.27,672.79 314.33,672.2 314.4,671.49 314.46,670.55 314.52,669.93 314.58,669 314.64,668.33 314.7,667.66 314.77,666.99 314.83,666.02 314.89,665.3 314.95,664.58 315.01,663.64 315.08,663.06 315.14,662.24 315.2,661.62 315.26,660.72 315.32,659.89 315.39,659.39 315.45,658.7 315.51,657.9 315.57,657.36 315.63,656.54 315.7,655.82 315.76,655.26 315.82,654.37 315.88,653.81 315.94,653.24 316,652.71 316.07,651.97 316.13,651.42 316.19,650.72 316.25,650.25 316.31,649.84 316.42,648.64 316.52,648.07 316.63,646.84 316.74,646.05 316.84,645.22 316.95,644.49 317.05,643.43 317.16,642.55 317.26,642.09 317.37,641.37 317.47,640.62 317.58,640.13 317.68,639.16 317.79,638.49 317.9,637.9 318,637.18 318.11,636.69 318.21,635.73 318.32,635.22 318.42,634.27 318.53,634.15 318.63,633.43 318.74,633 318.84,632.57 318.95,631.77 319.06,631.19 319.16,630.62 319.35,629.62 319.54,628.72 319.73,627.98 319.92,627.07 320.11,626.27 320.3,625.48 320.49,624.87 320.68,624.14 320.87,623.41 321.06,622.88 321.25,622.21 321.44,621.54 321.63,621.32 321.82,620.73 322.01,620.13 322.58,619.29 323.15,618.52 323.72,617.91 324.28,618.06 324.85,617.8 325.52,617.82 326.16,617.92 326.86,618.37 327.7,619.11 328.03,619.8 328.37,620.17 328.73,620.66 329.11,621.3 329.5,621.88 329.9,622.6 330.31,623.16 330.72,623.91 331.15,624.39 331.58,625.33 332.01,626.2 332.45,627.03 332.78,627.41 333.11,628.04 333.45,628.86 333.8,629.29 334.15,630.07 334.51,630.85 334.87,631.35 335.23,632.17 335.6,632.65 335.96,633.44 336.33,634.09 336.69,634.78 337.06,635.56 337.42,636.35 337.78,636.63 338.14,637.25 338.55,638.04 338.95,638.52 339.36,639.34 339.77,639.98 340.17,640.51 340.58,641.22 340.99,641.59 341.39,642.45 341.8,642.78 342.21,643.46 342.61,644.06 343.02,644.66 343.43,645.37 343.83,645.86 344.27,646.43 344.71,647.16 345.15,647.91 345.58,648.35 346.02,649.01 346.46,649.72 346.9,650.22 347.34,650.63 347.77,651.63 348.21,652.16 348.65,652.22 349.09,652.95 349.53,653.49 350.09,654.16 350.66,654.7 351.23,655.14 351.8,655.57 352.37,656.18 352.94,656.75 353.51,656.94 354.08,657.35 354.65,657.84 355.22,657.97 355.93,658.53 356.64,658.79 357.35,659.12 358.07,659.18 358.78,659.33 359.49,659.57 360.2,659.82 360.91,660.01 361.55,660.36 362.18,660.74 362.81,661.1 363.44,661.48 364.08,661.53 364.71,661.9 365.34,662 365.97,662.83 366.61,662.85 367.24,663.24 367.87,663.59 368.5,663.66 369.14,664.15 369.77,664.38 370.4,664.49 371.03,665.05 371.67,665.52 372.3,665.57 372.88,666.26 373.47,666.6 374.07,667.06 374.67,667.5 375.26,668.06 375.85,668.37 376.42,669 376.98,669.38 377.5,670.05 377.99,670.43 378.45,671.09 378.87,671.9 379.27,672.37 379.65,672.94 380.01,673.48 380.36,674.19 380.71,675 381.06,675.79 381.42,676.47 381.79,677.23 382.08,677.75 382.37,678.5 382.66,678.91 382.96,679.5 383.25,680.28 383.54,680.83 383.83,681.44 384.12,682.06 384.42,682.78 384.71,683.57 385,684.26 385.29,684.82 385.58,685.76 385.81,686.33 386.04,686.83 386.27,687.68 386.5,688.24 386.73,688.93 386.96,689.76 387.19,690.53 387.43,691.02 387.66,691.87 387.88,692.44 388.11,693.5 388.33,693.88 388.55,694.75 388.77,695.2 388.98,696 389.18,696.77 389.38,696.81 389.68,697.9 389.97,698.85 390.25,699.61 390.52,700.34 390.79,701.42 391.05,701.91 391.3,702.39 391.54,703.29 391.78,703.57 392.01,704.39 392.23,704.62 392.89,705.79 393.46,706.27 394.12,705.65 394.37,705.13 394.62,704.62 394.88,704.36 395.15,703.65 395.43,702.76 395.72,702.18 396.02,701.35 396.33,700.58 396.64,699.48 396.97,698.96 397.25,698.49 397.53,697.83 397.81,697.19 398.1,696.15 398.4,695.77 398.7,695.13 399.01,694.7 399.34,693.65 399.67,693.08 400.02,692.52 400.39,692.04 400.77,691.35 401.27,690.92 401.85,690.11 402.47,689.65 403.12,689.01 403.77,688.57 404.4,688 404.99,687.46 405.52,687.38 405.96,686.96 406.3,686.59" stroke="#ec8a2c"/>
<polyline points="299.6,700.05 300.09,700.68 300.77,699.91 301.58,700.71 302.43,701.43 303.25,701.79 303.98,701.66 304.74,701.16 305.47,703.5 306.16,703.5 306.8,703.67 307.39,703.59 307.91,703.93 308.36,703.67 308.77,703.14 309.2,702.41 309.67,700.57 309.75,700.14 309.83,699.4 309.92,699.9 310,698.34 310.08,698.87 310.17,697.41 310.26,697.57 310.34,697.52 310.43,696.26 310.52,695.11 310.61,694.86 310.7,694.22 310.79,692.5 310.88,692.39 310.97,692.06 311.06,690.97 311.15,690.5 311.24,690.07 311.33,689.3 311.43,688.58 311.52,687.6 311.61,686.31 311.7,685.63 311.79,684.66 311.88,683.81 311.98,683.04 312.07,681.37 312.16,681.28 312.25,680.61 312.34,679.26 312.43,678.94 312.52,678.4 312.58,677.4 312.65,677.97 312.72,674.78 312.78,675.4 312.85,673.84 312.92,674.66 312.98,674.85 313.05,671.34 313.11,672.03 313.18,671.5 313.25,670.31 313.31,670.01 313.38,667.74 313.45,668.64 313.51,667.61 313.58,666.64 313.64,665.54 313.71,665.42 313.78,664.03 313.84,663.63 313.91,662.46 313.97,660.74 314.04,661.16 314.11,660.52 314.17,660.05 314.24,658.41 314.31,658.11 314.37,657.72 314.44,656.72 314.5,656.59 314.57,656.28 314.64,654 314.7,652.76 314.77,653.58 314.84,653.28 314.9,652.3 314.97,651.61 315.03,650.22 315.1,649.57 315.17,649.85 315.23,648.32 315.3,647.29 315.36,647.21 315.51,647.99 315.66,646.64 315.81,644.26 315.96,643.32 316.11,642.99 316.26,641.66 316.41,642.03 316.56,640.57 316.71,639.36 316.86,640.02 317.01,638.4 317.16,638.26 317.31,637.58 317.46,636.88 317.61,636.7 317.76,635.64 317.91,634.5 318.06,633.79 318.21,633.78 318.49,633.1 318.77,632.63 319.04,631.87 319.3,631.4 319.58,630.5 319.85,629.39 320.13,628.88 320.43,627.6 320.74,628.18 321.06,628.09 321.64,627.48 322.25,626.63 322.9,626.25 323.55,626.61 324.21,625.98 324.85,626.33 325.46,626.27 326.05,626.18 326.63,626.99 327.24,626.32 327.91,626.94 328.65,627.39 329.03,627.8 329.42,629.54 329.83,630.18 330.26,629.82 330.7,630.72 331.15,631.69 331.61,632.15 332.07,633.03 332.53,632.35 332.99,633.33 333.45,634.54 333.9,635.65 334.34,635.47 334.86,635.55 335.38,636.41 335.9,636.83 336.41,637.28 336.93,639.1 337.45,638.48 337.97,639.34 338.48,640.98 339,640.91 339.52,640.89 340.04,640.78 340.67,641.79 341.32,642.86 341.97,642.71 342.62,643.41 343.26,643.1 343.9,643.6 344.53,643.46 345.14,644.01 345.73,644.66 346.58,643.29 347.38,643.96 348.16,643.97 348.93,643.4 349.69,643.55 350.47,644.38 351,645.37 351.51,645.07 352.02,645.43 352.53,645.01 353.05,647.5 353.57,647.13 354.1,647.66 354.65,647.63 355.22,648.67 355.81,648.51 356.42,649.52 357.05,650.08 357.68,650.17 358.33,650.6 358.98,650.28 359.63,651.79 360.27,650.93 360.91,650.57 361.62,651.72 362.34,651.65 363.05,651.74 363.76,652.3 364.47,652.86 365.18,652.29 365.89,653.09 366.61,654.22 367.24,654.08 367.89,653.9 368.54,654.32 369.19,654.48 369.83,654.82 370.47,655.56 371.1,655.46 371.71,654.59 372.3,656.28 372.87,656.24 373.42,657.52 373.95,657.3 374.47,658.19 374.99,659.8 375.5,658.61 376.01,659.15 376.52,659.61 377.04,659.74 377.44,660.54 377.83,662.29 378.23,662.3 378.63,662.21 379.02,663 379.42,664.75 379.81,664.63 380.21,665.51 380.6,666.57 381,667.84 381.39,668.9 381.79,669.19 382.07,669.27 382.35,669.88 382.64,671.36 382.92,671.78 383.21,671.47 383.5,672.54 383.79,673.11 384.08,673.65 384.36,674.04 384.65,674.29 384.93,675.41 385.21,675.58 385.48,677.79 385.75,678.13 386.02,677.91 386.28,680.04 386.53,680.5 386.76,679.64 386.98,682.35 387.2,682.48 387.41,683.87 387.62,682.81 387.83,684.49 388.04,685.16 388.25,685.78 388.45,686.5 388.65,687.71 388.85,687.07 389.04,687.93 389.23,688.57 389.42,689.72 389.61,690.39 389.79,691.59 389.97,692.2 390.15,692.7 390.33,692.93 390.56,693.88 390.79,695.44 391.02,696.15 391.24,696.59 391.45,697.14 391.66,698.92 391.87,698.49 392.07,699.87 392.27,700.81 392.46,700.67 392.65,701.83 392.83,701.31 393,702.93 393.18,702.9 393.84,703.09 394.41,704.52 395.07,703.26 395.42,704.07 395.79,702.49 396.18,702.11 396.58,701.61 397.01,700.47 397.45,699.96 397.92,698.69 398.26,698.76 398.61,697.74 398.96,697.16 399.33,694.85 399.71,696.24 400.09,694.91 400.49,693.23 400.89,693.58 401.3,693.16 401.72,692.93 402.28,691.13 402.91,691.95 403.58,690.47 404.24,691.33 404.88,689.5 405.46,689.54 405.94,688.63 406.3,687.95" stroke="#7dcaa5"/>
</g>
<rect x="300.6" y="613" width="104.7" height="104" fill="none" stroke="#111" stroke-width="1.4"/>
<path d="M300.6 620.4h-2.3M300.6 632.94h-2.3M300.6 645.49h-2.3M300.6 658.03h-2.3M300.6 670.57h-2.3M300.6 683.11h-2.3M300.6 695.66h-2.3M300.6 708.2h-2.3M300.6 717v2.8M315.5 717v2.8M390.4 717v2.8M405.3 717v2.8" stroke="#111" stroke-width="1.1" fill="none"/>
<text x="298" y="623.1" font-size="7.5" text-anchor="end">3.00</text>
<text x="298" y="710.9" font-size="7.5" text-anchor="end">1.25</text>
<text x="474.9" y="605.6" font-size="12.5" text-anchor="middle">H3K4me2</text>
<clipPath id="ce3"><rect x="421" y="613" width="109.5" height="104"/></clipPath>
<g clip-path="url(#ce3)" fill="none" stroke-width="2.25" stroke-linejoin="round" stroke-linecap="round">
<path d="M420 692.35C420.86 693.14 423.69 695.2 425.18 697.09C426.68 698.99 427.87 701.84 428.98 703.74C430.09 705.64 431.03 708.96 431.82 708.48C432.62 708.01 432.93 706.58 433.72 700.89C434.51 695.2 435.62 681.6 436.57 674.32C437.52 667.05 438.47 661.83 439.42 657.24C440.36 652.65 441.16 649.49 442.26 646.8C443.37 644.11 444.86 642.22 446.06 641.11C447.26 640 448.37 640.07 449.47 640.16C450.58 640.26 451.37 640.57 452.7 641.68C454.03 642.79 455.71 644.84 457.45 646.8C459.18 648.76 460.92 650.76 463.14 653.45C465.35 656.13 468.2 660.09 470.73 662.93C473.26 665.78 475.79 668.15 478.32 670.53C480.85 672.9 483.38 675.11 485.91 677.17C488.44 679.22 491.29 680.96 493.5 682.86C495.72 684.76 497.3 686.5 499.2 688.55C501.09 690.61 502.99 692.67 504.89 695.2C506.79 697.73 509 701.36 510.58 703.74C512.17 706.11 513.43 708.32 514.38 709.43C515.33 710.54 515.49 711.17 516.28 710.38C517.07 709.59 518.02 707.53 519.12 704.69C520.23 701.84 521.65 696.46 522.92 693.3C524.18 690.14 525.29 687.67 526.72 685.71C528.15 683.75 530.7 682.23 531.5 681.53" stroke="#3b3872"/>
<path d="M420 700.89C420.86 702 423.69 705.64 425.18 707.53C426.68 709.43 427.97 711.33 428.98 712.28C429.99 713.23 430.56 714.18 431.26 713.23C431.95 712.28 432.43 712.44 433.15 706.58C433.88 700.73 434.73 687.92 435.62 678.12C436.51 668.31 437.52 656.29 438.47 647.75C439.42 639.21 440.36 631.68 441.31 626.88C442.26 622.07 443.37 620.42 444.16 618.91C444.95 617.39 445.27 617.64 446.06 617.77C446.85 617.89 447.8 618.3 448.91 619.66C450.01 621.02 451.28 623.46 452.7 625.93C454.12 628.39 455.71 631.62 457.45 634.47C459.18 637.31 460.92 640.16 463.14 643.01C465.35 645.85 468.2 649.02 470.73 651.55C473.26 654.08 475.79 655.98 478.32 658.19C480.85 660.4 483.7 663.09 485.91 664.83C488.13 666.57 489.71 666.89 491.61 668.63C493.5 670.37 495.4 672.58 497.3 675.27C499.2 677.96 501.09 681.28 502.99 684.76C504.89 688.24 506.95 692.67 508.69 696.15C510.43 699.63 512.17 703.42 513.43 705.64C514.7 707.85 515.33 709.59 516.28 709.43C517.23 709.27 518.02 707.06 519.12 704.69C520.23 702.31 521.65 698.2 522.92 695.2C524.18 692.19 525.29 688.87 526.72 686.66C528.15 684.44 530.7 682.7 531.5 681.91" stroke="#ec8a2c"/>
<polyline points="420,704.78 420.36,705.02 420.83,705.42 421.39,705.76 422.02,706.08 422.69,706.46 423.37,707.05 424.02,707.53 424.64,707.98 425.18,708.53 425.81,709.05 426.4,709.55 426.96,710.15 427.49,710.65 428,711.17 428.5,711.64 428.98,711.98 429.78,712.33 430.52,712.64 431.2,712.94 431.82,712.29 432.03,712.05 432.21,711.47 432.39,711.21 432.54,710.82 432.7,710.2 432.85,709.69 433,709.1 433.16,708.3 433.33,707.36 433.52,705.97 433.72,704.56 433.79,704.25 433.86,703.78 433.93,703.16 434.01,702.45 434.08,702.03 434.15,701.39 434.23,700.71 434.31,699.94 434.39,699.3 434.47,698.62 434.55,697.76 434.63,696.89 434.71,696.31 434.79,695.54 434.88,694.71 434.96,693.99 435.04,693.06 435.13,692.3 435.21,691.47 435.3,690.74 435.39,690.03 435.47,689.06 435.56,688.48 435.64,687.64 435.73,686.8 435.81,686.02 435.9,685.38 435.98,684.48 436.07,683.77 436.15,683 436.24,682.47 436.32,681.9 436.41,681.21 436.49,680.61 436.57,680 436.72,679.05 436.87,677.98 437.02,677.3 437.17,676.32 437.32,675.44 437.47,674.68 437.62,673.92 437.77,673.35 437.92,672.68 438.07,671.79 438.22,671.35 438.37,670.73 438.52,669.99 438.67,669.33 438.82,668.82 438.97,668.28 439.12,667.82 439.27,667.23 439.42,666.55 439.7,665.8 439.99,664.78 440.27,664.22 440.55,663.32 440.84,662.72 441.12,662.1 441.41,661.57 441.69,661.21 441.98,660.66 442.26,660.14 442.74,659.35 443.23,658.52 443.71,658.05 444.19,657.56 444.66,657.12 445.11,656.91 445.93,656.32 446.71,656.14 447.58,656.2 448.15,656.27 448.74,656.74 449.37,657.16 450.05,657.54 450.8,658.1 451.21,658.36 451.64,659.1 452.08,659.73 452.55,660.22 453.02,660.88 453.51,661.56 454.01,662.16 454.51,662.64 455.03,663.39 455.55,663.95 456.02,664.27 456.5,664.89 456.98,665.33 457.47,665.98 457.96,666.58 458.47,666.96 458.99,667.39 459.53,668.21 460.08,668.63 460.65,669.23 461.24,669.46 461.81,670.1 462.4,670.61 463.01,671.01 463.63,671.21 464.27,671.65 464.92,671.99 465.57,672.48 466.23,672.87 466.89,673.17 467.54,673.42 468.19,674 468.83,674.28 469.46,674.78 470.1,675.15 470.73,675.68 471.36,676.04 472,676.31 472.63,676.78 473.26,677.31 473.89,677.51 474.53,677.99 475.16,678.44 475.79,678.82 476.42,679.11 477.06,679.3 477.69,679.66 478.32,680.13 478.95,680.49 479.59,681.01 480.22,681.03 480.85,681.52 481.48,681.8 482.12,681.88 482.75,682.24 483.38,682.61 484.01,682.82 484.71,683.12 485.42,683.42 486.14,683.54 486.85,683.87 487.57,683.97 488.28,684.18 488.99,684.48 489.67,684.59 490.34,684.88 490.99,685.22 491.61,685.33 492.32,685.63 493,686.01 493.64,686.22 494.27,686.67 494.87,686.79 495.47,687.32 496.07,687.61 496.68,688.01 497.3,688.71 497.82,688.89 498.33,689.56 498.85,689.91 499.37,690.45 499.89,690.73 500.4,691.44 500.92,692 501.44,692.41 501.96,692.99 502.48,693.84 502.99,694.26 503.4,694.74 503.81,695.28 504.23,695.96 504.65,696.57 505.06,697.18 505.48,697.96 505.9,698.43 506.31,699.15 506.72,699.89 507.13,700.31 507.53,701.13 507.92,701.81 508.31,702.11 508.69,702.69 509.16,703.39 509.63,704.01 510.1,704.91 510.56,705.38 511.01,706.25 511.46,706.97 511.89,707.3 512.3,707.98 512.7,708.36 513.07,709.08 513.43,709.36 514.28,710.35 514.97,711.04 515.61,711.41 516.28,711.3 516.74,711.07 517.19,710.58 517.64,710.03 518.1,709.18 518.59,708.46 519.12,707.36 519.41,706.99 519.7,706.65 520.01,705.89 520.32,705.14 520.64,704.61 520.96,703.83 521.29,703.08 521.62,702.48 521.95,701.93 522.28,701.23 522.6,700.54 522.92,699.86 523.29,699.12 523.66,698.61 524.03,697.78 524.39,696.95 524.76,696.13 525.13,695.51 525.5,695.21 525.89,694.27 526.3,693.8 526.72,693.32 527.39,692.65 528.15,692.1 528.95,691.54 529.73,691.18 530.45,691.1 531.06,690.61 531.5,690.53" stroke="#7dcaa5"/>
</g>
<rect x="421" y="613" width="109.5" height="104" fill="none" stroke="#111" stroke-width="1.4"/>
<path d="M421 624.3h-2.3M421 645.57h-2.3M421 666.85h-2.3M421 688.12h-2.3M421 709.4h-2.3M421 717v2.8M436.6 717v2.8M514.4 717v2.8M530.5 717v2.8" stroke="#111" stroke-width="1.1" fill="none"/>
<text x="418.4" y="627" font-size="7.5" text-anchor="end">10</text>
<text x="418.4" y="712.1" font-size="7.5" text-anchor="end">2</text>
<text x="605.4" y="605.6" font-size="12.5" text-anchor="middle">H3ac</text>
<clipPath id="ce4"><rect x="547.7" y="613" width="108.2" height="104"/></clipPath>
<g clip-path="url(#ce4)" fill="none" stroke-width="2.25" stroke-linejoin="round" stroke-linecap="round">
<path d="M546.7 694.25C547.6 694.41 550.55 694.41 552.08 695.2C553.61 695.99 554.77 697.89 555.88 698.99C556.98 700.1 557.93 702.79 558.72 701.84C559.51 700.89 559.83 699.15 560.62 693.3C561.41 687.45 562.52 674.32 563.47 666.73C564.42 659.14 565.43 652.65 566.31 647.75C567.2 642.85 567.93 639.59 568.78 637.31C569.64 635.04 570.58 634.25 571.44 634.09C572.29 633.93 572.86 634.72 573.91 636.36C574.95 638.01 576.28 640.79 577.7 643.96C579.12 647.12 580.71 651.55 582.45 655.34C584.18 659.14 586.24 663.57 588.14 666.73C590.04 669.89 591.93 672.11 593.83 674.32C595.73 676.54 597.31 678.12 599.53 680.01C601.74 681.91 604.59 684.13 607.12 685.71C609.65 687.29 612.18 688.24 614.71 689.5C617.24 690.77 619.77 691.88 622.3 693.3C624.83 694.72 627.68 696.46 629.89 698.04C632.1 699.63 633.84 701.62 635.58 702.79C637.32 703.96 639.06 705.22 640.33 705.07C641.59 704.91 642.07 704.12 643.18 701.84C644.28 699.56 645.71 693.93 646.97 691.4C648.24 688.87 649.11 687.61 650.77 686.66C652.42 685.71 655.88 685.87 656.9 685.71" stroke="#3b3872"/>
<polyline points="546.7,688.29 547.19,688.69 547.87,688.98 548.68,689.37 549.54,689.36 550.38,690.04 551.13,690.51 551.64,690.79 552.14,691.49 552.63,691.84 553.1,692.46 553.57,693.22 554.03,693.45 554.48,694.52 554.93,695.04 555.32,695.62 555.71,696.55 556.09,697.57 556.47,698.22 556.84,699.29 557.2,699.62 557.54,700.17 557.86,701 558.15,700.95 558.45,701.02 558.71,700.63 558.94,700.63 559.15,700.1 559.36,699.46 559.57,698.36 559.8,697.18 560.05,695.09 560.11,694.61 560.17,694.06 560.23,693.98 560.28,693.15 560.34,692.56 560.4,692 560.47,691.49 560.53,690.74 560.59,690.26 560.65,689.55 560.71,688.89 560.78,688.13 560.84,687.59 560.9,686.79 560.97,686.15 561.03,685.42 561.09,684.69 561.16,683.52 561.23,683.01 561.29,682.2 561.36,681.66 561.42,680.5 561.49,679.85 561.56,679.13 561.62,678.33 561.69,677.75 561.76,676.73 561.83,676.17 561.9,675.01 561.96,674.18 562.03,673.89 562.1,673 562.17,672.26 562.24,671.47 562.31,670.8 562.38,669.82 562.45,669.46 562.52,668.54 562.59,668.05 562.67,667.17 562.75,666.1 562.83,665.47 562.91,665.1 562.98,664.15 563.06,663.36 563.14,662.71 563.22,661.85 563.3,661.08 563.38,660.43 563.47,659.68 563.55,659.15 563.63,658.17 563.71,657.72 563.79,656.97 563.88,656.22 563.96,655.38 564.04,654.51 564.13,653.79 564.21,653.03 564.29,652.23 564.37,651.63 564.46,650.84 564.54,650.52 564.62,649.66 564.71,648.84 564.79,647.95 564.87,647.6 564.95,646.9 565.04,646.17 565.12,645.55 565.2,644.77 565.28,644.62 565.36,643.95 565.49,643.47 565.62,642.19 565.75,641.33 565.88,640.76 566.01,639.75 566.14,638.98 566.27,638.14 566.4,637.36 566.53,636.98 566.66,636.2 566.79,635.63 566.92,634.64 567.05,634.05 567.18,633.27 567.31,632.94 567.44,631.96 567.56,631.67 567.69,631.17 567.82,630.65 567.95,629.72 568.08,629.49 568.21,628.66 568.45,627.69 568.69,626.69 568.92,626.21 569.16,625.46 569.4,624.33 569.64,623.58 569.87,622.96 570.11,622.77 570.35,621.93 570.58,621.13 570.82,620.42 571.06,620.13 571.61,619.51 572.15,619.01 572.7,618.29 573.28,618 573.91,617.88 574.59,617.55 575.31,617.96 576.07,617.76 576.87,618.44 577.7,618.64 578.06,619.07 578.43,619.75 578.8,620.08 579.18,620.86 579.56,621.32 579.95,621.76 580.35,622.68 580.76,623.38 581.17,623.62 581.59,624.89 582.01,625.35 582.45,626.05 582.82,626.2 583.21,626.96 583.6,627.62 584,628.45 584.41,628.67 584.82,629.39 585.23,629.84 585.65,630.76 586.07,631.48 586.48,631.79 586.9,632.58 587.32,633.36 587.73,634.13 588.14,634.57 588.58,635.04 589.01,635.51 589.45,636.16 589.89,636.8 590.33,637.52 590.77,638.08 591.2,638.94 591.64,639.3 592.08,639.65 592.52,640.63 592.96,641.1 593.39,641.52 593.83,641.94 594.31,642.35 594.78,643.06 595.26,643.93 595.73,644.22 596.2,644.69 596.68,645.47 597.15,646.02 597.63,646.62 598.1,647.17 598.58,647.83 599.05,648.02 599.53,648.85 600,649.1 600.47,649.92 600.95,650.39 601.42,650.95 601.9,651.62 602.37,652.02 602.85,652.75 603.32,653.27 603.8,653.7 604.27,654.15 604.74,654.67 605.22,655.26 605.69,655.87 606.17,656.47 606.64,657.52 607.12,657.73 607.59,658.33 608.07,658.65 608.54,659.24 609.01,659.86 609.49,660.49 609.96,660.83 610.44,661.75 610.91,661.9 611.48,662.7 612.05,662.66 612.62,663.49 613.19,663.97 613.76,664.39 614.33,664.88 614.9,665.27 615.47,665.72 616.04,665.89 616.61,666.62 617.08,666.85 617.55,667.83 618.03,668.31 618.5,668.77 618.98,669.23 619.45,669.84 619.93,670.8 620.4,671.36 620.88,671.66 621.35,672.45 621.82,672.56 622.3,673.07 622.77,673.84 623.25,674.3 623.72,674.86 624.2,675.48 624.67,676.42 625.15,676.35 625.62,676.99 626.09,677.56 626.57,678.08 627.04,678.83 627.52,679.61 627.99,679.82 628.35,680.59 628.71,681.11 629.07,681.82 629.44,682.16 629.8,682.78 630.17,683.37 630.53,684.5 630.9,685.15 631.26,685.82 631.62,686.14 631.98,687.14 632.33,687.77 632.68,688.34 633.02,689.07 633.36,689.96 633.69,690.54 634.09,691.18 634.49,692.01 634.88,692.57 635.28,693.42 635.67,694.14 636.05,694.93 636.42,695.53 636.79,696.19 637.14,696.83 637.48,697.35 637.81,698.36 638.13,698.61 638.43,699.06 639.12,700.44 639.71,701.22 640.23,701.41 640.74,702.08 641.28,701.97 641.56,701.87 641.85,701.37 642.13,700.76 642.42,699.82 642.7,699.15 642.99,698.56 643.27,697.78 643.55,696.7 643.84,695.96 644.12,695.13 644.33,694.61 644.52,694.01 644.72,693.24 644.91,692.39 645.1,692.06 645.29,691.38 645.49,690.38 645.68,689.82 645.88,689 646.09,688.33 646.3,687.62 646.51,686.77 646.74,686.37 646.97,685.87 647.34,684.75 647.71,684.43 648.08,683.73 648.46,683.02 648.87,682.42 649.29,681.64 649.75,680.92 650.24,680.38 650.77,679.89 651.38,679.62 652.09,679.23 652.86,679.02 653.67,678.33 654.47,678.77 655.22,678.56 655.9,678.02 656.47,677.98 656.9,677.81" stroke="#ec8a2c"/>
<polyline points="546.7,708.57 547.12,708.64 547.68,708.98 548.35,709.12 549.09,709.84 549.87,710.2 550.65,710.72 551.4,710.73 552.08,711.34 552.81,711.71 553.55,712.27 554.28,712.12 554.98,712.93 555.65,713.37 556.27,713.4 556.82,713.11 557.47,712.94 557.98,712.76 558.43,712.59 558.85,712.06 559.29,710.33 559.44,709.7 559.58,709.48 559.72,708.84 559.86,707.85 560,707.22 560.13,706.7 560.27,706.2 560.41,704.84 560.54,704.11 560.68,703.8 560.82,702.45 560.96,702.07 561.11,701.36 561.26,700.44 561.41,699.4 561.57,698.97 561.73,698.16 561.9,697.63 562.07,696.5 562.24,696.33 562.42,694.68 562.6,694.38 562.78,693.66 562.96,693.19 563.14,691.94 563.32,691.56 563.51,690.5 563.69,690.22 563.87,689.88 564.06,688.59 564.24,688.27 564.42,687.31 564.81,686.86 565.2,686.06 565.59,684.97 565.98,683.99 566.38,683.94 566.81,683.69 567.26,683.2 567.84,682.63 568.46,681.41 569.1,681.46 569.76,681.87 570.41,680.81 571.06,681.32 571.82,681.26 572.58,680.62 573.34,680.5 574.09,679.9 574.85,679.63 575.46,680.1 576.05,680.27 576.63,680.59 577.24,681.18 577.91,681.35 578.65,681.97 579.13,682.41 579.64,682.68 580.16,683.71 580.7,683.74 581.26,684.13 581.84,684.56 582.44,684.95 583.05,686.09 583.69,686.22 584.34,686.32 584.91,686.88 585.5,687.43 586.11,687.75 586.73,688.65 587.37,688.36 588.02,689.3 588.68,689.6 589.33,689.59 589.99,690.36 590.65,690.69 591.3,691.23 591.93,691.26 592.62,691.83 593.31,691.51 594,691.97 594.69,692.82 595.38,693.15 596.07,693.06 596.77,693.1 597.46,693.86 598.15,693.1 598.84,693.74 599.53,694.46 600.22,694.71 600.91,694.44 601.6,694.43 602.29,695.74 602.98,695.59 603.67,695.52 604.36,696.08 605.05,696.6 605.74,695.76 606.43,697.19 607.12,697.33 607.81,696.7 608.5,697.86 609.19,697.31 609.88,698.49 610.57,698.51 611.26,699.36 611.95,698.71 612.64,699.17 613.33,699.75 614.02,699.48 614.71,699.72 615.4,700.08 616.09,700.42 616.78,700.35 617.47,701.09 618.16,701.35 618.85,701.45 619.54,702.22 620.23,701.84 620.92,702.62 621.61,702.32 622.3,703.03 622.94,702.46 623.59,703.43 624.24,703.62 624.9,703.83 625.56,704.11 626.21,704.52 626.86,704.73 627.5,704.59 628.13,705.42 628.74,705.77 629.32,706.1 629.89,706.25 630.61,706.97 631.3,707.69 631.96,707.81 632.6,708.17 633.22,709.19 633.83,709.49 634.42,709.89 635,710.36 635.58,710.28 636.33,710.84 637.06,711.75 637.78,711.74 638.48,712.35 639.14,712.91 639.76,713.19 640.33,713.14 641.15,713.55 641.81,712.93 642.44,712.61 643.18,711.67 643.44,711.09 643.71,710.59 643.99,709.41 644.27,708.72 644.57,708.25 644.86,707.87 645.16,707.46 645.47,705.85 645.77,705.59 646.08,704.5 646.38,703.83 646.68,703.31 646.97,703.01 647.34,702.1 647.69,701.66 648.04,700.24 648.38,700.11 648.72,699.43 649.08,698.49 649.46,697.98 649.86,697.05 650.29,696.32 650.77,696.02 651.38,695.42 652.09,696.05 652.86,694.55 653.67,694.82 654.47,694.01 655.22,693.73 655.9,693.59 656.47,692.87 656.9,693.21" stroke="#7dcaa5"/>
</g>
<rect x="547.7" y="613" width="108.2" height="104" fill="none" stroke="#111" stroke-width="1.4"/>
<path d="M547.7 624.3h-2.3M547.7 637.7h-2.3M547.7 651.1h-2.3M547.7 664.5h-2.3M547.7 677.9h-2.3M547.7 691.3h-2.3M547.7 704.7h-2.3M547.7 717v2.8M563.1 717v2.8M639.4 717v2.8M655.9 717v2.8" stroke="#111" stroke-width="1.1" fill="none"/>
<text x="545.1" y="627" font-size="7.5" text-anchor="end">4.0</text>
<text x="545.1" y="707.4" font-size="7.5" text-anchor="end">1.0</text>
<text x="44" y="728.8" font-size="7.5">-1.0</text>
<text x="65.6" y="728.8" font-size="7.5" text-anchor="middle">TSS</text>
<text x="142.7" y="728.8" font-size="7.5" text-anchor="middle">TES</text>
<text x="149.6" y="728.8" font-size="7.5">1.0Kb</text>
</g>
</svg>
</body></html>
